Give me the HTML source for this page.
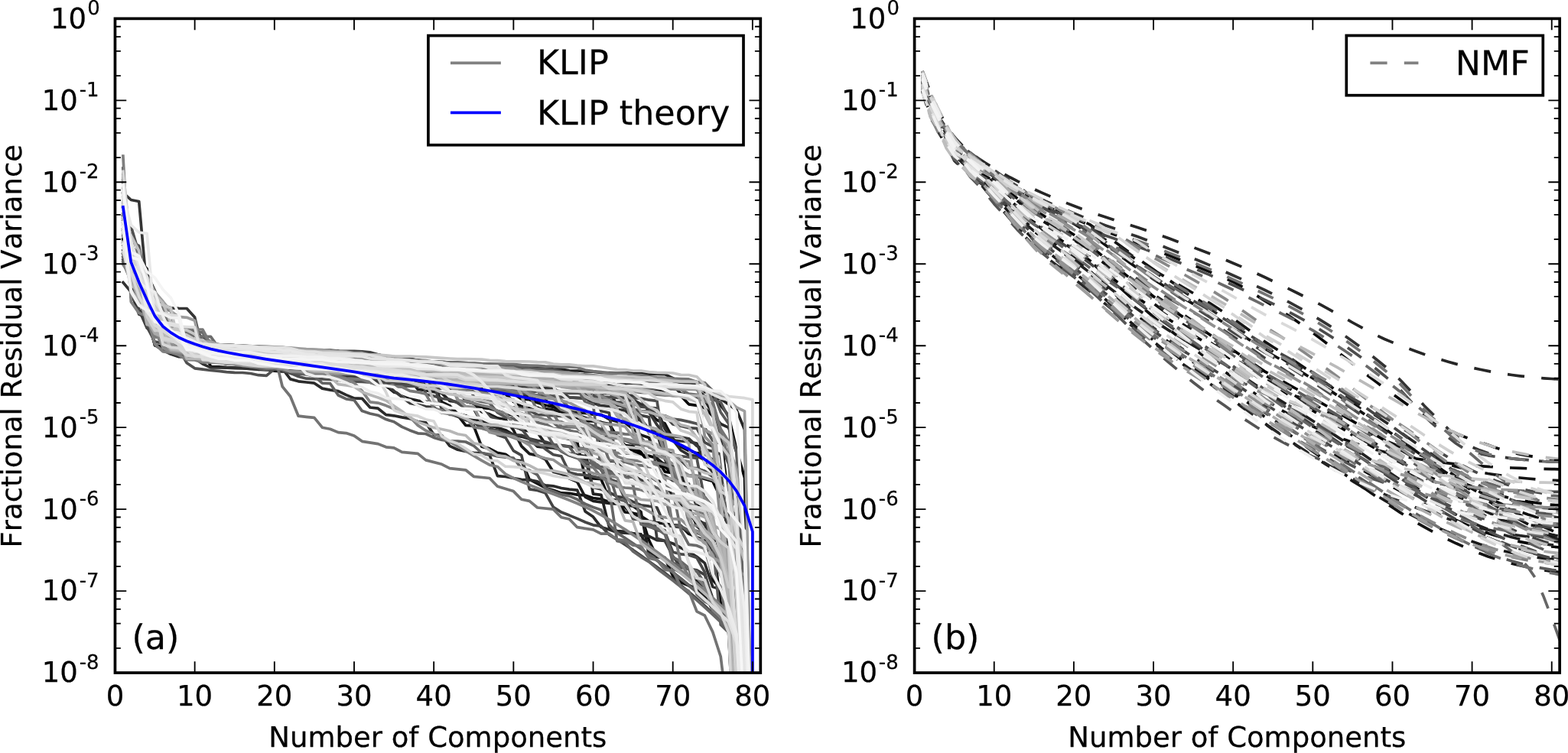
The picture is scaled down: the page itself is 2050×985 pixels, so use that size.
<!DOCTYPE html>
<html lang="en"><head><meta charset="utf-8"><title>Fractional Residual Variance: KLIP vs NMF</title>
<style>
html,body{margin:0;padding:0;background:#fff;}
body{width:2050px;height:985px;overflow:hidden;}
svg{display:block;}
text{font-family:"DejaVu Sans","Liberation Sans",sans-serif;fill:#000;stroke:#000;stroke-width:0.25px;stroke-linejoin:round;font-kerning:none;font-variant-ligatures:none;text-rendering:geometricPrecision;}
.t{font-size:37.0px;}
.s{font-size:25.9px;}
.l{font-size:44.4px;}
.k{fill:none;stroke-width:3.7;stroke-linejoin:round;stroke-linecap:square;}
.n{fill:none;stroke-width:3.7;stroke-linejoin:round;stroke-linecap:butt;stroke-dasharray:22.2 22.2;}
.sp{fill:none;stroke:#000;stroke-width:3.7;stroke-linecap:square;}
.tk{fill:none;stroke:#000;stroke-width:1.85;stroke-linecap:butt;}
</style></head><body>
<svg width="2050" height="985" viewBox="0 0 2050 985">
<rect x="0" y="0" width="2050" height="985" fill="#fff"/>
<defs>
<clipPath id="c0"><rect x="150.45" y="24.35" width="843.85" height="855.70"/></clipPath>
<clipPath id="c1"><rect x="1195.60" y="24.35" width="843.55" height="855.70"/></clipPath>
</defs>
<g clip-path="url(#c0)" class="k">
<polyline stroke="#000000" points="160.9,331.6 171.3,340.9 181.7,395.4 192.1,400.5 202.5,433.4 213.0,445.9 223.4,448.2 233.8,450.3 244.2,450.5 254.6,450.9 265.0,451.2 275.5,463.4 285.9,463.6 296.3,464.0 306.7,464.2 317.1,464.6 327.6,465.1 338.0,465.2 348.4,465.3 358.8,468.2 369.2,468.9 379.6,469.3 390.1,471.1 400.5,471.7 410.9,471.8 421.3,472.7 431.7,473.9 442.2,474.0 452.6,474.5 463.0,474.6 473.4,475.5 483.8,478.0 494.2,478.9 504.7,479.4 515.1,479.6 525.5,480.1 535.9,481.2 546.3,482.5 556.7,483.4 567.2,485.2 577.6,485.2 588.0,487.5 598.4,488.1 608.8,489.0 619.3,493.7 629.7,498.9 640.1,506.0 650.5,508.9 660.9,513.2 671.3,515.9 681.8,517.4 692.2,518.4 702.6,521.1 713.0,523.9 723.4,530.2 733.9,535.4 744.3,536.5 754.7,546.5 765.1,550.6 775.5,551.0 785.9,552.7 796.4,554.5 806.8,571.2 817.2,582.5 827.6,583.9 838.0,591.6 848.4,606.3 858.9,609.8 869.3,610.5 879.7,620.8 890.1,621.5 900.5,622.1 911.0,623.0 921.4,626.5 931.8,629.5 942.2,651.1 952.6,665.5 963.0,674.5 973.5,735.7 983.9,1040.5 994.3,1040.5"/>
<polyline stroke="#030303" points="160.9,313.7 171.3,341.3 181.7,370.6 192.1,410.9 202.5,451.9 213.0,453.2 223.4,458.4 233.8,462.4 244.2,466.1 254.6,467.1 265.0,467.2 275.5,467.4 285.9,467.9 296.3,468.9 306.7,469.6 317.1,471.2 327.6,472.1 338.0,473.0 348.4,473.8 358.8,476.1 369.2,476.4 379.6,476.4 390.1,479.9 400.5,480.6 410.9,481.1 421.3,481.3 431.7,481.5 442.2,481.8 452.6,482.7 463.0,482.9 473.4,484.8 483.8,485.1 494.2,486.2 504.7,487.1 515.1,487.6 525.5,488.1 535.9,488.1 546.3,489.6 556.7,490.6 567.2,493.5 577.6,497.9 588.0,498.3 598.4,499.6 608.8,501.5 619.3,507.2 629.7,508.2 640.1,513.1 650.5,514.0 660.9,515.3 671.3,525.4 681.8,531.6 692.2,532.6 702.6,533.3 713.0,537.7 723.4,538.6 733.9,539.6 744.3,541.8 754.7,543.2 765.1,557.8 775.5,562.7 785.9,581.4 796.4,583.2 806.8,583.6 817.2,585.9 827.6,586.4 838.0,595.4 848.4,596.3 858.9,599.4 869.3,617.1 879.7,618.6 890.1,634.3 900.5,634.8 911.0,660.4 921.4,664.8 931.8,685.5 942.2,726.8 952.6,824.5 963.0,1040.5 973.5,1040.5 983.9,1040.5 994.3,1040.5"/>
<polyline stroke="#060606" points="160.9,313.1 171.3,372.7 181.7,391.0 192.1,407.5 202.5,433.2 213.0,441.6 223.4,445.5 233.8,447.9 244.2,448.1 254.6,451.5 265.0,451.8 275.5,452.3 285.9,453.1 296.3,453.8 306.7,454.4 317.1,454.6 327.6,454.8 338.0,455.2 348.4,455.2 358.8,455.8 369.2,455.8 379.6,456.0 390.1,456.6 400.5,457.9 410.9,458.2 421.3,458.8 431.7,459.0 442.2,459.2 452.6,461.5 463.0,461.6 473.4,462.6 483.8,463.1 494.2,463.9 504.7,466.6 515.1,467.4 525.5,468.6 535.9,470.0 546.3,471.1 556.7,472.5 567.2,473.8 577.6,474.4 588.0,474.5 598.4,475.3 608.8,475.4 619.3,475.9 629.7,476.8 640.1,476.8 650.5,477.0 660.9,477.4 671.3,482.4 681.8,482.4 692.2,483.2 702.6,484.3 713.0,484.5 723.4,484.8 733.9,485.0 744.3,491.5 754.7,491.9 765.1,492.2 775.5,492.5 785.9,493.4 796.4,494.8 806.8,494.9 817.2,495.3 827.6,496.8 838.0,498.3 848.4,498.7 858.9,498.9 869.3,499.3 879.7,499.3 890.1,500.5 900.5,502.1 911.0,503.1 921.4,512.7 931.8,515.5 942.2,530.2 952.6,543.8 963.0,588.5 973.5,625.0 983.9,1040.5 994.3,1040.5"/>
<polyline stroke="#090909" points="160.9,327.8 171.3,369.8 181.7,390.8 192.1,395.4 202.5,411.9 213.0,435.8 223.4,445.1 233.8,455.9 244.2,462.6 254.6,462.9 265.0,466.4 275.5,467.6 285.9,467.9 296.3,469.7 306.7,470.3 317.1,472.5 327.6,473.1 338.0,475.2 348.4,475.2 358.8,477.1 369.2,477.1 379.6,477.2 390.1,478.4 400.5,478.8 410.9,478.9 421.3,479.4 431.7,479.9 442.2,479.9 452.6,480.1 463.0,482.6 473.4,482.7 483.8,484.4 494.2,484.9 504.7,485.8 515.1,487.3 525.5,487.4 535.9,487.4 546.3,487.6 556.7,487.7 567.2,487.8 577.6,488.1 588.0,488.9 598.4,489.9 608.8,493.2 619.3,493.6 629.7,494.5 640.1,495.8 650.5,497.8 660.9,500.0 671.3,514.9 681.8,521.9 692.2,522.7 702.6,526.7 713.0,530.0 723.4,532.4 733.9,535.6 744.3,542.1 754.7,543.1 765.1,546.4 775.5,549.7 785.9,552.2 796.4,580.6 806.8,584.2 817.2,585.7 827.6,588.9 838.0,600.2 848.4,604.4 858.9,605.5 869.3,606.5 879.7,607.9 890.1,611.2 900.5,675.6 911.0,679.1 921.4,685.9 931.8,709.5 942.2,788.4 952.6,821.9 963.0,904.1 973.5,1040.5 983.9,1040.5 994.3,1040.5"/>
<polyline stroke="#0c0c0c" points="160.9,299.8 171.3,322.1 181.7,357.1 192.1,399.9 202.5,435.5 213.0,446.7 223.4,449.4 233.8,450.8 244.2,451.5 254.6,451.7 265.0,452.1 275.5,462.9 285.9,468.2 296.3,469.1 306.7,469.2 317.1,469.3 327.6,469.4 338.0,469.5 348.4,469.6 358.8,470.5 369.2,470.6 379.6,470.7 390.1,471.4 400.5,474.8 410.9,475.9 421.3,477.1 431.7,477.4 442.2,478.3 452.6,478.4 463.0,478.5 473.4,478.5 483.8,478.8 494.2,478.8 504.7,479.1 515.1,480.5 525.5,480.5 535.9,481.4 546.3,482.3 556.7,483.1 567.2,483.7 577.6,484.2 588.0,485.6 598.4,486.2 608.8,487.2 619.3,487.4 629.7,487.5 640.1,487.5 650.5,488.8 660.9,489.3 671.3,490.4 681.8,491.7 692.2,496.7 702.6,497.6 713.0,498.4 723.4,498.6 733.9,499.4 744.3,499.8 754.7,499.8 765.1,500.1 775.5,501.0 785.9,502.1 796.4,502.1 806.8,504.4 817.2,504.8 827.6,507.0 838.0,508.0 848.4,508.2 858.9,509.5 869.3,514.3 879.7,515.6 890.1,517.8 900.5,528.8 911.0,530.3 921.4,533.8 931.8,544.1 942.2,569.2 952.6,653.5 963.0,659.2 973.5,1040.5 983.9,1040.5 994.3,1040.5"/>
<polyline stroke="#0f0f0f" points="160.9,272.7 171.3,345.1 181.7,384.5 192.1,407.6 202.5,425.9 213.0,433.4 223.4,440.7 233.8,441.4 244.2,441.7 254.6,451.7 265.0,455.1 275.5,479.5 285.9,479.9 296.3,480.7 306.7,481.2 317.1,481.6 327.6,482.0 338.0,483.3 348.4,483.3 358.8,485.1 369.2,485.9 379.6,486.0 390.1,486.9 400.5,487.3 410.9,487.9 421.3,488.7 431.7,488.9 442.2,489.0 452.6,489.1 463.0,489.2 473.4,490.6 483.8,492.6 494.2,494.2 504.7,494.8 515.1,496.8 525.5,498.9 535.9,499.7 546.3,499.7 556.7,499.7 567.2,499.9 577.6,499.9 588.0,501.1 598.4,501.6 608.8,525.0 619.3,528.1 629.7,533.4 640.1,534.4 650.5,537.6 660.9,540.7 671.3,543.1 681.8,544.4 692.2,545.4 702.6,551.9 713.0,558.0 723.4,564.1 733.9,572.1 744.3,574.3 754.7,578.6 765.1,625.2 775.5,625.9 785.9,626.7 796.4,652.7 806.8,654.6 817.2,670.0 827.6,671.2 838.0,673.5 848.4,706.5 858.9,728.6 869.3,729.7 879.7,753.5 890.1,761.7 900.5,766.0 911.0,774.1 921.4,778.6 931.8,797.9 942.2,807.7 952.6,817.7 963.0,944.4 973.5,1027.3 983.9,1040.5 994.3,1040.5"/>
<polyline stroke="#131313" points="160.9,318.9 171.3,347.7 181.7,356.3 192.1,384.9 202.5,411.1 213.0,433.4 223.4,437.7 233.8,443.4 244.2,446.4 254.6,448.6 265.0,448.8 275.5,450.8 285.9,451.1 296.3,451.7 306.7,451.8 317.1,452.4 327.6,454.7 338.0,455.6 348.4,457.1 358.8,457.4 369.2,457.5 379.6,457.6 390.1,459.8 400.5,460.8 410.9,460.9 421.3,461.6 431.7,461.7 442.2,462.0 452.6,467.9 463.0,471.2 473.4,472.8 483.8,478.1 494.2,484.6 504.7,485.9 515.1,486.4 525.5,493.5 535.9,495.0 546.3,501.7 556.7,502.9 567.2,504.1 577.6,525.8 588.0,530.9 598.4,543.0 608.8,556.4 619.3,557.1 629.7,584.1 640.1,586.9 650.5,592.3 660.9,594.2 671.3,602.0 681.8,602.8 692.2,627.2 702.6,632.6 713.0,638.2 723.4,641.3 733.9,644.9 744.3,645.3 754.7,647.1 765.1,648.0 775.5,651.5 785.9,652.8 796.4,656.7 806.8,658.3 817.2,663.4 827.6,674.0 838.0,675.0 848.4,681.7 858.9,683.7 869.3,685.2 879.7,686.6 890.1,687.6 900.5,698.4 911.0,702.6 921.4,707.1 931.8,758.7 942.2,770.3 952.6,805.0 963.0,862.9 973.5,1022.5 983.9,1040.5 994.3,1040.5"/>
<polyline stroke="#161616" points="160.9,306.8 171.3,381.4 181.7,387.5 192.1,398.1 202.5,431.2 213.0,442.6 223.4,446.1 233.8,446.8 244.2,449.1 254.6,452.0 265.0,453.4 275.5,456.6 285.9,456.8 296.3,457.6 306.7,457.6 317.1,458.4 327.6,461.3 338.0,461.6 348.4,462.0 358.8,463.9 369.2,464.5 379.6,464.6 390.1,464.7 400.5,464.9 410.9,466.5 421.3,467.1 431.7,467.8 442.2,467.9 452.6,468.4 463.0,469.2 473.4,469.8 483.8,470.6 494.2,470.6 504.7,470.7 515.1,471.2 525.5,475.2 535.9,475.5 546.3,476.9 556.7,480.8 567.2,481.0 577.6,481.2 588.0,481.2 598.4,481.6 608.8,482.8 619.3,483.0 629.7,483.2 640.1,483.8 650.5,485.9 660.9,486.5 671.3,489.0 681.8,490.2 692.2,492.3 702.6,493.8 713.0,496.1 723.4,497.1 733.9,498.7 744.3,499.6 754.7,506.1 765.1,506.9 775.5,508.6 785.9,510.4 796.4,511.7 806.8,530.1 817.2,531.7 827.6,536.5 838.0,538.0 848.4,539.3 858.9,549.5 869.3,554.0 879.7,573.7 890.1,584.3 900.5,589.5 911.0,592.7 921.4,593.7 931.8,601.4 942.2,616.9 952.6,638.6 963.0,651.4 973.5,665.7 983.9,1040.5 994.3,1040.5"/>
<polyline stroke="#191919" points="160.9,271.7 171.3,333.1 181.7,341.3 192.1,351.6 202.5,413.0 213.0,422.4 223.4,429.2 233.8,430.7 244.2,431.2 254.6,446.0 265.0,450.9 275.5,451.1 285.9,451.1 296.3,451.2 306.7,451.7 317.1,451.9 327.6,453.2 338.0,454.2 348.4,456.6 358.8,458.6 369.2,458.7 379.6,459.7 390.1,459.8 400.5,460.1 410.9,460.1 421.3,460.9 431.7,461.1 442.2,461.3 452.6,461.6 463.0,464.9 473.4,466.6 483.8,467.2 494.2,467.5 504.7,474.1 515.1,475.5 525.5,476.3 535.9,477.4 546.3,479.2 556.7,480.3 567.2,482.0 577.6,482.6 588.0,483.0 598.4,484.7 608.8,486.2 619.3,488.9 629.7,490.6 640.1,497.1 650.5,499.9 660.9,513.6 671.3,516.1 681.8,517.1 692.2,519.7 702.6,522.0 713.0,534.6 723.4,536.2 733.9,537.2 744.3,538.7 754.7,539.9 765.1,540.5 775.5,542.1 785.9,542.4 796.4,548.5 806.8,551.6 817.2,553.0 827.6,561.1 838.0,569.0 848.4,572.5 858.9,599.6 869.3,608.2 879.7,610.8 890.1,624.7 900.5,639.2 911.0,641.0 921.4,662.8 931.8,665.1 942.2,671.8 952.6,680.4 963.0,700.9 973.5,707.2 983.9,1040.5 994.3,1040.5"/>
<polyline stroke="#1c1c1c" points="160.9,236.5 171.3,344.1 181.7,396.9 192.1,408.4 202.5,432.5 213.0,434.2 223.4,447.5 233.8,448.1 244.2,463.2 254.6,467.1 265.0,469.3 275.5,470.6 285.9,471.2 296.3,473.7 306.7,474.0 317.1,477.0 327.6,477.3 338.0,478.2 348.4,478.5 358.8,480.9 369.2,481.1 379.6,481.1 390.1,481.9 400.5,483.8 410.9,483.8 421.3,485.4 431.7,487.6 442.2,489.2 452.6,489.5 463.0,492.5 473.4,492.8 483.8,498.3 494.2,498.4 504.7,498.6 515.1,500.7 525.5,501.3 535.9,501.4 546.3,501.6 556.7,501.8 567.2,501.8 577.6,505.2 588.0,505.2 598.4,506.0 608.8,525.2 619.3,527.6 629.7,538.7 640.1,541.8 650.5,546.8 660.9,548.7 671.3,562.7 681.8,583.6 692.2,593.6 702.6,595.9 713.0,600.8 723.4,617.3 733.9,620.0 744.3,625.9 754.7,630.4 765.1,650.0 775.5,655.4 785.9,657.0 796.4,658.4 806.8,659.2 817.2,660.3 827.6,662.1 838.0,669.4 848.4,725.4 858.9,733.0 869.3,740.8 879.7,748.8 890.1,756.9 900.5,765.5 911.0,770.6 921.4,782.9 931.8,793.2 942.2,802.9 952.6,812.9 963.0,848.2 973.5,946.0 983.9,1040.5 994.3,1040.5"/>
<polyline stroke="#1f1f1f" points="160.9,279.7 171.3,329.0 181.7,333.1 192.1,421.4 202.5,426.5 213.0,444.6 223.4,445.6 233.8,447.7 244.2,451.7 254.6,451.9 265.0,453.1 275.5,453.7 285.9,473.4 296.3,473.6 306.7,473.6 317.1,475.0 327.6,475.9 338.0,476.5 348.4,478.3 358.8,478.5 369.2,478.9 379.6,479.0 390.1,479.2 400.5,479.4 410.9,479.5 421.3,479.8 431.7,487.0 442.2,488.0 452.6,491.3 463.0,492.2 473.4,493.4 483.8,493.8 494.2,498.7 504.7,504.7 515.1,513.1 525.5,514.7 535.9,521.7 546.3,524.0 556.7,525.3 567.2,528.4 577.6,528.8 588.0,530.9 598.4,541.2 608.8,543.8 619.3,548.6 629.7,549.9 640.1,556.4 650.5,559.4 660.9,562.7 671.3,568.9 681.8,571.1 692.2,574.2 702.6,584.2 713.0,585.4 723.4,585.9 733.9,588.3 744.3,593.0 754.7,595.1 765.1,596.8 775.5,600.5 785.9,602.3 796.4,602.8 806.8,603.8 817.2,613.1 827.6,620.1 838.0,621.0 848.4,622.3 858.9,629.1 869.3,630.2 879.7,649.9 890.1,661.0 900.5,662.7 911.0,688.3 921.4,696.7 931.8,727.4 942.2,742.1 952.6,769.2 963.0,794.1 973.5,882.3 983.9,1040.5 994.3,1040.5"/>
<polyline stroke="#222222" points="160.9,289.8 171.3,342.3 181.7,345.3 192.1,358.2 202.5,380.5 213.0,410.0 223.4,424.6 233.8,437.5 244.2,443.9 254.6,444.8 265.0,458.8 275.5,459.1 285.9,464.7 296.3,464.8 306.7,464.9 317.1,465.0 327.6,466.0 338.0,467.1 348.4,467.4 358.8,468.7 369.2,470.8 379.6,472.0 390.1,472.7 400.5,474.0 410.9,474.4 421.3,474.7 431.7,475.3 442.2,475.5 452.6,476.5 463.0,476.7 473.4,478.6 483.8,480.5 494.2,480.9 504.7,484.3 515.1,489.0 525.5,490.7 535.9,495.3 546.3,509.5 556.7,510.7 567.2,512.6 577.6,514.3 588.0,524.4 598.4,525.8 608.8,533.4 619.3,534.5 629.7,553.0 640.1,554.6 650.5,555.2 660.9,556.6 671.3,557.0 681.8,562.1 692.2,563.9 702.6,565.8 713.0,580.4 723.4,581.8 733.9,582.7 744.3,584.0 754.7,585.8 765.1,587.3 775.5,646.1 785.9,647.3 796.4,689.4 806.8,694.6 817.2,695.3 827.6,697.8 838.0,698.9 848.4,721.3 858.9,728.0 869.3,729.7 879.7,742.8 890.1,749.1 900.5,756.3 911.0,760.0 921.4,767.4 931.8,787.4 942.2,801.7 952.6,811.7 963.0,962.1 973.5,1040.5 983.9,1040.5 994.3,1040.5"/>
<polyline stroke="#252525" points="160.9,286.8 171.3,336.3 181.7,371.2 192.1,385.7 202.5,412.1 213.0,422.0 223.4,428.7 233.8,429.3 244.2,429.9 254.6,431.4 265.0,442.8 275.5,446.7 285.9,451.1 296.3,451.6 306.7,453.6 317.1,454.6 327.6,455.5 338.0,455.7 348.4,456.1 358.8,456.9 369.2,457.1 379.6,457.1 390.1,457.8 400.5,457.9 410.9,460.8 421.3,461.2 431.7,461.5 442.2,462.6 452.6,464.3 463.0,465.7 473.4,465.7 483.8,466.6 494.2,468.5 504.7,469.2 515.1,470.2 525.5,470.2 535.9,470.3 546.3,471.6 556.7,472.7 567.2,473.0 577.6,473.3 588.0,474.0 598.4,474.1 608.8,474.5 619.3,475.3 629.7,476.9 640.1,477.0 650.5,477.1 660.9,478.4 671.3,478.9 681.8,479.2 692.2,479.3 702.6,479.9 713.0,482.4 723.4,482.9 733.9,483.1 744.3,484.8 754.7,485.0 765.1,485.8 775.5,486.2 785.9,487.5 796.4,487.7 806.8,487.8 817.2,487.8 827.6,488.4 838.0,488.6 848.4,489.1 858.9,489.4 869.3,489.6 879.7,494.6 890.1,500.2 900.5,502.2 911.0,509.7 921.4,518.3 931.8,519.9 942.2,521.7 952.6,529.0 963.0,536.4 973.5,562.0 983.9,1040.5 994.3,1040.5"/>
<polyline stroke="#282828" points="160.9,236.9 171.3,319.3 181.7,360.7 192.1,387.9 202.5,428.5 213.0,441.2 223.4,442.2 233.8,447.9 244.2,449.2 254.6,453.1 265.0,453.3 275.5,453.9 285.9,456.2 296.3,457.5 306.7,457.8 317.1,460.0 327.6,460.9 338.0,461.6 348.4,462.5 358.8,463.9 369.2,464.0 379.6,467.6 390.1,467.8 400.5,470.2 410.9,471.0 421.3,472.3 431.7,474.5 442.2,474.9 452.6,475.1 463.0,475.6 473.4,477.4 483.8,478.3 494.2,478.9 504.7,478.9 515.1,479.2 525.5,479.9 535.9,480.4 546.3,481.9 556.7,482.1 567.2,482.6 577.6,485.4 588.0,486.3 598.4,486.5 608.8,486.7 619.3,488.3 629.7,488.3 640.1,491.2 650.5,491.6 660.9,491.9 671.3,491.9 681.8,492.3 692.2,492.8 702.6,493.0 713.0,493.3 723.4,495.1 733.9,495.5 744.3,496.3 754.7,496.4 765.1,496.8 775.5,497.2 785.9,499.3 796.4,500.1 806.8,500.3 817.2,501.1 827.6,501.1 838.0,502.1 848.4,502.6 858.9,502.7 869.3,502.9 879.7,503.6 890.1,514.9 900.5,516.8 911.0,522.2 921.4,523.0 931.8,541.7 942.2,554.5 952.6,559.4 963.0,591.9 973.5,700.8 983.9,1026.0 994.3,1040.5"/>
<polyline stroke="#2b2b2b" points="160.9,318.7 171.3,359.4 181.7,380.6 192.1,405.1 202.5,427.8 213.0,432.0 223.4,432.3 233.8,432.6 244.2,450.2 254.6,454.6 265.0,455.5 275.5,461.0 285.9,462.6 296.3,464.2 306.7,465.1 317.1,468.0 327.6,468.1 338.0,468.2 348.4,469.6 358.8,470.2 369.2,482.1 379.6,495.9 390.1,498.8 400.5,500.0 410.9,501.2 421.3,508.1 431.7,510.1 442.2,511.6 452.6,516.6 463.0,520.9 473.4,521.3 483.8,533.0 494.2,534.2 504.7,542.6 515.1,543.8 525.5,545.9 535.9,547.6 546.3,551.5 556.7,552.9 567.2,568.6 577.6,569.6 588.0,583.4 598.4,588.2 608.8,590.5 619.3,592.3 629.7,592.6 640.1,595.3 650.5,622.7 660.9,623.5 671.3,625.5 681.8,627.4 692.2,627.8 702.6,629.8 713.0,634.8 723.4,635.8 733.9,638.5 744.3,640.2 754.7,641.2 765.1,668.9 775.5,676.1 785.9,689.6 796.4,692.7 806.8,696.6 817.2,697.2 827.6,697.9 838.0,700.5 848.4,701.3 858.9,706.7 869.3,707.5 879.7,711.0 890.1,716.5 900.5,721.8 911.0,728.3 921.4,736.6 931.8,767.6 942.2,770.9 952.6,783.9 963.0,802.4 973.5,1040.5 983.9,1040.5 994.3,1040.5"/>
<polyline stroke="#2e2e2e" points="160.9,296.6 171.3,376.8 181.7,406.5 192.1,408.7 202.5,431.6 213.0,453.9 223.4,458.4 233.8,459.3 244.2,459.6 254.6,459.7 265.0,460.9 275.5,462.8 285.9,462.9 296.3,463.1 306.7,464.7 317.1,467.2 327.6,467.4 338.0,468.2 348.4,469.2 358.8,470.8 369.2,473.4 379.6,473.5 390.1,473.8 400.5,474.5 410.9,474.7 421.3,474.8 431.7,475.5 442.2,475.7 452.6,476.6 463.0,477.6 473.4,477.9 483.8,479.0 494.2,479.5 504.7,479.6 515.1,480.1 525.5,480.2 535.9,480.3 546.3,480.7 556.7,481.2 567.2,481.8 577.6,483.0 588.0,483.7 598.4,484.7 608.8,484.8 619.3,484.8 629.7,484.9 640.1,485.4 650.5,486.3 660.9,488.3 671.3,488.5 681.8,489.0 692.2,490.1 702.6,491.7 713.0,492.8 723.4,493.7 733.9,493.7 744.3,494.2 754.7,494.5 765.1,496.6 775.5,507.3 785.9,513.2 796.4,513.6 806.8,518.6 817.2,519.9 827.6,522.8 838.0,528.9 848.4,533.2 858.9,534.4 869.3,561.2 879.7,575.3 890.1,589.0 900.5,595.1 911.0,596.5 921.4,601.5 931.8,605.2 942.2,624.9 952.6,640.0 963.0,659.2 973.5,746.1 983.9,1040.5 994.3,1040.5"/>
<polyline stroke="#313131" points="160.9,369.5 171.3,381.9 181.7,411.1 192.1,415.3 202.5,451.5 213.0,458.1 223.4,463.3 233.8,466.7 244.2,467.3 254.6,468.7 265.0,476.1 275.5,480.9 285.9,481.0 296.3,481.1 306.7,481.6 317.1,481.7 327.6,482.6 338.0,482.8 348.4,483.8 358.8,484.0 369.2,484.2 379.6,484.2 390.1,485.5 400.5,485.8 410.9,485.9 421.3,486.2 431.7,488.4 442.2,489.0 452.6,489.6 463.0,489.7 473.4,490.5 483.8,490.5 494.2,491.4 504.7,492.0 515.1,492.9 525.5,493.1 535.9,493.5 546.3,496.1 556.7,496.1 567.2,496.6 577.6,497.0 588.0,497.4 598.4,497.8 608.8,498.0 619.3,498.7 629.7,499.2 640.1,499.8 650.5,502.0 660.9,504.0 671.3,505.2 681.8,505.9 692.2,506.1 702.6,507.3 713.0,507.5 723.4,509.4 733.9,513.6 744.3,519.8 754.7,520.3 765.1,520.7 775.5,527.2 785.9,530.7 796.4,531.6 806.8,535.7 817.2,536.8 827.6,546.2 838.0,550.4 848.4,561.3 858.9,567.3 869.3,569.1 879.7,575.8 890.1,577.0 900.5,577.6 911.0,580.1 921.4,605.1 931.8,617.5 942.2,622.6 952.6,714.8 963.0,759.9 973.5,1040.5 983.9,1040.5 994.3,1040.5"/>
<polyline stroke="#353535" points="160.9,252.1 171.3,261.5 181.7,263.5 192.1,378.9 202.5,392.0 213.0,399.3 223.4,402.8 233.8,403.3 244.2,403.5 254.6,415.1 265.0,458.2 275.5,461.3 285.9,462.1 296.3,462.1 306.7,462.2 317.1,462.2 327.6,463.9 338.0,465.9 348.4,465.9 358.8,466.1 369.2,466.1 379.6,466.6 390.1,467.1 400.5,467.6 410.9,467.6 421.3,469.0 431.7,469.7 442.2,470.8 452.6,471.6 463.0,471.7 473.4,472.9 483.8,473.1 494.2,474.3 504.7,475.8 515.1,476.7 525.5,476.8 535.9,478.8 546.3,479.6 556.7,481.7 567.2,482.4 577.6,482.7 588.0,482.8 598.4,483.1 608.8,483.2 619.3,483.2 629.7,483.4 640.1,484.4 650.5,484.7 660.9,484.8 671.3,485.1 681.8,485.3 692.2,486.0 702.6,486.4 713.0,486.5 723.4,487.1 733.9,487.2 744.3,491.5 754.7,494.3 765.1,496.9 775.5,501.3 785.9,501.8 796.4,509.8 806.8,515.2 817.2,516.6 827.6,539.8 838.0,548.5 848.4,561.1 858.9,566.5 869.3,600.8 879.7,621.8 890.1,623.1 900.5,671.9 911.0,683.3 921.4,684.7 931.8,703.6 942.2,712.6 952.6,767.3 963.0,779.2 973.5,798.4 983.9,998.7 994.3,1040.5"/>
<polyline stroke="#383838" points="160.9,282.3 171.3,308.9 181.7,364.5 192.1,394.9 202.5,428.1 213.0,443.9 223.4,445.0 233.8,466.0 244.2,466.4 254.6,467.7 265.0,468.7 275.5,471.1 285.9,473.7 296.3,476.2 306.7,476.5 317.1,478.8 327.6,479.7 338.0,480.0 348.4,480.7 358.8,471.8 369.2,473.9 379.6,477.1 390.1,481.6 400.5,484.5 410.9,484.9 421.3,487.1 431.7,487.6 442.2,489.6 452.6,490.5 463.0,491.3 473.4,491.3 483.8,491.7 494.2,492.1 504.7,492.6 515.1,493.2 525.5,493.4 535.9,493.5 546.3,494.3 556.7,494.3 567.2,494.4 577.6,494.8 588.0,495.8 598.4,496.3 608.8,497.0 619.3,499.6 629.7,500.3 640.1,500.8 650.5,501.3 660.9,501.6 671.3,501.6 681.8,502.9 692.2,504.0 702.6,506.6 713.0,508.3 723.4,508.3 733.9,513.7 744.3,513.7 754.7,513.8 765.1,513.8 775.5,514.1 785.9,514.5 796.4,514.7 806.8,514.7 817.2,516.6 827.6,517.7 838.0,521.9 848.4,538.8 858.9,555.8 869.3,567.9 879.7,570.7 890.1,571.9 900.5,573.7 911.0,583.4 921.4,588.0 931.8,590.5 942.2,594.3 952.6,670.6 963.0,815.5 973.5,1040.5 983.9,1040.5 994.3,1040.5"/>
<polyline stroke="#3b3b3b" points="160.9,272.1 171.3,337.3 181.7,341.8 192.1,378.6 202.5,393.7 213.0,439.3 223.4,447.9 233.8,448.6 244.2,454.2 254.6,460.3 265.0,460.6 275.5,463.8 285.9,464.6 296.3,465.3 306.7,465.8 317.1,465.9 327.6,466.5 338.0,466.5 348.4,466.9 358.8,467.6 369.2,469.3 379.6,469.4 390.1,470.8 400.5,471.2 410.9,471.8 421.3,472.7 431.7,474.9 442.2,481.4 452.6,488.9 463.0,490.9 473.4,493.0 483.8,496.7 494.2,499.3 504.7,501.5 515.1,511.4 525.5,519.2 535.9,527.4 546.3,529.4 556.7,531.9 567.2,532.9 577.6,539.9 588.0,541.2 598.4,545.1 608.8,549.1 619.3,552.3 629.7,560.1 640.1,561.5 650.5,563.0 660.9,565.7 671.3,568.8 681.8,569.3 692.2,573.7 702.6,576.2 713.0,578.0 723.4,581.2 733.9,590.3 744.3,595.8 754.7,599.3 765.1,600.4 775.5,637.5 785.9,639.9 796.4,643.9 806.8,649.7 817.2,651.1 827.6,656.4 838.0,660.8 848.4,662.2 858.9,664.0 869.3,687.6 879.7,688.3 890.1,690.0 900.5,695.2 911.0,696.6 921.4,701.9 931.8,712.3 942.2,743.6 952.6,754.0 963.0,765.7 973.5,806.0 983.9,1040.5 994.3,1040.5"/>
<polyline stroke="#3e3e3e" points="160.9,316.4 171.3,375.5 181.7,388.3 192.1,428.2 202.5,440.2 213.0,443.3 223.4,449.6 233.8,451.9 244.2,455.4 254.6,455.7 265.0,460.1 275.5,460.6 285.9,462.6 296.3,466.5 306.7,468.5 317.1,468.6 327.6,468.7 338.0,468.7 348.4,469.0 358.8,470.0 369.2,470.3 379.6,470.6 390.1,470.8 400.5,474.0 410.9,474.7 421.3,476.1 431.7,476.6 442.2,476.7 452.6,477.1 463.0,477.2 473.4,478.5 483.8,478.8 494.2,478.8 504.7,478.8 515.1,478.9 525.5,479.2 535.9,482.7 546.3,485.5 556.7,485.7 567.2,485.7 577.6,487.4 588.0,487.4 598.4,488.0 608.8,488.0 619.3,488.7 629.7,488.8 640.1,493.5 650.5,493.6 660.9,494.8 671.3,495.6 681.8,496.0 692.2,497.4 702.6,498.8 713.0,499.0 723.4,500.0 733.9,500.0 744.3,500.6 754.7,504.5 765.1,511.9 775.5,512.9 785.9,537.7 796.4,540.0 806.8,612.8 817.2,618.4 827.6,621.3 838.0,628.0 848.4,629.1 858.9,704.2 869.3,707.6 879.7,727.5 890.1,742.1 900.5,744.1 911.0,745.9 921.4,751.9 931.8,782.7 942.2,792.4 952.6,802.4 963.0,1000.7 973.5,1040.5 983.9,1040.5 994.3,1040.5"/>
<polyline stroke="#414141" points="160.9,236.2 171.3,320.6 181.7,405.2 192.1,429.0 202.5,434.0 213.0,437.3 223.4,438.7 233.8,443.3 244.2,446.3 254.6,446.5 265.0,446.6 275.5,450.9 285.9,451.1 296.3,451.1 306.7,451.9 317.1,453.6 327.6,454.0 338.0,454.1 348.4,454.3 358.8,455.5 369.2,455.9 379.6,456.7 390.1,457.0 400.5,457.2 410.9,457.5 421.3,458.2 431.7,458.2 442.2,459.2 452.6,459.3 463.0,459.3 473.4,459.9 483.8,460.9 494.2,463.9 504.7,466.4 515.1,466.7 525.5,468.3 535.9,469.0 546.3,471.8 556.7,473.9 567.2,475.6 577.6,476.0 588.0,476.1 598.4,476.6 608.8,478.7 619.3,479.1 629.7,479.5 640.1,479.8 650.5,481.8 660.9,484.3 671.3,485.4 681.8,486.1 692.2,492.0 702.6,492.9 713.0,493.4 723.4,494.1 733.9,494.6 744.3,494.7 754.7,494.8 765.1,496.3 775.5,496.6 785.9,496.6 796.4,498.5 806.8,504.4 817.2,506.2 827.6,536.8 838.0,543.2 848.4,545.6 858.9,619.5 869.3,622.1 879.7,628.7 890.1,631.4 900.5,632.8 911.0,663.3 921.4,668.5 931.8,687.7 942.2,725.2 952.6,740.5 963.0,819.3 973.5,845.1 983.9,1040.5 994.3,1040.5"/>
<polyline stroke="#444444" points="160.9,321.9 171.3,361.3 181.7,393.3 192.1,395.8 202.5,438.9 213.0,443.1 223.4,443.8 233.8,445.2 244.2,445.4 254.6,457.7 265.0,459.8 275.5,460.5 285.9,467.8 296.3,470.8 306.7,472.3 317.1,474.2 327.6,474.8 338.0,475.8 348.4,478.0 358.8,480.9 369.2,480.9 379.6,481.2 390.1,481.5 400.5,482.9 410.9,483.2 421.3,484.8 431.7,484.8 442.2,485.6 452.6,485.9 463.0,486.2 473.4,486.7 483.8,491.5 494.2,493.0 504.7,493.0 515.1,493.6 525.5,493.9 535.9,493.9 546.3,498.6 556.7,499.1 567.2,502.3 577.6,535.6 588.0,537.0 598.4,543.3 608.8,549.4 619.3,551.4 629.7,556.7 640.1,557.1 650.5,569.1 660.9,572.4 671.3,589.6 681.8,595.6 692.2,639.8 702.6,641.5 713.0,644.8 723.4,663.4 733.9,670.1 744.3,674.1 754.7,678.4 765.1,683.0 775.5,686.8 785.9,688.2 796.4,699.5 806.8,705.8 817.2,712.5 827.6,719.4 838.0,726.7 848.4,734.2 858.9,741.8 869.3,749.6 879.7,757.6 890.1,765.7 900.5,774.3 911.0,783.2 921.4,792.5 931.8,802.0 942.2,811.7 952.6,821.7 963.0,829.9 973.5,1040.5 983.9,1040.5 994.3,1040.5"/>
<polyline stroke="#474747" points="160.9,339.8 171.3,366.2 181.7,385.4 192.1,427.4 202.5,447.1 213.0,448.9 223.4,454.1 233.8,461.6 244.2,461.9 254.6,463.4 265.0,468.4 275.5,470.1 285.9,470.4 296.3,470.8 306.7,470.8 317.1,470.9 327.6,471.2 338.0,471.5 348.4,473.9 358.8,478.8 369.2,480.3 379.6,488.4 390.1,489.1 400.5,489.7 410.9,490.1 421.3,490.1 431.7,491.3 442.2,492.5 452.6,494.1 463.0,495.4 473.4,495.4 483.8,495.6 494.2,496.4 504.7,500.2 515.1,500.2 525.5,503.2 535.9,503.3 546.3,503.8 556.7,506.0 567.2,507.7 577.6,508.2 588.0,508.4 598.4,509.0 608.8,509.0 619.3,511.1 629.7,511.7 640.1,511.9 650.5,512.6 660.9,513.0 671.3,513.3 681.8,515.1 692.2,515.7 702.6,517.1 713.0,517.2 723.4,518.4 733.9,519.4 744.3,520.0 754.7,520.6 765.1,521.5 775.5,522.5 785.9,523.2 796.4,523.2 806.8,526.2 817.2,526.3 827.6,528.1 838.0,532.1 848.4,533.2 858.9,543.0 869.3,543.8 879.7,554.9 890.1,557.1 900.5,559.7 911.0,560.3 921.4,578.8 931.8,584.0 942.2,617.8 952.6,643.2 963.0,913.3 973.5,1040.5 983.9,1040.5 994.3,1040.5"/>
<polyline stroke="#4a4a4a" points="160.9,246.3 171.3,349.3 181.7,351.5 192.1,409.0 202.5,419.8 213.0,446.0 223.4,446.7 233.8,448.2 244.2,449.2 254.6,449.6 265.0,449.9 275.5,451.5 285.9,452.6 296.3,452.7 306.7,453.0 317.1,455.0 327.6,455.2 338.0,455.7 348.4,455.8 358.8,457.7 369.2,458.1 379.6,460.2 390.1,460.3 400.5,460.3 410.9,460.7 421.3,461.2 431.7,462.2 442.2,465.1 452.6,465.2 463.0,465.2 473.4,465.3 483.8,465.4 494.2,467.0 504.7,467.7 515.1,470.4 525.5,470.4 535.9,473.3 546.3,474.0 556.7,515.8 567.2,518.0 577.6,521.3 588.0,522.3 598.4,527.2 608.8,534.4 619.3,535.2 629.7,536.4 640.1,544.3 650.5,549.6 660.9,553.9 671.3,558.4 681.8,560.9 692.2,574.4 702.6,579.5 713.0,587.4 723.4,594.8 733.9,596.7 744.3,618.0 754.7,620.6 765.1,621.4 775.5,623.3 785.9,625.7 796.4,626.8 806.8,630.3 817.2,652.9 827.6,678.8 838.0,679.6 848.4,688.2 858.9,693.4 869.3,696.0 879.7,722.2 890.1,724.8 900.5,725.9 911.0,729.6 921.4,748.4 931.8,788.4 942.2,802.9 952.6,812.9 963.0,1040.5 973.5,1040.5 983.9,1040.5 994.3,1040.5"/>
<polyline stroke="#4d4d4d" points="160.9,220.1 171.3,389.4 181.7,396.0 192.1,403.7 202.5,428.1 213.0,429.7 223.4,429.9 233.8,430.6 244.2,467.9 254.6,468.5 265.0,468.6 275.5,469.6 285.9,469.9 296.3,470.0 306.7,470.3 317.1,474.5 327.6,475.6 338.0,476.7 348.4,476.9 358.8,477.1 369.2,478.6 379.6,479.9 390.1,480.1 400.5,480.3 410.9,483.2 421.3,483.2 431.7,483.6 442.2,484.9 452.6,485.1 463.0,485.4 473.4,487.7 483.8,488.0 494.2,488.4 504.7,488.7 515.1,489.0 525.5,489.1 535.9,490.1 546.3,490.3 556.7,491.3 567.2,491.3 577.6,492.1 588.0,492.9 598.4,494.1 608.8,494.2 619.3,518.9 629.7,523.6 640.1,524.5 650.5,528.9 660.9,531.1 671.3,533.2 681.8,533.6 692.2,537.1 702.6,542.5 713.0,542.8 723.4,543.6 733.9,544.4 744.3,545.8 754.7,553.1 765.1,553.5 775.5,557.3 785.9,561.5 796.4,566.6 806.8,571.5 817.2,576.2 827.6,580.6 838.0,582.2 848.4,582.8 858.9,586.1 869.3,591.3 879.7,593.5 890.1,602.4 900.5,612.1 911.0,612.7 921.4,616.2 931.8,623.5 942.2,627.2 952.6,693.1 963.0,710.8 973.5,802.2 983.9,1040.5 994.3,1040.5"/>
<polyline stroke="#505050" points="160.9,272.6 171.3,296.0 181.7,331.6 192.1,402.6 202.5,439.0 213.0,442.3 223.4,456.9 233.8,457.1 244.2,474.7 254.6,481.8 265.0,483.2 275.5,484.5 285.9,485.4 296.3,486.6 306.7,487.3 317.1,487.5 327.6,488.5 338.0,490.7 348.4,491.4 358.8,482.7 369.2,484.8 379.6,488.0 390.1,492.5 400.5,495.2 410.9,495.6 421.3,495.8 431.7,496.5 442.2,497.1 452.6,499.1 463.0,499.2 473.4,499.5 483.8,500.1 494.2,501.9 504.7,503.2 515.1,504.9 525.5,504.9 535.9,505.2 546.3,505.3 556.7,505.8 567.2,505.8 577.6,506.3 588.0,506.8 598.4,506.8 608.8,506.9 619.3,507.5 629.7,509.5 640.1,509.8 650.5,510.5 660.9,511.1 671.3,511.3 681.8,511.8 692.2,512.0 702.6,512.2 713.0,513.4 723.4,513.9 733.9,514.1 744.3,514.4 754.7,514.5 765.1,514.9 775.5,519.0 785.9,519.1 796.4,519.6 806.8,520.4 817.2,520.8 827.6,520.8 838.0,521.0 848.4,523.2 858.9,524.4 869.3,589.0 879.7,594.9 890.1,596.6 900.5,598.0 911.0,599.3 921.4,654.9 931.8,668.1 942.2,685.0 952.6,692.3 963.0,1040.5 973.5,1040.5 983.9,1040.5 994.3,1040.5"/>
<polyline stroke="#535353" points="160.9,336.4 171.3,360.5 181.7,379.1 192.1,394.1 202.5,428.6 213.0,434.0 223.4,442.9 233.8,444.7 244.2,444.7 254.6,450.9 265.0,455.2 275.5,455.2 285.9,456.3 296.3,458.3 306.7,458.6 317.1,458.9 327.6,459.1 338.0,459.8 348.4,460.9 358.8,461.2 369.2,461.9 379.6,462.4 390.1,462.5 400.5,463.8 410.9,463.8 421.3,464.2 431.7,465.3 442.2,466.0 452.6,467.1 463.0,467.8 473.4,467.9 483.8,468.5 494.2,468.7 504.7,471.8 515.1,473.9 525.5,474.6 535.9,474.7 546.3,477.3 556.7,480.0 567.2,481.0 577.6,481.1 588.0,481.6 598.4,484.0 608.8,484.4 619.3,485.2 629.7,486.6 640.1,486.8 650.5,486.9 660.9,487.3 671.3,488.5 681.8,489.1 692.2,489.7 702.6,490.8 713.0,491.1 723.4,494.0 733.9,496.0 744.3,497.8 754.7,504.0 765.1,509.6 775.5,513.8 785.9,516.2 796.4,525.8 806.8,528.5 817.2,534.2 827.6,535.1 838.0,537.6 848.4,538.0 858.9,543.3 869.3,543.8 879.7,548.1 890.1,549.4 900.5,551.6 911.0,554.3 921.4,559.6 931.8,576.3 942.2,580.3 952.6,607.2 963.0,655.4 973.5,717.1 983.9,999.1 994.3,1040.5"/>
<polyline stroke="#575757" points="160.9,258.7 171.3,315.5 181.7,321.5 192.1,382.7 202.5,437.2 213.0,443.8 223.4,457.4 233.8,457.5 244.2,458.8 254.6,462.1 265.0,463.6 275.5,464.6 285.9,464.7 296.3,465.8 306.7,466.2 317.1,468.5 327.6,468.6 338.0,469.0 348.4,469.7 358.8,469.8 369.2,472.7 379.6,472.8 390.1,473.1 400.5,475.4 410.9,475.6 421.3,476.7 431.7,477.1 442.2,477.5 452.6,479.3 463.0,480.8 473.4,481.7 483.8,483.5 494.2,483.7 504.7,483.8 515.1,484.1 525.5,484.9 535.9,485.6 546.3,485.8 556.7,486.2 567.2,488.1 577.6,489.2 588.0,490.2 598.4,491.4 608.8,492.6 619.3,492.7 629.7,495.5 640.1,496.6 650.5,496.7 660.9,496.8 671.3,497.3 681.8,498.2 692.2,498.5 702.6,500.4 713.0,500.9 723.4,501.4 733.9,503.6 744.3,505.7 754.7,506.1 765.1,507.0 775.5,508.2 785.9,508.2 796.4,509.1 806.8,510.8 817.2,510.9 827.6,512.0 838.0,513.5 848.4,513.9 858.9,516.2 869.3,516.8 879.7,516.8 890.1,517.6 900.5,517.6 911.0,518.4 921.4,522.0 931.8,522.4 942.2,526.2 952.6,546.4 963.0,676.0 973.5,825.3 983.9,1040.5 994.3,1040.5"/>
<polyline stroke="#5a5a5a" points="160.9,239.7 171.3,361.1 181.7,364.2 192.1,415.1 202.5,426.0 213.0,439.0 223.4,439.7 233.8,440.5 244.2,440.6 254.6,449.7 265.0,449.8 275.5,450.9 285.9,451.1 296.3,451.9 306.7,452.1 317.1,452.5 327.6,452.8 338.0,453.1 348.4,453.3 358.8,453.8 369.2,454.4 379.6,455.6 390.1,457.8 400.5,458.7 410.9,461.2 421.3,462.4 431.7,462.6 442.2,464.7 452.6,464.7 463.0,464.9 473.4,467.7 483.8,468.9 494.2,469.5 504.7,470.4 515.1,472.0 525.5,472.3 535.9,474.1 546.3,474.1 556.7,474.5 567.2,477.3 577.6,477.5 588.0,477.9 598.4,478.3 608.8,478.3 619.3,478.4 629.7,479.5 640.1,479.5 650.5,479.5 660.9,479.9 671.3,480.0 681.8,480.4 692.2,481.9 702.6,482.8 713.0,482.8 723.4,484.1 733.9,485.7 744.3,488.2 754.7,489.8 765.1,490.0 775.5,490.9 785.9,492.1 796.4,492.5 806.8,494.8 817.2,494.8 827.6,495.8 838.0,495.8 848.4,496.8 858.9,497.4 869.3,497.8 879.7,498.5 890.1,499.4 900.5,499.7 911.0,499.8 921.4,500.9 931.8,511.2 942.2,539.2 952.6,554.3 963.0,592.0 973.5,803.4 983.9,1040.5 994.3,1040.5"/>
<polyline stroke="#5d5d5d" points="160.9,270.2 171.3,354.0 181.7,387.9 192.1,394.7 202.5,397.1 213.0,448.9 223.4,458.2 233.8,462.9 244.2,463.3 254.6,465.2 265.0,467.7 275.5,470.0 285.9,471.3 296.3,471.8 306.7,473.1 317.1,473.7 327.6,473.9 338.0,474.0 348.4,474.1 358.8,474.3 369.2,477.8 379.6,478.7 390.1,479.6 400.5,479.7 410.9,480.1 421.3,481.7 431.7,483.1 442.2,483.1 452.6,485.5 463.0,487.0 473.4,488.2 483.8,489.0 494.2,491.7 504.7,493.8 515.1,493.8 525.5,494.2 535.9,494.6 546.3,494.7 556.7,495.5 567.2,495.5 577.6,498.2 588.0,500.5 598.4,505.9 608.8,522.1 619.3,522.9 629.7,525.5 640.1,527.2 650.5,539.7 660.9,545.9 671.3,547.3 681.8,557.1 692.2,559.6 702.6,561.1 713.0,564.5 723.4,581.4 733.9,583.1 744.3,584.4 754.7,598.6 765.1,604.6 775.5,606.5 785.9,608.9 796.4,615.7 806.8,621.4 817.2,623.3 827.6,624.2 838.0,632.0 848.4,632.9 858.9,638.1 869.3,649.6 879.7,687.0 890.1,688.4 900.5,693.6 911.0,694.7 921.4,696.8 931.8,708.8 942.2,817.2 952.6,827.2 963.0,1040.5 973.5,1040.5 983.9,1040.5 994.3,1040.5"/>
<polyline stroke="#606060" points="160.9,342.7 171.3,368.6 181.7,379.1 192.1,425.1 202.5,430.1 213.0,446.0 223.4,449.7 233.8,450.9 244.2,453.6 254.6,454.7 265.0,457.6 275.5,460.8 285.9,463.3 296.3,464.0 306.7,465.3 317.1,465.7 327.6,466.3 338.0,467.0 348.4,469.1 358.8,469.3 369.2,469.9 379.6,469.9 390.1,471.4 400.5,472.8 410.9,474.2 421.3,474.7 431.7,477.0 442.2,477.5 452.6,478.3 463.0,478.6 473.4,479.2 483.8,479.3 494.2,480.1 504.7,480.4 515.1,480.6 525.5,481.3 535.9,481.9 546.3,483.2 556.7,484.2 567.2,486.0 577.6,486.5 588.0,487.1 598.4,487.4 608.8,488.2 619.3,488.2 629.7,488.4 640.1,489.6 650.5,490.7 660.9,491.2 671.3,491.6 681.8,491.9 692.2,492.0 702.6,493.9 713.0,495.6 723.4,501.4 733.9,503.5 744.3,505.2 754.7,507.7 765.1,526.0 775.5,529.0 785.9,615.3 796.4,620.3 806.8,652.7 817.2,655.5 827.6,676.4 838.0,681.3 848.4,684.8 858.9,691.1 869.3,693.9 879.7,736.3 890.1,741.0 900.5,744.7 911.0,747.4 921.4,763.0 931.8,789.0 942.2,798.8 952.6,808.8 963.0,828.2 973.5,862.8 983.9,1040.5 994.3,1040.5"/>
<polyline stroke="#636363" points="160.9,255.4 171.3,319.3 181.7,341.6 192.1,382.7 202.5,394.9 213.0,442.4 223.4,460.7 233.8,462.5 244.2,465.0 254.6,465.7 265.0,468.1 275.5,468.7 285.9,472.8 296.3,473.4 306.7,476.4 317.1,477.2 327.6,479.8 338.0,481.8 348.4,483.7 358.8,481.5 369.2,483.6 379.6,486.2 390.1,488.3 400.5,489.6 410.9,492.2 421.3,501.2 431.7,501.7 442.2,517.0 452.6,521.9 463.0,523.3 473.4,537.6 483.8,541.0 494.2,543.2 504.7,548.6 515.1,551.8 525.5,558.4 535.9,562.9 546.3,566.8 556.7,567.5 567.2,572.4 577.6,575.5 588.0,576.8 598.4,577.2 608.8,578.0 619.3,583.0 629.7,592.5 640.1,594.3 650.5,596.9 660.9,598.1 671.3,599.0 681.8,612.9 692.2,615.3 702.6,621.2 713.0,638.7 723.4,642.7 733.9,646.9 744.3,648.9 754.7,653.3 765.1,659.2 775.5,663.5 785.9,666.9 796.4,686.3 806.8,697.1 817.2,703.8 827.6,710.7 838.0,718.0 848.4,725.5 858.9,733.1 869.3,740.9 879.7,748.9 890.1,757.0 900.5,765.6 911.0,774.5 921.4,783.8 931.8,793.3 942.2,803.0 952.6,813.0 963.0,841.9 973.5,973.2 983.9,1040.5 994.3,1040.5"/>
<polyline stroke="#666666" points="160.9,262.8 171.3,355.9 181.7,369.3 192.1,379.7 202.5,390.4 213.0,430.8 223.4,431.8 233.8,433.1 244.2,434.1 254.6,437.0 265.0,453.8 275.5,464.5 285.9,465.5 296.3,465.5 306.7,465.5 317.1,465.5 327.6,465.6 338.0,466.0 348.4,468.0 358.8,470.4 369.2,471.3 379.6,471.5 390.1,471.5 400.5,472.2 410.9,473.2 421.3,473.3 431.7,473.9 442.2,475.7 452.6,476.0 463.0,476.5 473.4,476.5 483.8,476.6 494.2,477.1 504.7,477.4 515.1,477.4 525.5,478.1 535.9,478.4 546.3,478.5 556.7,478.6 567.2,479.5 577.6,479.9 588.0,480.1 598.4,481.9 608.8,486.6 619.3,486.9 629.7,487.8 640.1,489.6 650.5,491.6 660.9,491.8 671.3,492.1 681.8,493.7 692.2,494.3 702.6,506.5 713.0,540.8 723.4,552.6 733.9,561.7 744.3,563.7 754.7,565.0 765.1,586.1 775.5,609.5 785.9,613.9 796.4,639.4 806.8,707.7 817.2,709.7 827.6,721.3 838.0,728.6 848.4,734.9 858.9,743.7 869.3,751.5 879.7,759.4 890.1,767.6 900.5,776.2 911.0,785.1 921.4,794.3 931.8,803.9 942.2,813.6 952.6,823.6 963.0,1029.3 973.5,1040.5 983.9,1040.5 994.3,1040.5"/>
<polyline stroke="#696969" points="160.9,292.1 171.3,355.3 181.7,397.3 192.1,409.5 202.5,422.2 213.0,426.8 223.4,428.6 233.8,432.5 244.2,433.3 254.6,434.8 265.0,434.8 275.5,455.0 285.9,455.0 296.3,455.4 306.7,456.1 317.1,456.6 327.6,457.9 338.0,458.5 348.4,459.7 358.8,460.1 369.2,461.9 379.6,462.4 390.1,463.2 400.5,464.3 410.9,464.7 421.3,464.9 431.7,467.4 442.2,468.5 452.6,468.5 463.0,469.0 473.4,469.9 483.8,471.7 494.2,471.9 504.7,472.4 515.1,473.9 525.5,474.5 535.9,475.4 546.3,475.4 556.7,476.1 567.2,478.8 577.6,478.8 588.0,479.3 598.4,480.0 608.8,481.5 619.3,481.5 629.7,481.6 640.1,484.3 650.5,484.4 660.9,488.3 671.3,495.1 681.8,500.3 692.2,505.9 702.6,509.9 713.0,511.4 723.4,514.7 733.9,523.1 744.3,533.3 754.7,560.1 765.1,566.8 775.5,603.5 785.9,614.1 796.4,619.2 806.8,620.4 817.2,622.4 827.6,634.7 838.0,685.7 848.4,689.1 858.9,691.5 869.3,699.1 879.7,728.9 890.1,734.4 900.5,742.9 911.0,777.5 921.4,786.8 931.8,792.4 942.2,806.1 952.6,816.1 963.0,1013.7 973.5,1040.5 983.9,1040.5 994.3,1040.5"/>
<polyline stroke="#6c6c6c" points="160.9,292.5 171.3,342.7 181.7,390.5 192.1,406.9 202.5,431.6 213.0,433.3 223.4,435.6 233.8,438.4 244.2,438.7 254.6,439.5 265.0,440.2 275.5,440.4 285.9,454.8 296.3,454.8 306.7,455.2 317.1,455.7 327.6,456.7 338.0,456.8 348.4,458.0 358.8,458.4 369.2,458.6 379.6,459.6 390.1,460.9 400.5,461.1 410.9,461.5 421.3,462.5 431.7,463.1 442.2,463.3 452.6,463.4 463.0,468.1 473.4,469.6 483.8,469.8 494.2,469.9 504.7,475.3 515.1,476.9 525.5,478.4 535.9,482.6 546.3,484.3 556.7,485.1 567.2,485.8 577.6,489.1 588.0,489.6 598.4,494.4 608.8,495.7 619.3,497.3 629.7,502.1 640.1,506.1 650.5,511.8 660.9,512.6 671.3,514.1 681.8,516.9 692.2,541.4 702.6,553.1 713.0,554.3 723.4,560.7 733.9,561.7 744.3,562.8 754.7,567.1 765.1,568.8 775.5,570.0 785.9,575.1 796.4,602.0 806.8,603.6 817.2,604.3 827.6,607.4 838.0,608.8 848.4,610.7 858.9,611.7 869.3,632.6 879.7,641.3 890.1,693.5 900.5,712.4 911.0,713.7 921.4,717.9 931.8,753.5 942.2,767.5 952.6,829.2 963.0,955.6 973.5,1040.5 983.9,1040.5 994.3,1040.5"/>
<polyline stroke="#6f6f6f" points="160.9,301.8 171.3,321.7 181.7,332.2 192.1,365.7 202.5,404.4 213.0,429.1 223.4,431.1 233.8,435.0 244.2,439.1 254.6,444.3 265.0,445.5 275.5,454.0 285.9,454.2 296.3,458.3 306.7,459.3 317.1,459.3 327.6,461.6 338.0,463.3 348.4,463.5 358.8,467.5 369.2,467.8 379.6,467.9 390.1,468.3 400.5,470.1 410.9,471.0 421.3,472.2 431.7,472.5 442.2,473.8 452.6,475.3 463.0,476.9 473.4,477.4 483.8,477.9 494.2,478.8 504.7,479.2 515.1,485.2 525.5,485.6 535.9,488.5 546.3,488.5 556.7,490.3 567.2,491.1 577.6,491.3 588.0,491.3 598.4,494.9 608.8,495.0 619.3,501.3 629.7,504.2 640.1,505.9 650.5,506.4 660.9,507.1 671.3,508.2 681.8,509.4 692.2,516.9 702.6,536.9 713.0,537.9 723.4,541.4 733.9,558.0 744.3,558.6 754.7,559.1 765.1,561.6 775.5,562.2 785.9,565.0 796.4,565.3 806.8,566.1 817.2,567.9 827.6,568.3 838.0,572.1 848.4,584.9 858.9,588.9 869.3,598.2 879.7,617.6 890.1,638.0 900.5,639.1 911.0,648.3 921.4,649.9 931.8,662.9 942.2,681.0 952.6,733.4 963.0,775.8 973.5,1040.5 983.9,1040.5 994.3,1040.5"/>
<polyline stroke="#727272" points="160.9,228.4 171.3,326.5 181.7,338.9 192.1,393.9 202.5,401.0 213.0,403.1 223.4,406.8 233.8,454.8 244.2,457.1 254.6,457.8 265.0,458.7 275.5,465.4 285.9,465.9 296.3,466.2 306.7,466.4 317.1,467.2 327.6,468.6 338.0,468.6 348.4,468.8 358.8,469.0 369.2,469.5 379.6,471.3 390.1,473.1 400.5,474.0 410.9,474.0 421.3,474.2 431.7,475.5 442.2,476.8 452.6,477.8 463.0,478.5 473.4,479.1 483.8,479.1 494.2,480.3 504.7,480.4 515.1,481.0 525.5,482.0 535.9,482.8 546.3,483.6 556.7,483.7 567.2,483.7 577.6,485.4 588.0,486.1 598.4,486.4 608.8,486.9 619.3,487.1 629.7,488.0 640.1,489.0 650.5,493.2 660.9,494.0 671.3,494.9 681.8,498.0 692.2,499.0 702.6,499.2 713.0,500.3 723.4,500.3 733.9,500.6 744.3,501.9 754.7,502.4 765.1,504.3 775.5,505.0 785.9,505.4 796.4,506.3 806.8,506.5 817.2,506.5 827.6,507.3 838.0,507.7 848.4,507.8 858.9,508.0 869.3,508.6 879.7,508.9 890.1,509.7 900.5,515.2 911.0,516.4 921.4,524.7 931.8,528.7 942.2,565.2 952.6,599.1 963.0,762.3 973.5,860.0 983.9,1040.5 994.3,1040.5"/>
<polyline stroke="#737373" points="160.9,302.5 171.3,345.2 181.7,377.3 192.1,398.7 202.5,420.1 213.0,428.7 233.8,436.2 254.6,444.7 296.3,452.2 338.0,458.6 358.8,462.9 369.2,505.7 379.6,518.5 390.1,544.2 400.5,545.3 410.9,546.3 421.3,559.2 431.7,561.3 442.2,565.6 452.6,566.6 463.0,569.9 473.4,577.3 494.2,580.6 504.7,584.8 515.1,585.9 525.5,591.3 546.3,593.4 556.7,601.9 577.6,607.3 588.0,612.6 608.8,614.8 619.3,623.3 640.1,625.5 650.5,636.2 671.3,642.6 681.8,653.3 692.2,655.4 702.6,664.0 723.4,666.1 733.9,676.8 744.3,679.0 754.7,689.7 775.5,692.9 785.9,698.2 796.4,698.2 806.8,705.7 817.2,706.8 827.6,713.2 838.0,714.3 848.4,730.3 858.9,732.4 869.3,745.3 879.7,746.3 890.1,767.7 900.5,773.1 911.0,799.8 921.4,805.2 931.8,826.6 942.2,858.7 952.6,944.2 963.0,1040.5"/>
<polyline stroke="#757575" points="160.9,333.2 171.3,368.1 181.7,372.1 192.1,394.2 202.5,395.0 213.0,402.0 223.4,428.3 233.8,429.5 244.2,432.5 254.6,452.9 265.0,453.9 275.5,454.2 285.9,456.3 296.3,457.4 306.7,457.6 317.1,457.7 327.6,457.9 338.0,458.1 348.4,459.2 358.8,459.3 369.2,461.1 379.6,463.0 390.1,463.4 400.5,464.9 410.9,465.0 421.3,465.1 431.7,466.2 442.2,466.7 452.6,468.4 463.0,468.6 473.4,469.5 483.8,469.8 494.2,470.3 504.7,470.6 515.1,470.7 525.5,470.8 535.9,470.8 546.3,471.1 556.7,471.7 567.2,473.3 577.6,473.4 588.0,474.3 598.4,474.6 608.8,474.8 619.3,474.9 629.7,475.7 640.1,475.9 650.5,476.0 660.9,476.3 671.3,476.3 681.8,477.7 692.2,478.1 702.6,478.3 713.0,479.2 723.4,479.4 733.9,479.9 744.3,479.9 754.7,480.4 765.1,484.1 775.5,485.6 785.9,486.6 796.4,488.0 806.8,488.0 817.2,488.3 827.6,490.3 838.0,490.5 848.4,492.6 858.9,493.8 869.3,494.4 879.7,495.2 890.1,495.6 900.5,495.9 911.0,499.5 921.4,500.9 931.8,525.4 942.2,561.0 952.6,577.4 963.0,768.9 973.5,843.1 983.9,1040.5 994.3,1040.5"/>
<polyline stroke="#797979" points="160.9,302.9 171.3,329.7 181.7,352.5 192.1,373.2 202.5,422.5 213.0,425.5 223.4,427.7 233.8,429.9 244.2,430.0 254.6,430.9 265.0,431.0 275.5,450.8 285.9,451.8 296.3,452.4 306.7,454.5 317.1,455.1 327.6,457.4 338.0,457.5 348.4,457.8 358.8,458.8 369.2,459.3 379.6,471.6 390.1,472.1 400.5,472.6 410.9,481.7 421.3,484.6 431.7,485.1 442.2,492.1 452.6,495.1 463.0,495.6 473.4,496.4 483.8,500.4 494.2,503.7 504.7,504.5 515.1,505.7 525.5,506.1 535.9,511.4 546.3,512.9 556.7,515.3 567.2,534.4 577.6,536.7 588.0,542.5 598.4,542.8 608.8,545.6 619.3,559.0 629.7,560.2 640.1,563.4 650.5,564.6 660.9,568.8 671.3,572.6 681.8,576.5 692.2,578.7 702.6,581.7 713.0,582.5 723.4,584.1 733.9,589.7 744.3,594.9 754.7,598.6 765.1,609.4 775.5,611.4 785.9,623.7 796.4,631.7 806.8,636.6 817.2,638.0 827.6,638.9 838.0,640.8 848.4,644.7 858.9,646.1 869.3,647.7 879.7,649.2 890.1,657.2 900.5,662.2 911.0,668.3 921.4,672.4 931.8,704.4 942.2,744.7 952.6,769.7 963.0,811.0 973.5,1040.5 983.9,1040.5 994.3,1040.5"/>
<polyline stroke="#7c7c7c" points="160.9,270.1 171.3,361.8 181.7,383.1 192.1,393.7 202.5,440.6 213.0,442.3 223.4,446.3 233.8,448.7 244.2,456.5 254.6,460.9 265.0,462.6 275.5,466.7 285.9,467.2 296.3,467.6 306.7,467.6 317.1,468.0 327.6,469.2 338.0,469.2 348.4,471.5 358.8,471.9 369.2,473.2 379.6,476.6 390.1,477.2 400.5,477.9 410.9,477.9 421.3,478.0 431.7,478.5 442.2,481.2 452.6,481.2 463.0,481.6 473.4,481.7 483.8,481.9 494.2,483.3 504.7,489.8 515.1,490.9 525.5,491.3 535.9,494.5 546.3,494.9 556.7,496.1 567.2,498.0 577.6,498.3 588.0,498.6 598.4,499.3 608.8,501.9 619.3,502.0 629.7,502.0 640.1,505.0 650.5,508.5 660.9,508.5 671.3,512.2 681.8,512.5 692.2,513.4 702.6,517.8 713.0,525.5 723.4,527.1 733.9,536.1 744.3,539.2 754.7,542.7 765.1,556.7 775.5,566.3 785.9,575.8 796.4,578.4 806.8,596.9 817.2,601.2 827.6,602.1 838.0,603.3 848.4,606.1 858.9,608.0 869.3,626.5 879.7,689.4 890.1,736.6 900.5,753.6 911.0,755.4 921.4,767.4 931.8,798.5 942.2,808.2 952.6,818.2 963.0,824.3 973.5,999.0 983.9,1040.5 994.3,1040.5"/>
<polyline stroke="#7f7f7f" points="160.9,204.1 171.3,394.7 181.7,409.6 192.1,413.6 202.5,450.1 213.0,459.9 223.4,461.1 233.8,464.3 244.2,470.6 254.6,471.0 265.0,474.0 275.5,474.1 285.9,474.7 296.3,474.9 306.7,475.0 317.1,475.5 327.6,476.9 338.0,477.9 348.4,477.9 358.8,478.2 369.2,478.9 379.6,479.2 390.1,479.3 400.5,479.9 410.9,480.1 421.3,480.4 431.7,480.7 442.2,480.9 452.6,480.9 463.0,482.1 473.4,482.1 483.8,483.5 494.2,483.6 504.7,485.8 515.1,488.1 525.5,488.4 535.9,489.4 546.3,489.4 556.7,490.3 567.2,490.8 577.6,491.8 588.0,497.8 598.4,523.5 608.8,525.1 619.3,527.6 629.7,530.2 640.1,532.5 650.5,537.5 660.9,540.7 671.3,554.3 681.8,554.7 692.2,557.1 702.6,559.6 713.0,560.1 723.4,564.0 733.9,565.6 744.3,566.4 754.7,586.7 765.1,587.4 775.5,588.4 785.9,588.9 796.4,591.9 806.8,592.4 817.2,593.3 827.6,594.6 838.0,602.3 848.4,604.0 858.9,605.2 869.3,608.0 879.7,611.7 890.1,629.5 900.5,686.9 911.0,687.5 921.4,692.7 931.8,709.1 942.2,728.2 952.6,738.2 963.0,832.8 973.5,869.8 983.9,1040.5 994.3,1040.5"/>
<polyline stroke="#828282" points="160.9,285.1 171.3,334.1 181.7,340.8 192.1,416.2 202.5,432.0 213.0,454.4 223.4,458.7 233.8,459.6 244.2,459.8 254.6,462.5 265.0,463.5 275.5,463.7 285.9,463.8 296.3,464.9 306.7,465.6 317.1,465.6 327.6,467.1 338.0,469.4 348.4,470.4 358.8,470.3 369.2,471.2 379.6,471.3 390.1,471.7 400.5,472.8 410.9,480.4 421.3,481.1 431.7,491.2 442.2,494.9 452.6,496.5 463.0,500.8 473.4,511.4 483.8,525.9 494.2,527.1 504.7,530.6 515.1,534.8 525.5,540.1 535.9,545.4 546.3,556.4 556.7,563.3 567.2,567.6 577.6,572.6 588.0,578.0 598.4,583.8 608.8,589.9 619.3,596.1 629.7,602.4 640.1,608.1 650.5,610.5 660.9,620.2 671.3,625.4 681.8,630.1 692.2,634.4 702.6,638.5 713.0,642.4 723.4,646.3 733.9,650.2 744.3,654.2 754.7,658.5 765.1,663.1 775.5,668.2 785.9,673.7 796.4,679.6 806.8,686.0 817.2,692.6 827.6,699.6 838.0,706.8 848.4,714.3 858.9,722.0 869.3,729.8 879.7,737.7 890.1,745.9 900.5,754.4 911.0,763.4 921.4,772.6 931.8,782.1 942.2,791.9 952.6,801.9 963.0,934.2 973.5,1040.5 983.9,1040.5 994.3,1040.5"/>
<polyline stroke="#858585" points="160.9,346.0 171.3,362.5 181.7,377.8 192.1,398.3 202.5,405.0 213.0,446.8 223.4,449.6 233.8,457.5 244.2,460.0 254.6,460.5 265.0,464.4 275.5,467.1 285.9,468.3 296.3,468.4 306.7,470.3 317.1,471.1 327.6,471.2 338.0,472.3 348.4,475.1 358.8,475.3 369.2,479.4 379.6,480.9 390.1,481.0 400.5,481.0 410.9,481.9 421.3,482.0 431.7,482.9 442.2,484.1 452.6,484.6 463.0,485.1 473.4,485.4 483.8,485.5 494.2,485.9 504.7,488.6 515.1,489.0 525.5,489.1 535.9,489.4 546.3,489.5 556.7,489.6 567.2,489.7 577.6,490.6 588.0,490.8 598.4,491.4 608.8,493.1 619.3,493.5 629.7,493.5 640.1,493.5 650.5,494.1 660.9,494.1 671.3,494.6 681.8,494.6 692.2,494.7 702.6,495.3 713.0,496.1 723.4,498.7 733.9,500.9 744.3,501.4 754.7,502.0 765.1,511.4 775.5,513.5 785.9,518.1 796.4,523.4 806.8,537.1 817.2,551.4 827.6,553.2 838.0,556.8 848.4,558.6 858.9,561.4 869.3,593.1 879.7,598.4 890.1,601.9 900.5,603.7 911.0,631.7 921.4,653.0 931.8,662.2 942.2,670.8 952.6,677.9 963.0,720.0 973.5,860.1 983.9,1020.5 994.3,1040.5"/>
<polyline stroke="#888888" points="160.9,289.1 171.3,318.8 181.7,366.6 192.1,389.4 202.5,413.8 213.0,420.7 223.4,426.2 233.8,442.5 244.2,447.2 254.6,450.2 265.0,450.6 275.5,450.8 285.9,451.1 296.3,453.4 306.7,453.6 317.1,453.6 327.6,454.6 338.0,455.4 348.4,455.5 358.8,456.1 369.2,456.6 379.6,460.3 390.1,465.2 400.5,465.2 410.9,465.9 421.3,466.8 431.7,468.1 442.2,468.3 452.6,468.6 463.0,469.6 473.4,470.1 483.8,473.0 494.2,476.2 504.7,477.2 515.1,478.8 525.5,487.4 535.9,490.0 546.3,490.9 556.7,492.7 567.2,502.9 577.6,505.5 588.0,505.7 598.4,510.5 608.8,511.4 619.3,513.1 629.7,514.0 640.1,515.9 650.5,516.5 660.9,527.3 671.3,537.9 681.8,540.8 692.2,544.2 702.6,545.2 713.0,548.9 723.4,551.1 733.9,551.6 744.3,557.0 754.7,558.5 765.1,564.9 775.5,567.9 785.9,571.8 796.4,573.0 806.8,573.4 817.2,574.0 827.6,576.4 838.0,577.8 848.4,584.3 858.9,585.2 869.3,590.0 879.7,597.6 890.1,615.4 900.5,621.7 911.0,622.1 921.4,625.0 931.8,628.1 942.2,635.1 952.6,648.9 963.0,662.6 973.5,816.9 983.9,1040.5 994.3,1040.5"/>
<polyline stroke="#8b8b8b" points="160.9,284.5 171.3,336.9 181.7,387.6 192.1,400.1 202.5,414.4 213.0,455.3 223.4,459.7 233.8,461.2 244.2,463.1 254.6,463.7 265.0,465.9 275.5,467.2 285.9,467.3 296.3,467.5 306.7,468.0 317.1,468.2 327.6,468.3 338.0,468.8 348.4,468.9 358.8,470.0 369.2,470.6 379.6,471.3 390.1,471.8 400.5,475.2 410.9,475.2 421.3,475.3 431.7,475.3 442.2,476.2 452.6,476.7 463.0,477.2 473.4,478.2 483.8,478.5 494.2,478.7 504.7,479.0 515.1,479.1 525.5,479.5 535.9,480.3 546.3,480.5 556.7,482.2 567.2,482.8 577.6,486.5 588.0,486.6 598.4,487.7 608.8,488.4 619.3,488.5 629.7,490.1 640.1,490.7 650.5,491.4 660.9,493.2 671.3,494.7 681.8,496.3 692.2,499.1 702.6,511.9 713.0,515.9 723.4,521.0 733.9,532.9 744.3,535.0 754.7,535.9 765.1,552.3 775.5,560.5 785.9,567.1 796.4,569.3 806.8,570.6 817.2,575.5 827.6,578.1 838.0,579.4 848.4,580.7 858.9,595.9 869.3,599.4 879.7,607.0 890.1,610.3 900.5,638.0 911.0,639.2 921.4,667.3 931.8,716.6 942.2,717.9 952.6,724.7 963.0,745.7 973.5,752.2 983.9,1040.5 994.3,1040.5"/>
<polyline stroke="#8e8e8e" points="160.9,268.2 171.3,368.5 181.7,372.9 192.1,379.5 202.5,425.3 213.0,425.4 223.4,431.1 233.8,431.8 244.2,442.6 254.6,445.2 265.0,446.5 275.5,446.8 285.9,451.1 296.3,452.9 306.7,452.9 317.1,454.4 327.6,454.7 338.0,455.4 348.4,462.7 358.8,462.7 369.2,463.8 379.6,464.6 390.1,464.7 400.5,465.6 410.9,466.1 421.3,467.8 431.7,468.8 442.2,470.3 452.6,470.4 463.0,470.5 473.4,471.1 483.8,471.2 494.2,471.6 504.7,471.7 515.1,471.8 525.5,472.2 535.9,472.3 546.3,472.3 556.7,472.5 567.2,474.8 577.6,474.8 588.0,475.0 598.4,475.6 608.8,475.7 619.3,476.3 629.7,477.9 640.1,479.1 650.5,480.2 660.9,481.1 671.3,481.1 681.8,485.2 692.2,485.3 702.6,485.5 713.0,486.2 723.4,486.3 733.9,487.1 744.3,487.2 754.7,489.6 765.1,491.0 775.5,491.5 785.9,491.5 796.4,491.5 806.8,492.3 817.2,492.7 827.6,493.7 838.0,493.8 848.4,494.0 858.9,494.5 869.3,494.5 879.7,497.0 890.1,498.3 900.5,499.1 911.0,499.2 921.4,571.1 931.8,582.0 942.2,685.2 952.6,827.5 963.0,903.9 973.5,1040.5 983.9,1040.5 994.3,1040.5"/>
<polyline stroke="#919191" points="160.9,232.7 171.3,346.1 181.7,397.0 192.1,407.1 202.5,421.3 213.0,421.6 223.4,449.8 233.8,455.2 244.2,455.3 254.6,456.6 265.0,456.9 275.5,460.2 285.9,462.3 296.3,462.4 306.7,462.7 317.1,465.3 327.6,465.3 338.0,465.6 348.4,466.5 358.8,466.9 369.2,467.2 379.6,467.8 390.1,468.1 400.5,468.5 410.9,469.5 421.3,470.5 431.7,474.1 442.2,474.2 452.6,475.5 463.0,476.0 473.4,476.4 483.8,476.8 494.2,478.2 504.7,478.2 515.1,480.4 525.5,481.9 535.9,485.4 546.3,486.1 556.7,495.5 567.2,500.1 577.6,500.9 588.0,501.3 598.4,522.1 608.8,531.7 619.3,532.3 629.7,552.8 640.1,565.5 650.5,567.9 660.9,568.7 671.3,571.0 681.8,576.1 692.2,582.5 702.6,596.5 713.0,599.6 723.4,601.5 733.9,608.7 744.3,613.3 754.7,614.6 765.1,615.4 775.5,619.1 785.9,621.5 796.4,622.7 806.8,624.5 817.2,648.1 827.6,661.4 838.0,662.9 848.4,668.9 858.9,675.2 869.3,676.6 879.7,678.6 890.1,679.4 900.5,689.2 911.0,695.1 921.4,702.1 931.8,716.5 942.2,730.7 952.6,802.7 963.0,1040.5 973.5,1040.5 983.9,1040.5 994.3,1040.5"/>
<polyline stroke="#949494" points="160.9,266.5 171.3,340.9 181.7,367.9 192.1,371.1 202.5,428.3 213.0,442.9 223.4,458.4 233.8,459.8 244.2,462.1 254.6,468.2 265.0,471.7 275.5,472.3 285.9,474.5 296.3,475.6 306.7,476.5 317.1,478.4 327.6,479.3 338.0,479.4 348.4,480.9 358.8,481.2 369.2,482.3 379.6,485.9 390.1,486.0 400.5,487.2 410.9,487.6 421.3,487.7 431.7,488.6 442.2,488.8 452.6,489.2 463.0,489.4 473.4,490.3 483.8,490.3 494.2,490.5 504.7,490.6 515.1,492.6 525.5,493.1 535.9,493.4 546.3,494.1 556.7,494.8 567.2,494.8 577.6,496.3 588.0,496.4 598.4,496.6 608.8,496.9 619.3,497.0 629.7,497.5 640.1,497.6 650.5,497.8 660.9,502.0 671.3,502.0 681.8,503.5 692.2,503.6 702.6,503.8 713.0,504.2 723.4,504.3 733.9,505.1 744.3,507.5 754.7,508.0 765.1,508.4 775.5,509.2 785.9,510.7 796.4,510.7 806.8,510.7 817.2,512.1 827.6,512.1 838.0,512.2 848.4,513.8 858.9,515.3 869.3,516.1 879.7,517.8 890.1,518.2 900.5,521.9 911.0,524.5 921.4,562.5 931.8,567.5 942.2,570.2 952.6,583.8 963.0,613.8 973.5,726.1 983.9,1040.5 994.3,1040.5"/>
<polyline stroke="#989898" points="160.9,292.7 171.3,355.1 181.7,383.0 192.1,404.0 202.5,424.4 213.0,438.9 223.4,446.5 233.8,448.2 244.2,456.3 254.6,462.5 265.0,464.1 275.5,465.8 285.9,467.8 296.3,471.5 306.7,472.4 317.1,475.4 327.6,477.7 338.0,478.3 348.4,478.5 358.8,478.1 369.2,480.2 379.6,481.2 390.1,481.3 400.5,482.5 410.9,483.0 421.3,483.6 431.7,484.2 442.2,485.2 452.6,485.4 463.0,485.9 473.4,486.5 483.8,487.9 494.2,488.3 504.7,489.9 515.1,490.2 525.5,490.5 535.9,491.9 546.3,492.0 556.7,493.9 567.2,495.3 577.6,495.6 588.0,495.7 598.4,497.0 608.8,498.2 619.3,498.8 629.7,501.6 640.1,501.6 650.5,503.6 660.9,504.9 671.3,506.9 681.8,508.7 692.2,516.4 702.6,519.6 713.0,520.7 723.4,522.0 733.9,524.1 744.3,526.7 754.7,532.2 765.1,536.8 775.5,549.8 785.9,553.7 796.4,555.2 806.8,555.9 817.2,558.0 827.6,571.9 838.0,580.8 848.4,582.7 858.9,587.1 869.3,587.7 879.7,589.0 890.1,631.5 900.5,658.8 911.0,663.2 921.4,720.9 931.8,729.5 942.2,735.0 952.6,790.1 963.0,926.9 973.5,1040.5 983.9,1040.5 994.3,1040.5"/>
<polyline stroke="#9b9b9b" points="160.9,287.4 171.3,326.0 181.7,345.7 192.1,361.4 202.5,382.0 213.0,394.3 223.4,407.2 233.8,414.3 244.2,415.3 254.6,419.2 265.0,465.6 275.5,470.1 285.9,470.4 296.3,470.5 306.7,471.7 317.1,472.9 327.6,474.7 338.0,474.7 348.4,475.3 358.8,476.9 369.2,477.8 379.6,477.8 390.1,477.9 400.5,478.6 410.9,479.2 421.3,479.4 431.7,479.4 442.2,481.3 452.6,481.3 463.0,481.4 473.4,485.2 483.8,487.2 494.2,488.7 504.7,489.0 515.1,489.3 525.5,489.6 535.9,489.6 546.3,490.1 556.7,491.8 567.2,492.0 577.6,492.8 588.0,494.4 598.4,496.6 608.8,496.6 619.3,498.4 629.7,498.5 640.1,499.2 650.5,499.3 660.9,501.2 671.3,501.7 681.8,501.8 692.2,502.2 702.6,502.5 713.0,502.7 723.4,502.8 733.9,502.8 744.3,502.9 754.7,506.0 765.1,506.3 775.5,506.6 785.9,508.9 796.4,510.3 806.8,512.4 817.2,516.7 827.6,564.8 838.0,579.7 848.4,602.4 858.9,620.4 869.3,625.1 879.7,626.4 890.1,632.7 900.5,673.3 911.0,703.7 921.4,709.3 931.8,726.4 942.2,752.8 952.6,770.4 963.0,919.5 973.5,938.2 983.9,1040.5 994.3,1040.5"/>
<polyline stroke="#9e9e9e" points="160.9,316.1 171.3,366.1 181.7,380.9 192.1,398.0 202.5,423.0 213.0,434.0 223.4,445.4 233.8,446.7 244.2,447.6 254.6,448.9 265.0,450.9 275.5,451.1 285.9,451.7 296.3,451.9 306.7,452.0 317.1,452.1 327.6,452.5 338.0,453.5 348.4,453.8 358.8,454.7 369.2,454.7 379.6,454.8 390.1,455.8 400.5,456.7 410.9,457.1 421.3,457.7 431.7,458.9 442.2,459.6 452.6,460.1 463.0,461.6 473.4,461.7 483.8,464.3 494.2,464.9 504.7,468.2 515.1,469.5 525.5,470.2 535.9,470.9 546.3,473.0 556.7,473.1 567.2,473.5 577.6,476.1 588.0,479.1 598.4,479.9 608.8,480.0 619.3,480.1 629.7,480.3 640.1,480.3 650.5,480.3 660.9,482.0 671.3,483.6 681.8,484.1 692.2,484.3 702.6,486.0 713.0,486.1 723.4,486.7 733.9,487.8 744.3,488.7 754.7,488.8 765.1,491.9 775.5,492.3 785.9,493.7 796.4,493.8 806.8,496.2 817.2,496.5 827.6,500.4 838.0,501.1 848.4,503.2 858.9,506.4 869.3,506.5 879.7,507.4 890.1,509.3 900.5,509.5 911.0,509.7 921.4,510.8 931.8,511.8 942.2,516.8 952.6,524.1 963.0,532.8 973.5,537.9 983.9,1040.5 994.3,1040.5"/>
<polyline stroke="#a1a1a1" points="160.9,270.7 171.3,337.5 181.7,372.3 192.1,374.4 202.5,426.4 213.0,445.0 223.4,458.3 233.8,459.5 244.2,460.2 254.6,461.8 265.0,466.2 275.5,466.5 285.9,467.4 296.3,467.7 306.7,467.8 317.1,468.7 327.6,468.8 338.0,470.1 348.4,470.5 358.8,468.8 369.2,470.9 379.6,474.1 390.1,475.1 400.5,476.0 410.9,476.9 421.3,477.3 431.7,478.2 442.2,479.9 452.6,480.1 463.0,481.4 473.4,482.2 483.8,482.3 494.2,482.7 504.7,482.7 515.1,483.0 525.5,483.0 535.9,483.2 546.3,483.3 556.7,483.4 567.2,485.6 577.6,486.6 588.0,487.5 598.4,489.1 608.8,490.6 619.3,491.7 629.7,491.9 640.1,491.9 650.5,492.6 660.9,493.7 671.3,493.9 681.8,494.4 692.2,494.9 702.6,495.0 713.0,495.4 723.4,500.8 733.9,506.1 744.3,507.3 754.7,509.7 765.1,510.7 775.5,521.6 785.9,523.4 796.4,524.0 806.8,527.8 817.2,531.0 827.6,535.8 838.0,545.3 848.4,567.2 858.9,572.8 869.3,575.9 879.7,626.6 890.1,637.6 900.5,642.9 911.0,646.6 921.4,659.6 931.8,667.0 942.2,682.9 952.6,730.7 963.0,977.9 973.5,1017.0 983.9,1040.5 994.3,1040.5"/>
<polyline stroke="#a4a4a4" points="160.9,230.8 171.3,340.6 181.7,364.5 192.1,403.5 202.5,414.3 213.0,423.8 223.4,436.5 233.8,439.7 244.2,445.3 254.6,446.2 265.0,447.1 275.5,447.3 285.9,451.1 296.3,452.3 306.7,452.5 317.1,453.2 327.6,454.4 338.0,456.4 348.4,458.1 358.8,458.5 369.2,458.8 379.6,459.1 390.1,460.5 400.5,460.6 410.9,464.9 421.3,465.2 431.7,466.4 442.2,468.9 452.6,471.0 463.0,472.7 473.4,473.1 483.8,474.9 494.2,475.7 504.7,476.2 515.1,478.8 525.5,479.8 535.9,480.6 546.3,480.8 556.7,482.1 567.2,482.8 577.6,483.2 588.0,483.6 598.4,484.4 608.8,486.2 619.3,487.1 629.7,487.7 640.1,487.8 650.5,488.8 660.9,489.2 671.3,489.7 681.8,490.3 692.2,490.9 702.6,491.3 713.0,493.3 723.4,494.7 733.9,497.4 744.3,499.8 754.7,502.4 765.1,504.8 775.5,505.5 785.9,510.4 796.4,515.0 806.8,517.6 817.2,526.9 827.6,527.9 838.0,577.3 848.4,578.0 858.9,581.3 869.3,594.7 879.7,597.4 890.1,621.0 900.5,622.6 911.0,624.4 921.4,669.4 931.8,693.0 942.2,708.2 952.6,761.4 963.0,821.0 973.5,1040.5 983.9,1040.5 994.3,1040.5"/>
<polyline stroke="#a7a7a7" points="160.9,295.9 171.3,365.8 181.7,392.2 192.1,418.8 202.5,436.5 213.0,440.8 223.4,454.7 233.8,458.0 244.2,459.4 254.6,459.7 265.0,461.2 275.5,462.7 285.9,462.9 296.3,464.2 306.7,464.5 317.1,464.7 327.6,465.6 338.0,466.7 348.4,467.0 358.8,467.1 369.2,467.4 379.6,469.7 390.1,469.9 400.5,472.5 410.9,472.7 421.3,472.8 431.7,473.1 442.2,473.9 452.6,474.1 463.0,474.4 473.4,474.7 483.8,476.3 494.2,476.4 504.7,476.7 515.1,477.3 525.5,478.6 535.9,479.0 546.3,479.8 556.7,480.0 567.2,481.2 577.6,481.9 588.0,482.8 598.4,485.5 608.8,486.3 619.3,486.6 629.7,487.6 640.1,488.7 650.5,496.2 660.9,496.7 671.3,499.3 681.8,516.3 692.2,555.9 702.6,558.4 713.0,560.5 723.4,563.8 733.9,565.1 744.3,568.1 754.7,574.4 765.1,577.3 775.5,592.6 785.9,596.1 796.4,629.6 806.8,632.5 817.2,647.6 827.6,648.8 838.0,653.5 848.4,654.4 858.9,655.3 869.3,659.9 879.7,661.4 890.1,663.8 900.5,669.4 911.0,672.5 921.4,676.5 931.8,686.7 942.2,692.7 952.6,747.8 963.0,829.9 973.5,884.3 983.9,1040.5 994.3,1040.5"/>
<polyline stroke="#aaaaaa" points="160.9,242.6 171.3,351.5 181.7,380.6 192.1,399.8 202.5,435.6 213.0,440.6 223.4,442.0 233.8,446.8 244.2,449.2 254.6,449.3 265.0,450.3 275.5,454.0 285.9,454.5 296.3,456.1 306.7,456.6 317.1,456.9 327.6,457.7 338.0,460.5 348.4,462.1 358.8,462.2 369.2,463.0 379.6,465.7 390.1,465.9 400.5,467.0 410.9,467.6 421.3,468.1 431.7,470.0 442.2,470.9 452.6,472.3 463.0,473.5 473.4,473.7 483.8,475.1 494.2,475.2 504.7,476.2 515.1,476.7 525.5,477.5 535.9,478.3 546.3,478.5 556.7,480.6 567.2,481.3 577.6,481.8 588.0,482.9 598.4,482.9 608.8,484.4 619.3,485.8 629.7,487.1 640.1,487.9 650.5,488.3 660.9,488.4 671.3,489.1 681.8,489.5 692.2,489.6 702.6,489.7 713.0,489.8 723.4,491.7 733.9,492.0 744.3,492.4 754.7,492.7 765.1,492.8 775.5,495.7 785.9,525.6 796.4,526.6 806.8,544.5 817.2,547.7 827.6,553.3 838.0,557.7 848.4,558.7 858.9,561.9 869.3,567.8 879.7,569.2 890.1,571.1 900.5,580.0 911.0,653.8 921.4,664.8 931.8,673.8 942.2,730.3 952.6,823.7 963.0,933.6 973.5,1040.5 983.9,1040.5 994.3,1040.5"/>
<polyline stroke="#adadad" points="160.9,331.3 171.3,355.3 181.7,385.5 192.1,408.5 202.5,414.5 213.0,433.3 223.4,445.0 233.8,450.5 244.2,460.1 254.6,463.8 265.0,464.6 275.5,466.6 285.9,467.1 296.3,467.2 306.7,468.7 317.1,469.8 327.6,470.3 338.0,470.4 348.4,470.8 358.8,472.0 369.2,472.3 379.6,473.2 390.1,473.4 400.5,474.3 410.9,474.7 421.3,475.9 431.7,478.7 442.2,478.8 452.6,479.7 463.0,480.0 473.4,480.5 483.8,481.7 494.2,482.7 504.7,482.8 515.1,483.6 525.5,483.7 535.9,483.9 546.3,483.9 556.7,485.7 567.2,485.8 577.6,488.0 588.0,488.2 598.4,489.6 608.8,489.8 619.3,489.9 629.7,490.0 640.1,490.0 650.5,490.4 660.9,491.0 671.3,491.1 681.8,491.2 692.2,491.3 702.6,491.5 713.0,491.8 723.4,492.4 733.9,494.0 744.3,497.8 754.7,505.8 765.1,518.8 775.5,524.2 785.9,526.5 796.4,527.8 806.8,533.4 817.2,602.4 827.6,604.6 838.0,615.5 848.4,641.1 858.9,645.1 869.3,648.7 879.7,650.1 890.1,652.4 900.5,675.5 911.0,677.0 921.4,693.3 931.8,702.4 942.2,708.1 952.6,767.6 963.0,881.2 973.5,1040.5 983.9,1040.5 994.3,1040.5"/>
<polyline stroke="#b0b0b0" points="160.9,258.6 171.3,340.2 181.7,372.8 192.1,424.4 202.5,426.8 213.0,433.4 223.4,442.5 233.8,443.2 244.2,449.7 254.6,456.5 265.0,457.6 275.5,469.8 285.9,470.3 296.3,470.9 306.7,471.1 317.1,471.9 327.6,472.2 338.0,472.9 348.4,472.9 358.8,473.4 369.2,473.9 379.6,474.5 390.1,475.0 400.5,476.2 410.9,476.5 421.3,476.9 431.7,477.0 442.2,477.1 452.6,478.2 463.0,478.2 473.4,479.0 483.8,479.0 494.2,479.3 504.7,480.6 515.1,480.6 525.5,482.3 535.9,482.5 546.3,483.1 556.7,483.4 567.2,485.7 577.6,486.1 588.0,486.2 598.4,487.9 608.8,488.1 619.3,489.0 629.7,489.2 640.1,489.4 650.5,489.4 660.9,490.0 671.3,491.1 681.8,491.5 692.2,492.0 702.6,494.2 713.0,494.6 723.4,495.8 733.9,495.8 744.3,495.8 754.7,496.4 765.1,496.6 775.5,497.3 785.9,499.5 796.4,507.6 806.8,512.5 817.2,514.5 827.6,523.3 838.0,538.1 848.4,539.1 858.9,542.6 869.3,544.0 879.7,547.8 890.1,555.9 900.5,558.3 911.0,572.5 921.4,583.8 931.8,605.2 942.2,620.6 952.6,626.4 963.0,711.9 973.5,833.1 983.9,1040.5 994.3,1040.5"/>
<polyline stroke="#b3b3b3" points="160.9,254.5 171.3,372.9 181.7,380.5 192.1,402.4 202.5,426.5 213.0,428.4 223.4,439.1 233.8,443.1 244.2,444.1 254.6,448.5 265.0,461.7 275.5,462.9 285.9,463.3 296.3,464.8 306.7,465.1 317.1,466.2 327.6,466.2 338.0,467.6 348.4,468.2 358.8,469.9 369.2,472.9 379.6,475.8 390.1,476.1 400.5,477.2 410.9,478.9 421.3,478.9 431.7,481.1 442.2,481.7 452.6,484.2 463.0,484.3 473.4,484.8 483.8,485.0 494.2,485.1 504.7,487.3 515.1,490.0 525.5,490.1 535.9,490.2 546.3,490.2 556.7,490.7 567.2,491.6 577.6,495.4 588.0,496.2 598.4,497.6 608.8,498.1 619.3,498.9 629.7,499.1 640.1,501.2 650.5,501.2 660.9,501.3 671.3,501.4 681.8,502.0 692.2,503.6 702.6,503.7 713.0,503.9 723.4,504.2 733.9,504.3 744.3,504.5 754.7,504.7 765.1,504.8 775.5,506.3 785.9,507.5 796.4,507.7 806.8,507.9 817.2,510.3 827.6,510.6 838.0,511.3 848.4,511.6 858.9,513.4 869.3,515.2 879.7,515.3 890.1,516.3 900.5,517.6 911.0,517.7 921.4,518.1 931.8,535.1 942.2,640.6 952.6,815.6 963.0,954.2 973.5,1040.5 983.9,1040.5 994.3,1040.5"/>
<polyline stroke="#b6b6b6" points="160.9,249.6 171.3,345.8 181.7,371.9 192.1,380.7 202.5,382.1 213.0,412.9 223.4,445.9 233.8,447.0 244.2,469.1 254.6,469.2 265.0,469.4 275.5,471.4 285.9,472.9 296.3,473.0 306.7,474.1 317.1,474.5 327.6,475.0 338.0,475.3 348.4,475.7 358.8,474.2 369.2,476.3 379.6,479.5 390.1,481.0 400.5,481.2 410.9,481.9 421.3,481.9 431.7,493.2 442.2,502.6 452.6,504.0 463.0,505.8 473.4,512.8 483.8,516.4 494.2,520.0 504.7,524.0 515.1,531.1 525.5,538.0 535.9,545.9 546.3,552.1 556.7,555.8 567.2,559.4 577.6,561.5 588.0,563.8 598.4,567.7 608.8,569.5 619.3,579.7 629.7,581.7 640.1,589.1 650.5,595.9 660.9,597.1 671.3,602.6 681.8,604.7 692.2,608.9 702.6,614.3 713.0,615.0 723.4,615.9 733.9,618.1 744.3,620.6 754.7,625.4 765.1,631.0 775.5,632.2 785.9,635.0 796.4,654.4 806.8,656.0 817.2,680.9 827.6,682.4 838.0,710.7 848.4,718.2 858.9,725.8 869.3,733.6 879.7,741.6 890.1,749.8 900.5,758.3 911.0,767.2 921.4,776.5 931.8,786.0 942.2,795.8 952.6,805.8 963.0,973.5 973.5,1040.5 983.9,1040.5 994.3,1040.5"/>
<polyline stroke="#bababa" points="160.9,291.2 171.3,342.2 181.7,373.9 192.1,385.1 202.5,390.0 213.0,429.9 223.4,456.7 233.8,457.8 244.2,461.5 254.6,462.9 265.0,464.5 275.5,464.9 285.9,466.2 296.3,467.9 306.7,470.9 317.1,473.8 327.6,475.2 338.0,478.5 348.4,479.1 358.8,478.1 369.2,480.2 379.6,480.9 390.1,482.0 400.5,483.4 410.9,485.1 421.3,485.7 431.7,485.9 442.2,486.6 452.6,487.0 463.0,489.1 473.4,489.2 483.8,489.5 494.2,489.9 504.7,490.9 515.1,491.4 525.5,492.0 535.9,494.0 546.3,497.5 556.7,498.4 567.2,525.2 577.6,530.0 588.0,539.1 598.4,543.0 608.8,547.5 619.3,552.1 629.7,554.4 640.1,555.8 650.5,556.6 660.9,557.3 671.3,557.6 681.8,559.7 692.2,560.6 702.6,565.2 713.0,569.4 723.4,570.8 733.9,571.5 744.3,572.5 754.7,590.8 765.1,591.3 775.5,600.8 785.9,605.3 796.4,612.0 806.8,612.7 817.2,616.3 827.6,623.1 838.0,631.8 848.4,635.4 858.9,644.2 869.3,648.6 879.7,650.4 890.1,651.9 900.5,653.5 911.0,654.7 921.4,655.7 931.8,685.7 942.2,723.3 952.6,758.2 963.0,829.0 973.5,869.2 983.9,1040.5 994.3,1040.5"/>
<polyline stroke="#bdbdbd" points="160.9,268.2 171.3,345.6 181.7,368.1 192.1,374.8 202.5,385.7 213.0,396.5 223.4,422.1 233.8,428.7 244.2,440.8 254.6,444.3 265.0,454.2 275.5,464.6 285.9,466.2 296.3,466.5 306.7,468.0 317.1,468.2 327.6,468.6 338.0,468.9 348.4,469.7 358.8,469.9 369.2,470.6 379.6,470.6 390.1,471.2 400.5,471.3 410.9,472.2 421.3,475.1 431.7,475.7 442.2,475.9 452.6,475.9 463.0,477.9 473.4,478.4 483.8,478.4 494.2,478.9 504.7,479.0 515.1,479.0 525.5,479.8 535.9,480.5 546.3,480.6 556.7,482.4 567.2,482.9 577.6,485.3 588.0,488.3 598.4,488.7 608.8,489.6 619.3,492.4 629.7,493.2 640.1,493.3 650.5,493.5 660.9,496.8 671.3,497.0 681.8,497.3 692.2,497.5 702.6,497.7 713.0,498.6 723.4,498.7 733.9,501.4 744.3,502.6 754.7,503.4 765.1,504.1 775.5,504.7 785.9,507.2 796.4,508.5 806.8,508.8 817.2,508.9 827.6,509.2 838.0,509.6 848.4,511.3 858.9,512.9 869.3,514.5 879.7,515.9 890.1,518.9 900.5,521.5 911.0,525.7 921.4,541.7 931.8,561.9 942.2,635.0 952.6,646.6 963.0,700.3 973.5,734.4 983.9,1040.5 994.3,1040.5"/>
<polyline stroke="#c0c0c0" points="160.9,299.2 171.3,308.2 181.7,328.2 192.1,392.9 202.5,418.4 213.0,422.4 223.4,436.4 233.8,439.9 244.2,440.0 254.6,444.2 265.0,444.3 275.5,454.9 285.9,457.0 296.3,457.6 306.7,458.1 317.1,459.1 327.6,459.8 338.0,460.4 348.4,460.7 358.8,460.9 369.2,462.9 379.6,463.5 390.1,464.3 400.5,464.3 410.9,465.0 421.3,466.3 431.7,467.2 442.2,469.3 452.6,469.6 463.0,470.8 473.4,476.7 483.8,482.7 494.2,486.3 504.7,493.7 515.1,494.8 525.5,496.5 535.9,500.4 546.3,503.8 556.7,508.1 567.2,508.5 577.6,513.5 588.0,515.6 598.4,517.2 608.8,520.7 619.3,522.8 629.7,523.5 640.1,526.5 650.5,528.3 660.9,531.2 671.3,533.7 681.8,535.8 692.2,536.1 702.6,537.7 713.0,540.4 723.4,541.0 733.9,542.0 744.3,542.5 754.7,544.4 765.1,547.8 775.5,549.0 785.9,553.7 796.4,569.2 806.8,570.8 817.2,584.3 827.6,585.7 838.0,586.6 848.4,591.6 858.9,592.3 869.3,594.1 879.7,595.1 890.1,597.2 900.5,612.0 911.0,613.7 921.4,618.6 931.8,620.5 942.2,645.7 952.6,681.8 963.0,902.8 973.5,1040.5 983.9,1040.5 994.3,1040.5"/>
<polyline stroke="#c3c3c3" points="160.9,285.3 171.3,329.4 181.7,333.9 192.1,387.3 202.5,396.6 213.0,398.9 223.4,402.9 233.8,452.7 244.2,454.5 254.6,457.1 265.0,457.6 275.5,457.9 285.9,458.2 296.3,459.1 306.7,462.6 317.1,463.2 327.6,464.3 338.0,464.4 348.4,465.3 358.8,466.3 369.2,466.4 379.6,466.8 390.1,467.3 400.5,469.5 410.9,470.8 421.3,471.1 431.7,472.2 442.2,473.2 452.6,473.3 463.0,473.4 473.4,473.4 483.8,473.5 494.2,474.9 504.7,476.2 515.1,476.2 525.5,476.4 535.9,476.6 546.3,476.7 556.7,478.5 567.2,479.2 577.6,481.6 588.0,482.3 598.4,482.7 608.8,482.7 619.3,483.9 629.7,484.6 640.1,484.7 650.5,484.8 660.9,485.2 671.3,486.4 681.8,487.0 692.2,487.2 702.6,488.6 713.0,489.2 723.4,489.2 733.9,490.7 744.3,491.4 754.7,491.4 765.1,492.2 775.5,492.2 785.9,492.4 796.4,492.5 806.8,492.7 817.2,492.7 827.6,492.7 838.0,493.9 848.4,493.9 858.9,496.8 869.3,497.4 879.7,498.3 890.1,499.1 900.5,499.2 911.0,499.6 921.4,532.4 931.8,560.4 942.2,570.3 952.6,579.0 963.0,625.0 973.5,714.0 983.9,1006.3 994.3,1040.5"/>
<polyline stroke="#c6c6c6" points="160.9,329.3 171.3,345.9 181.7,353.0 192.1,390.4 202.5,397.3 213.0,419.9 223.4,430.3 233.8,431.2 244.2,431.9 254.6,437.2 265.0,451.6 275.5,452.6 285.9,452.8 296.3,454.8 306.7,455.0 317.1,455.5 327.6,456.1 338.0,457.3 348.4,457.5 358.8,457.5 369.2,457.7 379.6,457.7 390.1,458.8 400.5,459.4 410.9,459.9 421.3,460.4 431.7,460.4 442.2,460.7 452.6,461.0 463.0,463.3 473.4,463.3 483.8,464.0 494.2,464.2 504.7,464.8 515.1,466.0 525.5,466.2 535.9,466.2 546.3,466.5 556.7,466.9 567.2,467.7 577.6,468.4 588.0,469.0 598.4,469.6 608.8,469.6 619.3,469.8 629.7,470.1 640.1,471.4 650.5,471.6 660.9,472.5 671.3,472.8 681.8,472.9 692.2,473.0 702.6,473.6 713.0,473.9 723.4,476.1 733.9,476.8 744.3,476.9 754.7,478.2 765.1,478.8 775.5,478.8 785.9,480.4 796.4,481.9 806.8,483.4 817.2,483.6 827.6,485.0 838.0,485.0 848.4,486.6 858.9,487.3 869.3,487.6 879.7,488.0 890.1,490.4 900.5,490.5 911.0,492.7 921.4,503.3 931.8,542.4 942.2,582.3 952.6,596.4 963.0,659.3 973.5,887.3 983.9,1040.5 994.3,1040.5"/>
<polyline stroke="#c9c9c9" points="160.9,317.3 171.3,359.2 181.7,370.9 192.1,390.3 202.5,431.9 213.0,432.2 223.4,434.2 233.8,435.6 244.2,438.3 254.6,444.0 265.0,450.7 275.5,450.8 285.9,460.5 296.3,460.7 306.7,460.9 317.1,461.8 327.6,463.3 338.0,463.4 348.4,463.9 358.8,464.0 369.2,467.9 379.6,468.9 390.1,470.8 400.5,471.3 410.9,471.4 421.3,473.4 431.7,473.9 442.2,476.7 452.6,478.2 463.0,478.4 473.4,481.1 483.8,481.4 494.2,481.7 504.7,483.2 515.1,483.3 525.5,483.9 535.9,484.6 546.3,486.5 556.7,489.8 567.2,490.3 577.6,490.5 588.0,490.5 598.4,491.1 608.8,492.9 619.3,493.0 629.7,493.0 640.1,493.4 650.5,493.4 660.9,494.1 671.3,494.4 681.8,495.5 692.2,495.7 702.6,498.0 713.0,499.1 723.4,500.2 733.9,500.3 744.3,500.4 754.7,500.7 765.1,501.1 775.5,501.2 785.9,503.0 796.4,506.2 806.8,506.9 817.2,509.0 827.6,514.2 838.0,522.6 848.4,531.8 858.9,537.0 869.3,548.3 879.7,551.3 890.1,563.0 900.5,566.4 911.0,572.1 921.4,590.5 931.8,609.8 942.2,615.1 952.6,628.2 963.0,784.2 973.5,980.2 983.9,1040.5 994.3,1040.5"/>
<polyline stroke="#cccccc" points="160.9,295.4 171.3,335.1 181.7,372.0 192.1,381.7 202.5,410.5 213.0,444.5 223.4,446.7 233.8,448.6 244.2,456.7 254.6,464.1 265.0,467.0 275.5,467.2 285.9,471.0 296.3,471.4 306.7,471.7 317.1,471.7 327.6,474.5 338.0,475.4 348.4,476.3 358.8,476.6 369.2,477.0 379.6,477.4 390.1,477.7 400.5,477.8 410.9,477.9 421.3,478.3 431.7,478.8 442.2,479.2 452.6,479.6 463.0,480.7 473.4,481.0 483.8,481.6 494.2,481.9 504.7,481.9 515.1,483.1 525.5,484.8 535.9,485.8 546.3,489.9 556.7,491.3 567.2,491.9 577.6,492.3 588.0,499.5 598.4,500.3 608.8,501.6 619.3,502.0 629.7,503.8 640.1,512.5 650.5,515.5 660.9,520.5 671.3,522.5 681.8,547.5 692.2,548.2 702.6,549.0 713.0,551.8 723.4,552.6 733.9,553.6 744.3,554.1 754.7,554.4 765.1,556.7 775.5,564.5 785.9,571.2 796.4,576.1 806.8,580.6 817.2,591.7 827.6,593.4 838.0,597.6 848.4,621.3 858.9,628.5 869.3,648.1 879.7,651.1 890.1,664.5 900.5,669.4 911.0,682.7 921.4,697.9 931.8,707.9 942.2,729.6 952.6,767.9 963.0,769.4 973.5,840.1 983.9,1040.5 994.3,1040.5"/>
<polyline stroke="#cfcfcf" points="160.9,305.2 171.3,336.9 181.7,354.4 192.1,414.4 202.5,432.4 213.0,432.9 223.4,434.6 233.8,439.0 244.2,450.4 254.6,450.8 265.0,451.2 275.5,455.0 285.9,462.3 296.3,462.6 306.7,464.2 317.1,465.6 327.6,467.4 338.0,467.8 348.4,467.8 358.8,470.8 369.2,470.8 379.6,471.1 390.1,473.8 400.5,474.1 410.9,474.9 421.3,475.0 431.7,476.0 442.2,477.7 452.6,481.5 463.0,483.2 473.4,484.4 483.8,492.0 494.2,492.6 504.7,497.9 515.1,498.1 525.5,498.9 535.9,499.8 546.3,502.2 556.7,504.2 567.2,504.9 577.6,505.5 588.0,506.4 598.4,506.8 608.8,507.0 619.3,508.2 629.7,517.1 640.1,519.1 650.5,519.6 660.9,528.4 671.3,533.8 681.8,542.4 692.2,556.7 702.6,558.9 713.0,562.2 723.4,570.0 733.9,572.7 744.3,573.3 754.7,576.8 765.1,577.3 775.5,581.1 785.9,596.4 796.4,608.9 806.8,609.4 817.2,613.9 827.6,615.4 838.0,617.4 848.4,624.2 858.9,648.6 869.3,649.4 879.7,652.8 890.1,654.7 900.5,664.2 911.0,665.7 921.4,669.1 931.8,695.8 942.2,709.0 952.6,716.9 963.0,903.5 973.5,1040.5 983.9,1040.5 994.3,1040.5"/>
<polyline stroke="#d2d2d2" points="160.9,276.8 171.3,333.8 181.7,336.8 192.1,361.5 202.5,410.1 213.0,443.6 223.4,444.7 233.8,450.7 244.2,464.0 254.6,464.9 265.0,467.2 275.5,468.2 285.9,469.1 296.3,469.3 306.7,469.3 317.1,469.9 327.6,473.3 338.0,473.4 348.4,473.9 358.8,473.9 369.2,474.8 379.6,475.4 390.1,475.5 400.5,476.0 410.9,476.0 421.3,476.8 431.7,476.8 442.2,477.2 452.6,479.6 463.0,480.6 473.4,480.7 483.8,484.3 494.2,484.7 504.7,486.3 515.1,488.1 525.5,488.1 535.9,488.6 546.3,489.2 556.7,490.4 567.2,491.3 577.6,491.3 588.0,493.0 598.4,493.4 608.8,497.1 619.3,497.2 629.7,497.5 640.1,497.6 650.5,497.9 660.9,498.5 671.3,499.5 681.8,499.6 692.2,500.1 702.6,500.5 713.0,502.2 723.4,502.3 733.9,502.5 744.3,502.8 754.7,502.8 765.1,503.0 775.5,503.0 785.9,503.1 796.4,508.3 806.8,508.5 817.2,508.7 827.6,509.8 838.0,512.1 848.4,514.4 858.9,521.8 869.3,524.3 879.7,525.9 890.1,534.9 900.5,538.3 911.0,539.3 921.4,607.6 931.8,612.4 942.2,642.7 952.6,649.0 963.0,698.9 973.5,718.7 983.9,1040.5 994.3,1040.5"/>
<polyline stroke="#d5d5d5" points="160.9,224.3 171.3,321.1 181.7,355.0 192.1,380.2 202.5,403.7 213.0,441.9 223.4,444.5 233.8,450.6 244.2,458.7 254.6,460.1 265.0,461.8 275.5,462.2 285.9,463.6 296.3,464.2 306.7,465.1 317.1,465.7 327.6,465.8 338.0,465.9 348.4,466.1 358.8,469.8 369.2,469.8 379.6,471.6 390.1,471.7 400.5,472.4 410.9,472.5 421.3,473.0 431.7,473.8 442.2,474.7 452.6,476.6 463.0,483.0 473.4,492.4 483.8,493.3 494.2,494.4 504.7,513.2 515.1,536.5 525.5,540.9 535.9,542.6 546.3,544.2 556.7,548.7 567.2,551.0 577.6,570.7 588.0,576.8 598.4,580.2 608.8,586.7 619.3,593.8 629.7,595.4 640.1,602.0 650.5,602.9 660.9,610.2 671.3,610.7 681.8,611.7 692.2,616.3 702.6,617.1 713.0,619.4 723.4,622.4 733.9,624.2 744.3,625.5 754.7,628.4 765.1,631.9 775.5,637.1 785.9,637.6 796.4,649.2 806.8,659.0 817.2,659.8 827.6,675.2 838.0,681.5 848.4,682.0 858.9,685.3 869.3,696.1 879.7,699.2 890.1,701.6 900.5,736.5 911.0,756.0 921.4,758.9 931.8,787.8 942.2,801.2 952.6,827.6 963.0,1040.5 973.5,1040.5 983.9,1040.5 994.3,1040.5"/>
<polyline stroke="#d8d8d8" points="160.9,302.8 171.3,357.5 181.7,367.2 192.1,397.9 202.5,404.6 213.0,450.4 223.4,454.3 233.8,455.3 244.2,464.9 254.6,466.1 265.0,466.2 275.5,472.3 285.9,473.3 296.3,474.3 306.7,474.4 317.1,476.3 327.6,477.6 338.0,478.8 348.4,478.9 358.8,479.2 369.2,479.2 379.6,479.4 390.1,480.0 400.5,480.8 410.9,481.7 421.3,483.1 431.7,483.4 442.2,483.9 452.6,486.3 463.0,486.4 473.4,487.3 483.8,489.0 494.2,492.1 504.7,492.1 515.1,493.3 525.5,493.9 535.9,494.2 546.3,494.6 556.7,494.7 567.2,497.4 577.6,498.3 588.0,498.6 598.4,502.7 608.8,504.4 619.3,504.9 629.7,505.2 640.1,505.5 650.5,505.5 660.9,506.6 671.3,507.4 681.8,508.9 692.2,509.5 702.6,510.5 713.0,511.2 723.4,511.2 733.9,511.3 744.3,511.6 754.7,511.9 765.1,512.4 775.5,513.2 785.9,513.5 796.4,513.5 806.8,515.3 817.2,517.3 827.6,544.8 838.0,579.2 848.4,581.2 858.9,587.7 869.3,592.9 879.7,597.7 890.1,607.3 900.5,637.8 911.0,656.6 921.4,662.9 931.8,668.3 942.2,685.8 952.6,696.5 963.0,764.1 973.5,838.4 983.9,1040.5 994.3,1040.5"/>
<polyline stroke="#d9d9d9" points="160.9,259.7 171.3,355.9 181.7,388.0 202.5,425.5 233.8,446.9 275.5,457.5 358.8,465.0 463.0,473.6 567.2,482.1 671.3,488.6 775.5,495.0 858.9,498.2 900.5,505.7 931.8,511.0 952.6,518.5 973.5,520.7 983.9,522.8 983.9,1040.5"/>
<polyline stroke="#dcdcdc" points="160.9,249.3 171.3,341.3 181.7,361.3 192.1,376.2 202.5,394.1 213.0,409.4 223.4,412.1 233.8,413.2 244.2,456.4 254.6,466.5 265.0,466.7 275.5,467.4 285.9,467.7 296.3,467.7 306.7,468.0 317.1,468.5 327.6,468.7 338.0,469.5 348.4,470.3 358.8,471.1 369.2,472.8 379.6,472.8 390.1,472.9 400.5,474.0 410.9,474.9 421.3,475.2 431.7,476.6 442.2,477.6 452.6,478.2 463.0,479.3 473.4,479.6 483.8,481.7 494.2,482.0 504.7,482.2 515.1,484.0 525.5,485.7 535.9,486.3 546.3,488.9 556.7,494.2 567.2,496.7 577.6,507.7 588.0,512.0 598.4,512.3 608.8,518.0 619.3,519.3 629.7,519.8 640.1,521.8 650.5,522.5 660.9,523.5 671.3,524.1 681.8,527.6 692.2,530.4 702.6,534.5 713.0,537.8 723.4,539.4 733.9,543.0 744.3,550.4 754.7,551.9 765.1,557.4 775.5,581.2 785.9,585.7 796.4,591.6 806.8,601.4 817.2,610.5 827.6,614.7 838.0,638.0 848.4,640.3 858.9,641.8 869.3,648.0 879.7,648.6 890.1,649.2 900.5,662.1 911.0,663.2 921.4,665.4 931.8,669.5 942.2,685.1 952.6,687.9 963.0,841.8 973.5,858.3 983.9,1018.8 994.3,1040.5"/>
<polyline stroke="#dfdfdf" points="160.9,250.1 171.3,347.8 181.7,350.7 192.1,407.7 202.5,420.5 213.0,424.1 223.4,425.3 233.8,427.2 244.2,427.7 254.6,428.1 265.0,470.6 275.5,470.9 285.9,472.4 296.3,473.0 306.7,473.2 317.1,473.3 327.6,473.7 338.0,474.0 348.4,474.1 358.8,475.3 369.2,477.9 379.6,478.4 390.1,478.7 400.5,478.7 410.9,479.4 421.3,479.5 431.7,480.5 442.2,480.5 452.6,481.0 463.0,481.9 473.4,483.4 483.8,483.9 494.2,485.6 504.7,486.0 515.1,486.4 525.5,486.8 535.9,486.8 546.3,488.9 556.7,489.6 567.2,489.8 577.6,489.8 588.0,489.9 598.4,490.1 608.8,494.6 619.3,494.7 629.7,495.4 640.1,496.8 650.5,496.9 660.9,498.2 671.3,498.6 681.8,499.8 692.2,499.8 702.6,500.0 713.0,502.2 723.4,504.4 733.9,532.5 744.3,537.5 754.7,556.6 765.1,569.8 775.5,583.5 785.9,584.9 796.4,586.6 806.8,605.6 817.2,631.8 827.6,632.6 838.0,634.4 848.4,638.1 858.9,678.9 869.3,682.4 879.7,700.7 890.1,703.6 900.5,735.3 911.0,774.9 921.4,784.1 931.8,793.6 942.2,803.4 952.6,813.4 963.0,841.7 973.5,982.5 983.9,1040.5 994.3,1040.5"/>
<polyline stroke="#e2e2e2" points="160.9,323.3 171.3,379.3 181.7,398.3 192.1,403.4 202.5,421.3 213.0,421.7 223.4,423.1 233.8,425.2 244.2,449.3 254.6,449.6 265.0,450.2 275.5,451.0 285.9,451.1 296.3,451.3 306.7,451.9 317.1,452.7 327.6,452.7 338.0,454.0 348.4,454.1 358.8,454.3 369.2,454.7 379.6,455.5 390.1,458.2 400.5,460.1 410.9,460.2 421.3,461.8 431.7,462.1 442.2,462.6 452.6,462.7 463.0,463.2 473.4,463.6 483.8,464.8 494.2,467.0 504.7,469.1 515.1,470.0 525.5,470.6 535.9,471.6 546.3,472.3 556.7,472.6 567.2,473.1 577.6,474.4 588.0,476.1 598.4,476.3 608.8,476.9 619.3,477.4 629.7,478.1 640.1,481.7 650.5,482.5 660.9,485.1 671.3,486.0 681.8,486.0 692.2,486.9 702.6,487.9 713.0,490.3 723.4,492.0 733.9,496.0 744.3,496.6 754.7,496.8 765.1,498.6 775.5,499.0 785.9,500.9 796.4,501.0 806.8,503.1 817.2,504.9 827.6,505.1 838.0,505.7 848.4,505.8 858.9,505.9 869.3,506.0 879.7,506.0 890.1,506.5 900.5,506.9 911.0,507.5 921.4,509.3 931.8,515.9 942.2,520.9 952.6,523.1 963.0,680.0 973.5,840.6 983.9,1040.5 994.3,1040.5"/>
<polyline stroke="#e5e5e5" points="160.9,258.8 171.3,314.7 181.7,347.8 192.1,364.1 202.5,420.5 213.0,423.3 223.4,434.5 233.8,446.5 244.2,447.1 254.6,452.7 265.0,453.0 275.5,453.4 285.9,455.3 296.3,455.7 306.7,456.5 317.1,456.9 327.6,457.3 338.0,457.9 348.4,459.6 358.8,460.5 369.2,461.0 379.6,462.1 390.1,462.9 400.5,463.8 410.9,463.9 421.3,464.6 431.7,464.9 442.2,465.3 452.6,465.8 463.0,465.8 473.4,466.4 483.8,468.9 494.2,469.6 504.7,470.0 515.1,471.5 525.5,471.6 535.9,471.6 546.3,473.2 556.7,473.2 567.2,473.7 577.6,474.0 588.0,477.9 598.4,478.2 608.8,478.6 619.3,478.7 629.7,478.7 640.1,478.8 650.5,478.8 660.9,490.8 671.3,493.9 681.8,494.8 692.2,496.2 702.6,497.5 713.0,513.6 723.4,514.2 733.9,514.6 744.3,524.0 754.7,525.2 765.1,528.9 775.5,532.8 785.9,534.2 796.4,535.1 806.8,537.5 817.2,541.7 827.6,552.4 838.0,555.2 848.4,560.8 858.9,589.5 869.3,591.1 879.7,598.0 890.1,631.4 900.5,635.3 911.0,636.0 921.4,642.9 931.8,655.3 942.2,679.1 952.6,703.3 963.0,718.0 973.5,880.4 983.9,1040.5 994.3,1040.5"/>
<polyline stroke="#e8e8e8" points="160.9,255.1 171.3,294.3 181.7,304.0 192.1,305.3 202.5,420.6 213.0,427.2 223.4,434.3 233.8,435.1 244.2,442.7 254.6,447.8 265.0,449.6 275.5,450.6 285.9,452.4 296.3,452.4 306.7,452.4 317.1,453.9 327.6,454.9 338.0,454.9 348.4,456.3 358.8,456.5 369.2,458.2 379.6,458.7 390.1,461.0 400.5,463.5 410.9,464.8 421.3,467.8 431.7,467.9 442.2,468.1 452.6,469.2 463.0,470.9 473.4,471.7 483.8,475.1 494.2,478.4 504.7,479.0 515.1,479.3 525.5,479.3 535.9,479.7 546.3,482.5 556.7,482.7 567.2,482.8 577.6,483.8 588.0,483.9 598.4,484.0 608.8,485.3 619.3,490.5 629.7,499.2 640.1,510.5 650.5,526.5 660.9,530.3 671.3,540.9 681.8,541.4 692.2,544.6 702.6,558.4 713.0,566.8 723.4,567.5 733.9,569.7 744.3,570.2 754.7,571.8 765.1,583.6 775.5,585.5 785.9,592.8 796.4,606.1 806.8,613.9 817.2,618.6 827.6,619.2 838.0,622.1 848.4,632.4 858.9,647.5 869.3,667.8 879.7,688.1 890.1,711.9 900.5,721.5 911.0,722.2 921.4,725.2 931.8,732.1 942.2,748.4 952.6,805.7 963.0,834.6 973.5,925.6 983.9,1040.5 994.3,1040.5"/>
<polyline stroke="#ebebeb" points="160.9,319.2 171.3,344.0 181.7,359.3 192.1,407.4 202.5,420.3 213.0,425.7 223.4,436.7 233.8,445.7 244.2,454.0 254.6,457.1 265.0,463.2 275.5,466.4 285.9,467.1 296.3,467.1 306.7,467.9 317.1,468.4 327.6,468.5 338.0,468.6 348.4,469.3 358.8,469.8 369.2,471.1 379.6,471.1 390.1,471.4 400.5,471.6 410.9,476.1 421.3,476.1 431.7,480.1 442.2,480.7 452.6,482.8 463.0,485.0 473.4,485.2 483.8,486.1 494.2,486.5 504.7,489.5 515.1,490.2 525.5,490.3 535.9,492.8 546.3,494.4 556.7,495.1 567.2,497.3 577.6,503.3 588.0,511.6 598.4,512.7 608.8,513.7 619.3,514.2 629.7,516.7 640.1,517.8 650.5,530.0 660.9,537.5 671.3,542.7 681.8,550.4 692.2,564.5 702.6,567.1 713.0,568.3 723.4,568.9 733.9,585.7 744.3,593.7 754.7,597.1 765.1,598.2 775.5,598.8 785.9,607.2 796.4,607.8 806.8,621.0 817.2,627.7 827.6,629.6 838.0,634.3 848.4,649.9 858.9,651.8 869.3,655.1 879.7,663.2 890.1,665.5 900.5,690.4 911.0,707.9 921.4,715.0 931.8,750.5 942.2,770.9 952.6,794.7 963.0,829.2 973.5,1040.5 983.9,1040.5 994.3,1040.5"/>
<polyline stroke="#eeeeee" points="160.9,290.8 171.3,341.3 181.7,369.3 192.1,377.2 202.5,382.2 213.0,413.2 223.4,436.4 233.8,439.4 244.2,442.2 254.6,446.6 265.0,455.5 275.5,461.5 285.9,461.6 296.3,465.1 306.7,465.9 317.1,466.3 327.6,466.7 338.0,472.6 348.4,474.0 358.8,473.9 369.2,474.5 379.6,475.2 390.1,477.3 400.5,488.9 410.9,491.9 421.3,492.2 431.7,493.3 442.2,496.4 452.6,500.4 463.0,505.4 473.4,506.5 483.8,512.2 494.2,514.5 504.7,520.7 515.1,521.4 525.5,522.0 535.9,523.6 546.3,530.5 556.7,534.9 567.2,535.4 577.6,539.6 588.0,539.9 598.4,540.7 608.8,544.5 619.3,546.1 629.7,547.0 640.1,551.8 650.5,552.8 660.9,554.9 671.3,557.2 681.8,558.2 692.2,560.5 702.6,562.3 713.0,565.8 723.4,566.2 733.9,567.4 744.3,572.0 754.7,573.2 765.1,576.3 775.5,578.9 785.9,580.0 796.4,581.2 806.8,584.0 817.2,584.5 827.6,596.5 838.0,601.1 848.4,602.2 858.9,621.9 869.3,630.8 879.7,638.1 890.1,644.2 900.5,651.9 911.0,652.8 921.4,656.5 931.8,666.3 942.2,675.3 952.6,695.5 963.0,708.3 973.5,799.3 983.9,1040.5 994.3,1040.5"/>
<polyline stroke="#f1f1f1" points="160.9,296.0 171.3,381.7 181.7,399.7 192.1,406.0 202.5,408.8 213.0,410.7 223.4,415.6 233.8,415.9 244.2,455.7 254.6,459.3 265.0,459.6 275.5,460.4 285.9,460.5 296.3,460.6 306.7,460.7 317.1,460.8 327.6,460.8 338.0,462.9 348.4,464.8 358.8,465.1 369.2,465.1 379.6,465.4 390.1,465.9 400.5,466.8 410.9,467.0 421.3,467.1 431.7,469.2 442.2,469.2 452.6,470.6 463.0,471.6 473.4,472.3 483.8,473.1 494.2,473.5 504.7,473.7 515.1,473.9 525.5,474.1 535.9,476.4 546.3,476.8 556.7,477.7 567.2,479.4 577.6,483.2 588.0,483.5 598.4,483.7 608.8,484.5 619.3,484.7 629.7,484.8 640.1,485.6 650.5,485.7 660.9,485.7 671.3,486.6 681.8,487.3 692.2,489.4 702.6,489.7 713.0,489.8 723.4,490.0 733.9,492.6 744.3,493.1 754.7,493.3 765.1,493.7 775.5,493.9 785.9,494.4 796.4,497.7 806.8,498.4 817.2,498.5 827.6,499.5 838.0,499.8 848.4,502.6 858.9,502.7 869.3,502.7 879.7,503.7 890.1,504.1 900.5,504.4 911.0,504.8 921.4,506.7 931.8,511.2 942.2,511.6 952.6,521.5 963.0,539.9 973.5,719.8 983.9,1040.5 994.3,1040.5"/>
<polyline stroke="#f4f4f4" points="160.9,273.5 171.3,329.8 181.7,335.0 192.1,355.4 202.5,363.3 213.0,378.7 223.4,389.5 233.8,410.5 244.2,452.6 254.6,454.9 265.0,459.3 275.5,462.5 285.9,463.1 296.3,463.3 306.7,464.0 317.1,465.0 327.6,466.6 338.0,467.5 348.4,467.8 358.8,467.8 369.2,469.1 379.6,469.5 390.1,469.5 400.5,470.2 410.9,470.4 421.3,470.5 431.7,472.1 442.2,473.4 452.6,473.7 463.0,474.5 473.4,474.6 483.8,475.5 494.2,475.6 504.7,476.1 515.1,476.3 525.5,476.6 535.9,477.3 546.3,479.2 556.7,479.3 567.2,480.0 577.6,481.3 588.0,481.9 598.4,482.2 608.8,483.1 619.3,483.4 629.7,484.7 640.1,485.1 650.5,485.2 660.9,485.4 671.3,485.6 681.8,489.6 692.2,491.2 702.6,491.3 713.0,491.7 723.4,492.2 733.9,493.2 744.3,493.2 754.7,493.4 765.1,493.8 775.5,494.6 785.9,497.3 796.4,497.6 806.8,499.4 817.2,499.4 827.6,499.9 838.0,500.1 848.4,505.1 858.9,507.2 869.3,509.2 879.7,514.6 890.1,516.2 900.5,517.8 911.0,523.4 921.4,557.7 931.8,559.9 942.2,583.4 952.6,668.8 963.0,681.4 973.5,694.3 983.9,1040.5 994.3,1040.5"/>
<polyline stroke="#f7f7f7" points="160.9,242.1 171.3,336.9 181.7,339.4 192.1,372.0 202.5,420.6 213.0,421.8 223.4,432.0 233.8,438.8 244.2,457.4 254.6,457.5 265.0,461.7 275.5,466.3 285.9,469.1 296.3,469.1 306.7,471.3 317.1,471.4 327.6,471.7 338.0,475.4 348.4,476.8 358.8,478.8 369.2,479.8 379.6,481.5 390.1,481.9 400.5,482.1 410.9,482.6 421.3,483.0 431.7,483.3 442.2,483.9 452.6,487.2 463.0,488.4 473.4,493.5 483.8,496.3 494.2,504.3 504.7,504.7 515.1,506.4 525.5,514.2 535.9,518.0 546.3,518.4 556.7,526.3 567.2,528.0 577.6,529.0 588.0,533.4 598.4,534.1 608.8,534.6 619.3,535.4 629.7,535.9 640.1,549.2 650.5,550.5 660.9,552.0 671.3,552.2 681.8,554.0 692.2,554.6 702.6,556.2 713.0,558.6 723.4,561.2 733.9,563.0 744.3,566.6 754.7,567.9 765.1,571.9 775.5,579.0 785.9,581.9 796.4,585.4 806.8,586.4 817.2,596.5 827.6,597.2 838.0,598.6 848.4,608.8 858.9,612.1 869.3,638.2 879.7,642.1 890.1,645.0 900.5,647.1 911.0,651.4 921.4,656.0 931.8,661.6 942.2,692.3 952.6,703.7 963.0,749.7 973.5,942.1 983.9,1040.5 994.3,1040.5"/>
<polyline stroke="#0000ff" points="160.9,270.8 171.3,342.9 181.7,369.2 192.1,392.3 202.5,413.5 213.0,427.0 223.4,435.1 233.8,441.5 244.2,446.3 254.6,450.1 265.0,453.5 275.5,456.5 285.9,458.9 296.3,461.0 306.7,462.9 317.1,464.7 327.6,466.4 338.0,468.1 348.4,469.8 358.8,471.4 369.2,472.9 379.6,474.4 390.1,475.9 400.5,477.4 410.9,478.9 421.3,480.3 431.7,481.8 442.2,483.3 452.6,484.9 463.0,486.4 473.4,488.1 483.8,489.9 494.2,491.6 504.7,493.2 515.1,494.6 525.5,495.7 535.9,496.7 546.3,497.7 556.7,498.8 567.2,500.1 577.6,501.4 588.0,502.9 598.4,504.4 608.8,506.1 619.3,507.7 629.7,509.5 640.1,511.3 650.5,513.1 660.9,515.1 671.3,517.0 681.8,519.0 692.2,521.0 702.6,523.1 713.0,525.3 723.4,527.5 733.9,529.9 744.3,532.4 754.7,534.9 765.1,537.6 775.5,540.3 785.9,543.1 796.4,546.1 806.8,549.3 817.2,552.6 827.6,556.1 838.0,559.8 848.4,563.7 858.9,567.9 869.3,572.3 879.7,577.0 890.1,582.0 900.5,587.5 911.0,593.7 921.4,600.9 931.8,608.5 942.2,617.4 952.6,628.5 963.0,642.4 973.5,661.7 983.9,695.5 983.9,1040.5"/>
</g>
<g clip-path="url(#c1)" class="n">
<polyline stroke="#020202" stroke-dashoffset="15.3" points="1206.0,106.1 1216.4,136.3 1226.8,154.2 1237.3,175.2 1247.7,197.2 1258.1,210.0 1268.5,223.3 1278.9,233.6 1289.3,242.4 1299.7,252.4 1310.2,262.8 1320.6,273.4 1331.0,283.7 1341.4,293.4 1351.8,302.3 1362.2,310.2 1372.6,317.4 1383.1,324.4 1393.5,331.4 1403.9,338.6 1414.3,346.3 1424.7,354.4 1435.1,363.7 1445.5,373.3 1456.0,383.0 1466.4,392.8 1476.8,402.5 1487.2,412.2 1497.6,421.6 1508.0,430.9 1518.4,439.8 1528.9,448.5 1539.3,457.0 1549.7,465.3 1560.1,473.5 1570.5,481.5 1580.9,489.4 1591.3,497.2 1601.8,504.9 1612.2,512.6 1622.6,520.2 1633.0,527.7 1643.4,535.1 1653.8,542.3 1664.2,548.8 1674.7,555.2 1685.1,561.4 1695.5,567.5 1705.9,573.4 1716.3,579.3 1726.7,585.0 1737.1,590.7 1747.6,596.4 1758.0,602.1 1768.4,607.8 1778.8,613.6 1789.2,619.3 1799.6,625.1 1810.0,630.9 1820.5,636.7 1830.9,642.5 1841.3,648.3 1851.7,653.9 1862.1,659.5 1872.5,664.9 1882.9,670.3 1893.4,675.4 1903.8,680.4 1914.2,685.1 1924.6,689.6 1935.0,693.7 1945.4,697.4 1955.8,700.8 1966.3,703.7 1976.7,706.4 1987.1,708.6 1997.5,710.6 2007.9,712.3 2018.3,713.7 2028.7,715.0 2039.2,716.0"/>
<polyline stroke="#040404" stroke-dashoffset="3.3" points="1206.0,106.8 1216.4,138.0 1226.8,158.4 1237.3,176.6 1247.7,192.0 1258.1,206.1 1268.5,215.1 1278.9,224.6 1289.3,232.2 1299.7,240.7 1310.2,250.3 1320.6,260.3 1331.0,270.2 1341.4,279.8 1351.8,288.6 1362.2,296.7 1372.6,304.1 1383.1,311.3 1393.5,318.4 1403.9,325.6 1414.3,333.2 1424.7,340.8 1435.1,348.9 1445.5,357.1 1456.0,365.3 1466.4,373.4 1476.8,381.4 1487.2,389.3 1497.6,396.9 1508.0,404.3 1518.4,411.4 1528.9,418.3 1539.3,425.1 1549.7,431.7 1560.1,438.2 1570.5,444.8 1580.9,451.3 1591.3,458.0 1601.8,464.7 1612.2,471.6 1622.6,478.6 1633.0,485.7 1643.4,492.8 1653.8,500.0 1664.2,506.1 1674.7,512.2 1685.1,518.4 1695.5,524.6 1705.9,530.9 1716.3,537.1 1726.7,543.4 1737.1,549.7 1747.6,556.1 1758.0,562.4 1768.4,568.8 1778.8,575.0 1789.2,581.3 1799.6,587.4 1810.0,593.4 1820.5,599.3 1830.9,605.0 1841.3,610.5 1851.7,615.8 1862.1,620.8 1872.5,625.5 1882.9,630.0 1893.4,634.0 1903.8,637.8 1914.2,641.2 1924.6,644.3 1935.0,647.0 1945.4,649.4 1955.8,651.6 1966.3,653.4 1976.7,655.0 1987.1,656.4 1997.5,657.6 2007.9,658.7 2018.3,659.5 2028.7,660.3 2039.2,660.9"/>
<polyline stroke="#060606" stroke-dashoffset="4.1" points="1206.0,118.6 1216.4,154.8 1226.8,168.2 1237.3,184.3 1247.7,201.7 1258.1,212.7 1268.5,220.5 1278.9,225.0 1289.3,231.1 1299.7,237.1 1310.2,244.6 1320.6,252.4 1331.0,260.2 1341.4,267.8 1351.8,274.7 1362.2,280.9 1372.6,287.5 1383.1,293.9 1393.5,300.3 1403.9,307.0 1414.3,314.1 1424.7,321.4 1435.1,329.7 1445.5,338.1 1456.0,346.6 1466.4,355.1 1476.8,363.5 1487.2,371.8 1497.6,379.8 1508.0,387.7 1518.4,395.3 1528.9,402.6 1539.3,409.7 1549.7,416.7 1560.1,423.6 1570.5,430.4 1580.9,437.3 1591.3,444.1 1601.8,451.0 1612.2,458.0 1622.6,465.0 1633.0,472.0 1643.4,479.1 1653.8,486.1 1664.2,491.8 1674.7,497.5 1685.1,503.3 1695.5,509.0 1705.9,514.9 1716.3,520.7 1726.7,526.6 1737.1,532.6 1747.6,538.7 1758.0,544.8 1768.4,550.9 1778.8,557.1 1789.2,563.3 1799.6,569.6 1810.0,575.8 1820.5,582.0 1830.9,588.2 1841.3,594.3 1851.7,600.4 1862.1,606.3 1872.5,612.0 1882.9,617.5 1893.4,622.8 1903.8,627.7 1914.2,632.2 1924.6,636.4 1935.0,640.3 1945.4,643.7 1955.8,646.8 1966.3,649.6 1976.7,652.1 1987.1,654.2 1997.5,656.1 2007.9,657.7 2018.3,659.1 2028.7,660.3 2039.2,661.3"/>
<polyline stroke="#0b0b0b" stroke-dashoffset="0.1" points="1206.0,119.1 1216.4,150.0 1226.8,172.9 1237.3,189.9 1247.7,202.9 1258.1,209.3 1268.5,213.2 1278.9,215.4 1289.3,220.0 1299.7,228.3 1310.2,236.3 1320.6,243.9 1331.0,249.9 1341.4,255.6 1351.8,261.0 1362.2,266.2 1372.6,271.2 1383.1,276.1 1393.5,280.9 1403.9,285.5 1414.3,290.1 1424.7,294.4 1435.1,298.5 1445.5,302.5 1456.0,306.5 1466.4,310.3 1476.8,314.2 1487.2,318.1 1497.6,322.0 1508.0,326.1 1518.4,330.3 1528.9,334.4 1539.3,338.5 1549.7,342.6 1560.1,346.8 1570.5,351.0 1580.9,355.3 1591.3,359.6 1601.8,364.1 1612.2,368.7 1622.6,374.3 1633.0,380.5 1643.4,386.9 1653.8,393.6 1664.2,399.8 1674.7,406.3 1685.1,413.1 1695.5,420.2 1705.9,427.5 1716.3,435.2 1726.7,443.1 1737.1,451.1 1747.6,459.3 1758.0,467.5 1768.4,475.7 1778.8,483.9 1789.2,492.0 1799.6,499.9 1810.0,507.7 1820.5,515.3 1830.9,522.8 1841.3,530.1 1851.7,537.3 1862.1,544.1 1872.5,550.5 1882.9,556.5 1893.4,562.0 1903.8,566.9 1914.2,571.3 1924.6,575.1 1935.0,578.5 1945.4,582.0 1955.8,585.8 1966.3,589.1 1976.7,591.9 1987.1,594.2 1997.5,596.1 2007.9,597.7 2018.3,599.1 2028.7,600.3 2039.2,601.3"/>
<polyline stroke="#101010" stroke-dashoffset="10.0" points="1206.0,95.0 1216.4,125.1 1226.8,147.3 1237.3,166.6 1247.7,186.4 1258.1,200.0 1268.5,211.7 1278.9,221.0 1289.3,230.2 1299.7,240.0 1310.2,250.6 1320.6,261.3 1331.0,271.8 1341.4,281.9 1351.8,291.2 1362.2,299.6 1372.6,306.5 1383.1,313.1 1393.5,319.8 1403.9,326.7 1414.3,334.0 1424.7,341.5 1435.1,350.5 1445.5,359.7 1456.0,368.9 1466.4,378.2 1476.8,387.5 1487.2,396.7 1497.6,405.7 1508.0,414.5 1518.4,423.0 1528.9,431.3 1539.3,439.5 1549.7,447.5 1560.1,455.5 1570.5,463.3 1580.9,471.1 1591.3,478.8 1601.8,486.6 1612.2,494.3 1622.6,501.9 1633.0,509.4 1643.4,516.8 1653.8,523.9 1664.2,530.2 1674.7,536.2 1685.1,541.9 1695.5,547.4 1705.9,552.7 1716.3,557.7 1726.7,562.4 1737.1,566.9 1747.6,571.1 1758.0,575.1 1768.4,578.8 1778.8,582.3 1789.2,585.5 1799.6,588.5 1810.0,591.2 1820.5,593.7 1830.9,596.0 1841.3,598.1 1851.7,600.0 1862.1,601.7 1872.5,603.2 1882.9,604.6 1893.4,605.8 1903.8,607.0 1914.2,608.0 1924.6,608.9 1935.0,609.7 1945.4,610.4 1955.8,611.0 1966.3,611.5 1976.7,612.0 1987.1,612.4 1997.5,612.8 2007.9,613.1 2018.3,613.3 2028.7,613.6 2039.2,613.8"/>
<polyline stroke="#111111" stroke-dashoffset="0.8" points="1206.0,117.3 1216.4,146.5 1226.8,170.0 1237.3,188.0 1247.7,201.4 1258.1,213.1 1268.5,215.9 1278.9,221.6 1289.3,224.7 1299.7,230.1 1310.2,236.5 1320.6,243.4 1331.0,250.5 1341.4,257.3 1351.8,263.6 1362.2,269.1 1372.6,275.1 1383.1,280.8 1393.5,286.6 1403.9,292.7 1414.3,299.1 1424.7,305.6 1435.1,313.1 1445.5,320.7 1456.0,328.3 1466.4,335.9 1476.8,343.5 1487.2,350.9 1497.6,358.1 1508.0,365.2 1518.4,372.0 1528.9,378.6 1539.3,385.0 1549.7,391.3 1560.1,397.6 1570.5,403.9 1580.9,410.3 1591.3,416.7 1601.8,423.4 1612.2,430.2 1622.6,437.2 1633.0,444.2 1643.4,451.3 1653.8,458.5 1664.2,464.5 1674.7,470.5 1685.1,476.6 1695.5,482.9 1705.9,489.4 1716.3,496.0 1726.7,502.7 1737.1,509.6 1747.6,516.6 1758.0,523.7 1768.4,530.9 1778.8,538.2 1789.2,545.6 1799.6,553.0 1810.0,560.4 1820.5,567.9 1830.9,575.4 1841.3,583.0 1851.7,590.6 1862.1,598.2 1872.5,605.7 1882.9,613.0 1893.4,620.0 1903.8,626.9 1914.2,633.4 1924.6,639.5 1935.0,645.3 1945.4,650.7 1955.8,655.9 1966.3,660.7 1976.7,665.1 1987.1,669.2 1997.5,672.9 2007.9,676.3 2018.3,679.3 2028.7,682.1 2039.2,684.5"/>
<polyline stroke="#121212" stroke-dashoffset="2.3" points="1206.0,103.3 1216.4,139.2 1226.8,158.0 1237.3,181.8 1247.7,195.9 1258.1,213.8 1268.5,223.8 1278.9,238.7 1289.3,249.4 1299.7,260.4 1310.2,272.8 1320.6,285.2 1331.0,297.3 1341.4,308.8 1351.8,319.4 1362.2,329.0 1372.6,337.7 1383.1,345.9 1393.5,353.9 1403.9,362.1 1414.3,370.3 1424.7,378.7 1435.1,387.2 1445.5,395.8 1456.0,404.4 1466.4,412.9 1476.8,421.2 1487.2,429.4 1497.6,437.3 1508.0,444.9 1518.4,452.3 1528.9,459.4 1539.3,466.5 1549.7,473.4 1560.1,480.3 1570.5,487.1 1580.9,494.1 1591.3,501.0 1601.8,508.1 1612.2,515.4 1622.6,522.7 1633.0,530.2 1643.4,537.8 1653.8,545.5 1664.2,553.0 1674.7,560.5 1685.1,568.0 1695.5,575.6 1705.9,583.1 1716.3,590.5 1726.7,598.0 1737.1,605.4 1747.6,612.9 1758.0,620.4 1768.4,627.8 1778.8,635.2 1789.2,642.5 1799.6,649.7 1810.0,656.8 1820.5,663.8 1830.9,670.6 1841.3,677.1 1851.7,683.4 1862.1,689.4 1872.5,695.1 1882.9,700.6 1893.4,705.8 1903.8,710.8 1914.2,715.5 1924.6,720.0 1935.0,724.1 1945.4,727.9 1955.8,731.3 1966.3,734.4 1976.7,737.2 1987.1,739.7 1997.5,741.9 2007.9,743.9 2018.3,745.7 2028.7,747.3 2039.2,748.7"/>
<polyline stroke="#131313" stroke-dashoffset="5.1" points="1206.0,92.8 1216.4,120.9 1226.8,147.8 1237.3,168.4 1247.7,184.6 1258.1,192.7 1268.5,201.5 1278.9,210.8 1289.3,219.3 1299.7,227.4 1310.2,235.3 1320.6,242.8 1331.0,248.7 1341.4,254.4 1351.8,259.8 1362.2,265.0 1372.6,270.1 1383.1,274.9 1393.5,279.7 1403.9,284.4 1414.3,288.9 1424.7,293.6 1435.1,300.7 1445.5,307.9 1456.0,315.3 1466.4,322.7 1476.8,330.3 1487.2,337.8 1497.6,345.2 1508.0,352.5 1518.4,359.7 1528.9,366.7 1539.3,373.7 1549.7,380.6 1560.1,387.6 1570.5,394.5 1580.9,401.6 1591.3,408.8 1601.8,416.2 1612.2,423.8 1622.6,431.5 1633.0,439.3 1643.4,447.1 1653.8,454.9 1664.2,461.4 1674.7,468.0 1685.1,474.6 1695.5,481.2 1705.9,488.0 1716.3,494.8 1726.7,501.7 1737.1,508.7 1747.6,515.7 1758.0,522.7 1768.4,529.8 1778.8,536.9 1789.2,544.0 1799.6,551.1 1810.0,558.2 1820.5,565.3 1830.9,572.5 1841.3,579.7 1851.7,587.1 1862.1,594.5 1872.5,601.9 1882.9,609.2 1893.4,616.4 1903.8,623.5 1914.2,630.4 1924.6,637.1 1935.0,643.6 1945.4,649.9 1955.8,656.1 1966.3,662.2 1976.7,668.0 1987.1,673.7 1997.5,679.1 2007.9,684.3 2018.3,689.3 2028.7,693.9 2039.2,698.3"/>
<polyline stroke="#141414" stroke-dashoffset="9.0" points="1206.0,101.0 1216.4,135.0 1226.8,152.3 1237.3,175.5 1247.7,193.4 1258.1,204.4 1268.5,211.6 1278.9,216.6 1289.3,223.9 1299.7,232.2 1310.2,241.3 1320.6,250.6 1331.0,259.9 1341.4,269.0 1351.8,277.5 1362.2,285.3 1372.6,292.3 1383.1,299.2 1393.5,306.1 1403.9,313.3 1414.3,320.9 1424.7,328.7 1435.1,337.4 1445.5,346.1 1456.0,354.8 1466.4,363.5 1476.8,372.2 1487.2,380.6 1497.6,388.9 1508.0,396.9 1518.4,404.6 1528.9,412.1 1539.3,419.3 1549.7,426.4 1560.1,433.4 1570.5,440.4 1580.9,447.2 1591.3,454.1 1601.8,461.1 1612.2,468.1 1622.6,475.1 1633.0,482.1 1643.4,489.1 1653.8,496.0 1664.2,501.6 1674.7,507.2 1685.1,512.8 1695.5,518.3 1705.9,523.8 1716.3,529.2 1726.7,534.7 1737.1,540.0 1747.6,545.4 1758.0,550.6 1768.4,555.8 1778.8,560.9 1789.2,566.0 1799.6,570.9 1810.0,575.7 1820.5,580.3 1830.9,584.8 1841.3,589.1 1851.7,593.2 1862.1,597.2 1872.5,600.9 1882.9,604.3 1893.4,607.5 1903.8,610.4 1914.2,613.0 1924.6,615.4 1935.0,617.6 1945.4,619.5 1955.8,621.1 1966.3,622.6 1976.7,623.9 1987.1,625.0 1997.5,626.0 2007.9,626.9 2018.3,627.6 2028.7,628.2 2039.2,628.7"/>
<polyline stroke="#141414" stroke-dashoffset="3.9" points="1206.0,111.3 1216.4,150.0 1226.8,167.9 1237.3,185.0 1247.7,201.7 1258.1,206.4 1268.5,212.8 1278.9,218.8 1289.3,223.0 1299.7,228.5 1310.2,234.8 1320.6,241.9 1331.0,249.2 1341.4,256.1 1351.8,262.4 1362.2,267.8 1372.6,273.5 1383.1,278.8 1393.5,284.1 1403.9,289.5 1414.3,295.1 1424.7,300.7 1435.1,307.2 1445.5,313.7 1456.0,320.4 1466.4,327.0 1476.8,333.7 1487.2,340.3 1497.6,346.7 1508.0,353.1 1518.4,359.3 1528.9,365.4 1539.3,371.5 1549.7,377.5 1560.1,383.6 1570.5,389.8 1580.9,396.2 1591.3,402.8 1601.8,409.6 1612.2,416.8 1622.6,424.2 1633.0,431.7 1643.4,439.3 1653.8,447.1 1664.2,453.7 1674.7,460.4 1685.1,467.2 1695.5,474.3 1705.9,481.4 1716.3,488.7 1726.7,496.2 1737.1,503.8 1747.6,511.4 1758.0,519.1 1768.4,526.9 1778.8,534.7 1789.2,542.5 1799.6,550.3 1810.0,558.1 1820.5,565.8 1830.9,573.6 1841.3,581.5 1851.7,589.4 1862.1,597.3 1872.5,605.1 1882.9,612.9 1893.4,620.5 1903.8,627.9 1914.2,635.1 1924.6,642.0 1935.0,648.7 1945.4,655.3 1955.8,661.7 1966.3,667.9 1976.7,674.0 1987.1,680.0 1997.5,685.7 2007.9,691.3 2018.3,696.7 2028.7,701.8 2039.2,706.7"/>
<polyline stroke="#161616" stroke-dashoffset="12.9" points="1206.0,99.9 1216.4,131.2 1226.8,152.3 1237.3,173.1 1247.7,188.3 1258.1,200.6 1268.5,210.8 1278.9,219.3 1289.3,226.6 1299.7,234.7 1310.2,244.1 1320.6,253.8 1331.0,263.4 1341.4,272.6 1351.8,281.0 1362.2,288.5 1372.6,294.9 1383.1,300.9 1393.5,306.8 1403.9,312.9 1414.3,319.1 1424.7,325.3 1435.1,332.6 1445.5,340.0 1456.0,347.5 1466.4,355.1 1476.8,362.7 1487.2,370.2 1497.6,377.6 1508.0,384.9 1518.4,392.1 1528.9,399.1 1539.3,406.1 1549.7,413.2 1560.1,420.2 1570.5,427.4 1580.9,434.7 1591.3,442.1 1601.8,449.8 1612.2,457.6 1622.6,465.7 1633.0,473.9 1643.4,482.1 1653.8,490.4 1664.2,497.6 1674.7,504.7 1685.1,511.9 1695.5,519.1 1705.9,526.4 1716.3,533.6 1726.7,540.8 1737.1,548.0 1747.6,555.3 1758.0,562.4 1768.4,569.6 1778.8,576.6 1789.2,583.6 1799.6,590.5 1810.0,597.3 1820.5,604.0 1830.9,610.6 1841.3,617.1 1851.7,623.5 1862.1,629.8 1872.5,635.8 1882.9,641.8 1893.4,647.5 1903.8,653.0 1914.2,658.2 1924.6,663.2 1935.0,668.0 1945.4,672.5 1955.8,676.7 1966.3,680.7 1976.7,684.4 1987.1,687.8 1997.5,690.9 2007.9,693.8 2018.3,696.4 2028.7,698.8 2039.2,700.9"/>
<polyline stroke="#181818" stroke-dashoffset="15.0" points="1206.0,119.2 1216.4,147.7 1226.8,164.3 1237.3,192.5 1247.7,206.8 1258.1,218.2 1268.5,227.4 1278.9,237.6 1289.3,246.5 1299.7,254.5 1310.2,264.1 1320.6,273.4 1331.0,282.5 1341.4,291.2 1351.8,299.1 1362.2,306.3 1372.6,313.8 1383.1,321.2 1393.5,328.8 1403.9,337.0 1414.3,345.8 1424.7,355.1 1435.1,365.7 1445.5,376.4 1456.0,387.3 1466.4,398.2 1476.8,409.0 1487.2,419.5 1497.6,429.8 1508.0,439.6 1518.4,448.9 1528.9,457.8 1539.3,466.3 1549.7,474.4 1560.1,482.0 1570.5,489.3 1580.9,496.2 1591.3,502.8 1601.8,509.1 1612.2,515.2 1622.6,521.0 1633.0,526.6 1643.4,532.0 1653.8,537.3 1664.2,541.7 1674.7,546.0 1685.1,550.2 1695.5,554.4 1705.9,558.7 1716.3,563.0 1726.7,567.4 1737.1,572.0 1747.6,576.9 1758.0,582.0 1768.4,587.4 1778.8,593.1 1789.2,599.1 1799.6,605.3 1810.0,611.7 1820.5,618.3 1830.9,625.0 1841.3,631.6 1851.7,638.1 1862.1,644.4 1872.5,650.4 1882.9,656.0 1893.4,661.2 1903.8,665.9 1914.2,670.1 1924.6,673.7 1935.0,676.8 1945.4,679.4 1955.8,681.6 1966.3,683.3 1976.7,684.8 1987.1,686.0 1997.5,686.9 2007.9,687.7 2018.3,688.3 2028.7,688.8 2039.2,689.2"/>
<polyline stroke="#181818" stroke-dashoffset="15.5" points="1206.0,98.4 1216.4,130.3 1226.8,150.4 1237.3,171.3 1247.7,189.5 1258.1,209.8 1268.5,217.8 1278.9,231.2 1289.3,241.5 1299.7,254.6 1310.2,267.1 1320.6,279.4 1331.0,291.5 1341.4,303.1 1351.8,313.8 1362.2,323.5 1372.6,331.9 1383.1,339.9 1393.5,347.8 1403.9,355.9 1414.3,364.4 1424.7,373.1 1435.1,382.5 1445.5,391.9 1456.0,401.4 1466.4,410.9 1476.8,420.2 1487.2,429.3 1497.6,438.2 1508.0,446.8 1518.4,455.1 1528.9,463.1 1539.3,471.0 1549.7,478.7 1560.1,486.3 1570.5,493.8 1580.9,501.3 1591.3,508.8 1601.8,516.3 1612.2,523.8 1622.6,531.3 1633.0,538.9 1643.4,546.5 1653.8,554.1 1664.2,561.3 1674.7,568.5 1685.1,575.6 1695.5,582.7 1705.9,589.6 1716.3,596.4 1726.7,603.1 1737.1,609.7 1747.6,616.3 1758.0,622.9 1768.4,629.3 1778.8,635.7 1789.2,642.0 1799.6,648.2 1810.0,654.3 1820.5,660.3 1830.9,666.0 1841.3,671.6 1851.7,676.9 1862.1,682.0 1872.5,686.9 1882.9,691.6 1893.4,696.1 1903.8,700.4 1914.2,704.4 1924.6,708.3 1935.0,711.9 1945.4,715.1 1955.8,718.1 1966.3,720.8 1976.7,723.2 1987.1,725.3 1997.5,727.3 2007.9,728.9 2018.3,730.4 2028.7,731.7 2039.2,732.9"/>
<polyline stroke="#1d1d1d" stroke-dashoffset="8.4" points="1206.0,116.1 1216.4,148.0 1226.8,169.2 1237.3,189.9 1247.7,204.9 1258.1,213.8 1268.5,222.0 1278.9,229.0 1289.3,234.1 1299.7,240.1 1310.2,247.3 1320.6,255.2 1331.0,263.1 1341.4,270.6 1351.8,277.4 1362.2,283.5 1372.6,290.0 1383.1,296.3 1393.5,302.5 1403.9,309.0 1414.3,315.8 1424.7,322.8 1435.1,330.9 1445.5,339.0 1456.0,347.2 1466.4,355.5 1476.8,363.6 1487.2,371.7 1497.6,379.6 1508.0,387.3 1518.4,394.8 1528.9,402.1 1539.3,409.2 1549.7,416.3 1560.1,423.3 1570.5,430.2 1580.9,437.3 1591.3,444.3 1601.8,451.5 1612.2,458.9 1622.6,466.4 1633.0,473.8 1643.4,481.4 1653.8,488.9 1664.2,495.2 1674.7,501.6 1685.1,507.9 1695.5,514.3 1705.9,520.8 1716.3,527.3 1726.7,533.9 1737.1,540.5 1747.6,547.2 1758.0,553.9 1768.4,560.6 1778.8,567.4 1789.2,574.3 1799.6,581.1 1810.0,588.0 1820.5,594.8 1830.9,601.7 1841.3,608.6 1851.7,615.4 1862.1,622.2 1872.5,628.9 1882.9,635.5 1893.4,641.9 1903.8,648.2 1914.2,654.1 1924.6,659.8 1935.0,665.3 1945.4,670.4 1955.8,675.2 1966.3,679.7 1976.7,683.8 1987.1,687.6 1997.5,691.0 2007.9,694.1 2018.3,696.9 2028.7,699.4 2039.2,701.6"/>
<polyline stroke="#212121" stroke-dashoffset="3.1" points="1206.0,117.9 1216.4,143.8 1226.8,170.1 1237.3,188.4 1247.7,210.1 1258.1,220.4 1268.5,228.4 1278.9,237.2 1289.3,245.1 1299.7,254.6 1310.2,264.0 1320.6,274.0 1331.0,283.9 1341.4,293.4 1351.8,302.1 1362.2,309.9 1372.6,317.9 1383.1,325.6 1393.5,333.1 1403.9,340.8 1414.3,348.6 1424.7,356.5 1435.1,364.6 1445.5,372.7 1456.0,380.8 1466.4,388.8 1476.8,396.7 1487.2,404.4 1497.6,411.8 1508.0,419.0 1518.4,425.9 1528.9,432.6 1539.3,439.1 1549.7,445.4 1560.1,451.8 1570.5,458.1 1580.9,464.4 1591.3,470.8 1601.8,477.3 1612.2,484.0 1622.6,490.8 1633.0,497.7 1643.4,504.7 1653.8,511.8 1664.2,518.1 1674.7,524.4 1685.1,530.8 1695.5,537.3 1705.9,543.9 1716.3,550.5 1726.7,557.2 1737.1,564.0 1747.6,570.9 1758.0,577.8 1768.4,584.9 1778.8,592.0 1789.2,599.2 1799.6,606.4 1810.0,613.6 1820.5,620.8 1830.9,627.9 1841.3,634.9 1851.7,641.8 1862.1,648.5 1872.5,655.1 1882.9,661.4 1893.4,667.4 1903.8,673.1 1914.2,678.5 1924.6,683.6 1935.0,688.2 1945.4,692.5 1955.8,696.3 1966.3,699.7 1976.7,702.7 1987.1,705.3 1997.5,707.6 2007.9,709.6 2018.3,711.3 2028.7,712.8 2039.2,714.1"/>
<polyline stroke="#262626" stroke-dashoffset="15.4" points="1206.0,102.6 1216.4,135.6 1226.8,150.4 1237.3,177.4 1247.7,195.2 1258.1,212.6 1268.5,224.3 1278.9,236.8 1289.3,249.7 1299.7,261.4 1310.2,274.0 1320.6,286.7 1331.0,299.1 1341.4,310.9 1351.8,321.7 1362.2,331.4 1372.6,340.1 1383.1,348.3 1393.5,356.2 1403.9,364.3 1414.3,372.5 1424.7,380.8 1435.1,389.3 1445.5,397.9 1456.0,406.6 1466.4,415.2 1476.8,423.7 1487.2,432.1 1497.6,440.3 1508.0,448.3 1518.4,456.1 1528.9,463.7 1539.3,471.2 1549.7,478.7 1560.1,486.1 1570.5,493.5 1580.9,501.0 1591.3,508.5 1601.8,516.1 1612.2,523.7 1622.6,531.4 1633.0,539.1 1643.4,546.9 1653.8,554.5 1664.2,561.9 1674.7,569.2 1685.1,576.3 1695.5,583.2 1705.9,589.9 1716.3,596.4 1726.7,602.6 1737.1,608.7 1747.6,614.7 1758.0,620.4 1768.4,626.0 1778.8,631.4 1789.2,636.7 1799.6,641.7 1810.0,646.6 1820.5,651.3 1830.9,655.8 1841.3,660.1 1851.7,664.2 1862.1,668.0 1872.5,671.8 1882.9,675.3 1893.4,678.7 1903.8,682.0 1914.2,685.0 1924.6,688.0 1935.0,690.7 1945.4,693.1 1955.8,695.4 1966.3,697.4 1976.7,699.1 1987.1,700.7 1997.5,702.0 2007.9,703.2 2018.3,704.2 2028.7,705.1 2039.2,705.8"/>
<polyline stroke="#262626" points="1206.0,93.9 1216.4,120.6 1226.8,143.5 1237.3,164.1 1247.7,179.4 1258.1,190.3 1268.5,199.3 1278.9,207.0 1289.3,213.7 1299.7,220.1 1310.2,226.2 1320.6,232.0 1331.0,237.4 1341.4,242.5 1351.8,247.4 1362.2,252.1 1372.6,256.6 1383.1,260.9 1393.5,265.2 1403.9,269.3 1414.3,273.3 1424.7,277.0 1435.1,280.6 1445.5,284.1 1456.0,287.4 1466.4,290.7 1476.8,294.1 1487.2,297.5 1497.6,301.0 1508.0,304.6 1518.4,308.3 1528.9,312.1 1539.3,315.9 1549.7,319.7 1560.1,323.6 1570.5,327.5 1580.9,331.5 1591.3,335.6 1601.8,339.8 1612.2,344.2 1622.6,348.6 1633.0,353.2 1643.4,358.0 1653.8,362.8 1664.2,367.8 1674.7,372.8 1685.1,377.9 1695.5,383.0 1705.9,388.2 1716.3,393.4 1726.7,398.7 1737.1,404.3 1747.6,410.2 1758.0,416.1 1768.4,422.0 1778.8,427.7 1789.2,433.3 1799.6,438.6 1810.0,443.5 1820.5,447.9 1830.9,452.0 1841.3,455.9 1851.7,459.7 1862.1,463.4 1872.5,466.8 1882.9,470.1 1893.4,473.2 1903.8,476.1 1914.2,478.7 1924.6,481.1 1935.0,483.3 1945.4,485.4 1955.8,487.3 1966.3,489.0 1976.7,490.5 1987.1,491.8 1997.5,492.9 2007.9,493.9 2018.3,494.8 2028.7,495.5 2039.2,496.1"/>
<polyline stroke="#272727" stroke-dashoffset="7.7" points="1206.0,109.0 1216.4,142.0 1226.8,161.0 1237.3,175.5 1247.7,194.0 1258.1,202.2 1268.5,212.0 1278.9,215.6 1289.3,218.8 1299.7,224.6 1310.2,231.3 1320.6,238.4 1331.0,245.5 1341.4,252.2 1351.8,258.3 1362.2,263.7 1372.6,268.7 1383.1,273.6 1393.5,278.5 1403.9,283.7 1414.3,289.2 1424.7,294.9 1435.1,302.0 1445.5,309.3 1456.0,316.8 1466.4,324.4 1476.8,332.0 1487.2,339.6 1497.6,347.2 1508.0,354.6 1518.4,361.8 1528.9,368.9 1539.3,375.8 1549.7,382.7 1560.1,389.6 1570.5,396.4 1580.9,403.3 1591.3,410.3 1601.8,417.4 1612.2,424.6 1622.6,431.9 1633.0,439.3 1643.4,446.6 1653.8,453.9 1664.2,459.9 1674.7,465.9 1685.1,471.9 1695.5,478.1 1705.9,484.3 1716.3,490.6 1726.7,497.0 1737.1,503.5 1747.6,510.1 1758.0,516.8 1768.4,523.5 1778.8,530.3 1789.2,537.2 1799.6,544.2 1810.0,551.2 1820.5,558.3 1830.9,565.4 1841.3,572.7 1851.7,580.0 1862.1,587.4 1872.5,594.6 1882.9,601.8 1893.4,608.7 1903.8,615.4 1914.2,621.8 1924.6,627.8 1935.0,633.5 1945.4,638.8 1955.8,643.8 1966.3,648.4 1976.7,652.7 1987.1,656.5 1997.5,660.0 2007.9,663.2 2018.3,666.0 2028.7,668.5 2039.2,670.6"/>
<polyline stroke="#313131" stroke-dashoffset="9.1" points="1206.0,102.0 1216.4,133.3 1226.8,155.3 1237.3,172.9 1247.7,193.3 1258.1,206.7 1268.5,216.9 1278.9,228.6 1289.3,237.8 1299.7,247.7 1310.2,258.6 1320.6,269.8 1331.0,280.9 1341.4,291.5 1351.8,301.4 1362.2,310.3 1372.6,318.2 1383.1,325.8 1393.5,333.4 1403.9,341.2 1414.3,349.3 1424.7,357.7 1435.1,366.7 1445.5,375.8 1456.0,384.9 1466.4,394.0 1476.8,402.9 1487.2,411.7 1497.6,420.3 1508.0,428.6 1518.4,436.5 1528.9,444.3 1539.3,451.8 1549.7,459.2 1560.1,466.5 1570.5,473.6 1580.9,480.8 1591.3,487.9 1601.8,495.1 1612.2,502.3 1622.6,509.6 1633.0,516.9 1643.4,524.2 1653.8,531.5 1664.2,538.0 1674.7,544.5 1685.1,551.0 1695.5,557.4 1705.9,563.8 1716.3,570.2 1726.7,576.5 1737.1,582.9 1747.6,589.3 1758.0,595.7 1768.4,602.1 1778.8,608.6 1789.2,615.0 1799.6,621.5 1810.0,628.0 1820.5,634.4 1830.9,640.9 1841.3,647.2 1851.7,653.5 1862.1,659.6 1872.5,665.7 1882.9,671.6 1893.4,677.4 1903.8,683.1 1914.2,688.5 1924.6,693.8 1935.0,698.7 1945.4,703.4 1955.8,707.7 1966.3,711.6 1976.7,715.2 1987.1,718.5 1997.5,721.4 2007.9,724.0 2018.3,726.3 2028.7,728.3 2039.2,730.1"/>
<polyline stroke="#333333" points="1206.0,103.5 1216.4,131.3 1226.8,151.3 1237.3,168.0 1247.7,181.6 1258.1,193.2 1268.5,203.5 1278.9,212.6 1289.3,220.8 1299.7,228.0 1310.2,234.5 1320.6,240.6 1331.0,246.2 1341.4,251.5 1351.8,256.5 1362.2,261.2 1372.6,265.8 1383.1,270.2 1393.5,274.6 1403.9,278.9 1414.3,283.2 1424.7,287.2 1435.1,291.1 1445.5,294.9 1456.0,298.6 1466.4,302.2 1476.8,305.9 1487.2,309.6 1497.6,313.5 1508.0,317.4 1518.4,321.5 1528.9,325.6 1539.3,329.7 1549.7,333.8 1560.1,338.0 1570.5,342.3 1580.9,346.6 1591.3,351.0 1601.8,355.6 1612.2,360.2 1622.6,364.9 1633.0,369.7 1643.4,374.6 1653.8,379.5 1664.2,384.6 1674.7,389.8 1685.1,395.2 1695.5,400.8 1705.9,406.6 1716.3,412.6 1726.7,418.9 1737.1,425.4 1747.6,432.2 1758.0,439.2 1768.4,446.5 1778.8,454.1 1789.2,462.0 1799.6,470.2 1810.0,478.7 1820.5,487.5 1830.9,497.3 1841.3,508.2 1851.7,519.5 1862.1,530.7 1872.5,541.0 1882.9,551.0 1893.4,561.2 1903.8,570.8 1914.2,579.0 1924.6,584.8 1935.0,589.1 1945.4,592.8 1955.8,595.8 1966.3,598.2 1976.7,599.8 1987.1,600.9 1997.5,602.0 2007.9,602.8 2018.3,603.5 2028.7,603.9 2039.2,604.1"/>
<polyline stroke="#373737" stroke-dashoffset="12.7" points="1206.0,115.7 1216.4,144.9 1226.8,164.6 1237.3,185.6 1247.7,204.9 1258.1,216.0 1268.5,220.4 1278.9,229.6 1289.3,236.3 1299.7,244.1 1310.2,252.5 1320.6,261.3 1331.0,270.1 1341.4,278.5 1351.8,286.1 1362.2,292.8 1372.6,299.6 1383.1,306.1 1393.5,312.5 1403.9,319.1 1414.3,326.0 1424.7,332.9 1435.1,340.7 1445.5,348.6 1456.0,356.6 1466.4,364.6 1476.8,372.5 1487.2,380.3 1497.6,387.9 1508.0,395.3 1518.4,402.5 1528.9,409.5 1539.3,416.3 1549.7,423.1 1560.1,429.8 1570.5,436.6 1580.9,443.4 1591.3,450.2 1601.8,457.2 1612.2,464.4 1622.6,471.6 1633.0,479.0 1643.4,486.4 1653.8,493.8 1664.2,500.1 1674.7,506.5 1685.1,512.9 1695.5,519.3 1705.9,525.8 1716.3,532.3 1726.7,538.8 1737.1,545.4 1747.6,552.0 1758.0,558.7 1768.4,565.3 1778.8,571.9 1789.2,578.4 1799.6,584.9 1810.0,591.3 1820.5,597.6 1830.9,603.7 1841.3,609.7 1851.7,615.4 1862.1,620.9 1872.5,626.2 1882.9,631.1 1893.4,635.7 1903.8,639.9 1914.2,643.8 1924.6,647.3 1935.0,650.5 1945.4,653.3 1955.8,655.7 1966.3,657.9 1976.7,659.8 1987.1,661.4 1997.5,662.8 2007.9,664.0 2018.3,665.0 2028.7,665.9 2039.2,666.7"/>
<polyline stroke="#3f3f3f" stroke-dashoffset="7.8" points="1206.0,105.0 1216.4,133.6 1226.8,158.3 1237.3,182.5 1247.7,196.0 1258.1,206.8 1268.5,211.4 1278.9,218.9 1289.3,224.9 1299.7,232.7 1310.2,241.1 1320.6,250.1 1331.0,259.1 1341.4,267.8 1351.8,275.8 1362.2,283.1 1372.6,289.8 1383.1,296.2 1393.5,302.6 1403.9,309.1 1414.3,315.7 1424.7,322.4 1435.1,329.5 1445.5,336.7 1456.0,343.9 1466.4,351.1 1476.8,358.1 1487.2,365.0 1497.6,371.8 1508.0,378.3 1518.4,384.6 1528.9,390.7 1539.3,396.7 1549.7,402.6 1560.1,408.5 1570.5,414.5 1580.9,420.6 1591.3,426.8 1601.8,433.3 1612.2,440.0 1622.6,447.0 1633.0,454.0 1643.4,461.3 1653.8,468.6 1664.2,474.8 1674.7,481.2 1685.1,487.7 1695.5,494.4 1705.9,501.3 1716.3,508.3 1726.7,515.6 1737.1,523.0 1747.6,530.5 1758.0,538.2 1768.4,546.1 1778.8,554.0 1789.2,562.0 1799.6,570.1 1810.0,578.3 1820.5,586.4 1830.9,594.6 1841.3,602.9 1851.7,611.1 1862.1,619.3 1872.5,627.3 1882.9,635.2 1893.4,642.9 1903.8,650.3 1914.2,657.4 1924.6,664.2 1935.0,670.6 1945.4,676.7 1955.8,682.3 1966.3,687.6 1976.7,692.5 1987.1,697.1 1997.5,701.2 2007.9,705.0 2018.3,708.4 2028.7,711.5 2039.2,714.3"/>
<polyline stroke="#454545" stroke-dashoffset="11.8" points="1206.0,94.0 1216.4,124.2 1226.8,147.5 1237.3,169.9 1247.7,179.2 1258.1,192.7 1268.5,199.7 1278.9,207.6 1289.3,215.3 1299.7,222.6 1310.2,229.7 1320.6,236.4 1331.0,243.0 1341.4,251.6 1351.8,259.7 1362.2,267.0 1372.6,273.1 1383.1,278.9 1393.5,284.8 1403.9,290.9 1414.3,297.4 1424.7,304.0 1435.1,311.4 1445.5,318.9 1456.0,326.4 1466.4,333.8 1476.8,341.2 1487.2,348.5 1497.6,355.5 1508.0,362.4 1518.4,368.9 1528.9,375.3 1539.3,381.5 1549.7,387.5 1560.1,393.5 1570.5,399.5 1580.9,405.6 1591.3,411.7 1601.8,418.0 1612.2,424.5 1622.6,431.2 1633.0,437.9 1643.4,444.6 1653.8,451.5 1664.2,457.1 1674.7,462.8 1685.1,468.6 1695.5,474.6 1705.9,480.8 1716.3,487.2 1726.7,493.7 1737.1,500.4 1747.6,507.2 1758.0,514.2 1768.4,521.3 1778.8,528.5 1789.2,535.8 1799.6,543.2 1810.0,550.7 1820.5,558.2 1830.9,565.8 1841.3,573.4 1851.7,581.1 1862.1,588.8 1872.5,596.3 1882.9,603.7 1893.4,610.8 1903.8,617.6 1914.2,624.0 1924.6,630.0 1935.0,635.6 1945.4,640.7 1955.8,645.5 1966.3,649.9 1976.7,653.9 1987.1,657.5 1997.5,660.8 2007.9,663.6 2018.3,666.1 2028.7,668.3 2039.2,670.3"/>
<polyline stroke="#464646" stroke-dashoffset="3.2" points="1206.0,107.1 1216.4,131.7 1226.8,155.9 1237.3,175.7 1247.7,195.1 1258.1,208.1 1268.5,220.5 1278.9,230.8 1289.3,240.1 1299.7,250.5 1310.2,262.5 1320.6,274.2 1331.0,285.9 1341.4,297.1 1351.8,307.5 1362.2,317.0 1372.6,325.5 1383.1,333.7 1393.5,341.7 1403.9,349.9 1414.3,358.3 1424.7,366.8 1435.1,375.4 1445.5,384.1 1456.0,392.7 1466.4,401.2 1476.8,409.5 1487.2,417.6 1497.6,425.4 1508.0,432.9 1518.4,440.1 1528.9,447.1 1539.3,453.9 1549.7,460.5 1560.1,467.1 1570.5,473.6 1580.9,480.1 1591.3,486.7 1601.8,493.4 1612.2,500.2 1622.6,507.1 1633.0,514.2 1643.4,521.3 1653.8,528.4 1664.2,535.0 1674.7,541.7 1685.1,548.3 1695.5,555.0 1705.9,561.6 1716.3,568.2 1726.7,574.8 1737.1,581.5 1747.6,588.1 1758.0,594.7 1768.4,601.2 1778.8,607.7 1789.2,614.0 1799.6,620.2 1810.0,626.3 1820.5,632.1 1830.9,637.8 1841.3,643.1 1851.7,648.1 1862.1,652.8 1872.5,657.2 1882.9,661.3 1893.4,665.1 1903.8,668.6 1914.2,671.8 1924.6,674.7 1935.0,677.3 1945.4,679.6 1955.8,681.6 1966.3,683.3 1976.7,684.9 1987.1,686.2 1997.5,687.4 2007.9,688.4 2018.3,689.2 2028.7,690.0 2039.2,690.6"/>
<polyline stroke="#464646" stroke-dashoffset="3.6" points="1206.0,120.2 1216.4,154.3 1226.8,170.8 1237.3,193.1 1247.7,208.1 1258.1,220.9 1268.5,228.2 1278.9,237.0 1289.3,243.9 1299.7,251.1 1310.2,259.6 1320.6,268.5 1331.0,277.4 1341.4,285.8 1351.8,293.5 1362.2,300.3 1372.6,307.6 1383.1,314.7 1393.5,321.7 1403.9,329.0 1414.3,336.5 1424.7,344.2 1435.1,352.7 1445.5,361.3 1456.0,369.9 1466.4,378.5 1476.8,387.0 1487.2,395.4 1497.6,403.5 1508.0,411.4 1518.4,419.1 1528.9,426.5 1539.3,433.8 1549.7,441.0 1560.1,448.1 1570.5,455.2 1580.9,462.3 1591.3,469.5 1601.8,476.8 1612.2,484.2 1622.6,491.8 1633.0,499.4 1643.4,507.1 1653.8,514.8 1664.2,521.6 1674.7,528.5 1685.1,535.3 1695.5,542.2 1705.9,549.1 1716.3,556.1 1726.7,563.0 1737.1,570.0 1747.6,577.1 1758.0,584.2 1768.4,591.3 1778.8,598.4 1789.2,605.6 1799.6,612.7 1810.0,619.8 1820.5,626.9 1830.9,633.9 1841.3,640.8 1851.7,647.6 1862.1,654.4 1872.5,660.9 1882.9,667.4 1893.4,673.6 1903.8,679.7 1914.2,685.5 1924.6,691.1 1935.0,696.4 1945.4,701.5 1955.8,706.2 1966.3,710.5 1976.7,714.6 1987.1,718.3 1997.5,721.7 2007.9,724.8 2018.3,727.6 2028.7,730.1 2039.2,732.4"/>
<polyline stroke="#484848" stroke-dashoffset="12.5" points="1206.0,118.2 1216.4,149.4 1226.8,165.2 1237.3,187.4 1247.7,201.6 1258.1,208.1 1268.5,212.8 1278.9,219.6 1289.3,221.5 1299.7,225.6 1310.2,231.4 1320.6,237.6 1331.0,243.9 1341.4,250.1 1351.8,255.8 1362.2,260.9 1372.6,266.5 1383.1,272.0 1393.5,277.7 1403.9,283.8 1414.3,290.5 1424.7,297.5 1435.1,305.8 1445.5,314.3 1456.0,322.9 1466.4,331.5 1476.8,340.0 1487.2,348.5 1497.6,356.7 1508.0,364.7 1518.4,372.4 1528.9,379.9 1539.3,387.1 1549.7,394.1 1560.1,401.0 1570.5,407.7 1580.9,414.4 1591.3,421.1 1601.8,427.8 1612.2,434.6 1622.6,441.3 1633.0,448.0 1643.4,454.7 1653.8,461.2 1664.2,466.4 1674.7,471.6 1685.1,476.8 1695.5,482.0 1705.9,487.4 1716.3,492.8 1726.7,498.3 1737.1,503.9 1747.6,509.5 1758.0,515.3 1768.4,521.2 1778.8,527.2 1789.2,533.3 1799.6,539.5 1810.0,545.8 1820.5,552.2 1830.9,558.7 1841.3,565.3 1851.7,572.0 1862.1,578.7 1872.5,585.4 1882.9,591.9 1893.4,598.2 1903.8,604.3 1914.2,610.0 1924.6,615.3 1935.0,620.2 1945.4,624.8 1955.8,628.9 1966.3,632.7 1976.7,636.0 1987.1,639.0 1997.5,641.6 2007.9,643.8 2018.3,645.7 2028.7,647.3 2039.2,648.7"/>
<polyline stroke="#484848" stroke-dashoffset="10.1" points="1206.0,112.5 1216.4,151.3 1226.8,164.1 1237.3,187.3 1247.7,203.4 1258.1,216.7 1268.5,228.4 1278.9,238.6 1289.3,249.0 1299.7,258.0 1310.2,268.4 1320.6,278.9 1331.0,289.3 1341.4,299.0 1351.8,307.9 1362.2,315.8 1372.6,323.5 1383.1,330.9 1393.5,338.1 1403.9,345.5 1414.3,353.1 1424.7,360.9 1435.1,369.7 1445.5,378.5 1456.0,387.4 1466.4,396.2 1476.8,405.0 1487.2,413.6 1497.6,422.0 1508.0,430.1 1518.4,438.0 1528.9,445.6 1539.3,453.2 1549.7,460.5 1560.1,467.8 1570.5,475.1 1580.9,482.3 1591.3,489.6 1601.8,496.8 1612.2,504.1 1622.6,511.5 1633.0,518.9 1643.4,526.2 1653.8,533.5 1664.2,540.2 1674.7,546.8 1685.1,553.2 1695.5,559.5 1705.9,565.7 1716.3,571.6 1726.7,577.3 1737.1,582.9 1747.6,588.2 1758.0,593.3 1768.4,598.2 1778.8,602.8 1789.2,607.2 1799.6,611.2 1810.0,615.0 1820.5,618.4 1830.9,621.6 1841.3,624.4 1851.7,626.9 1862.1,629.2 1872.5,631.2 1882.9,633.0 1893.4,634.6 1903.8,636.0 1914.2,637.2 1924.6,638.3 1935.0,639.2 1945.4,640.0 1955.8,640.7 1966.3,641.3 1976.7,641.8 1987.1,642.2 1997.5,642.5 2007.9,642.8 2018.3,643.1 2028.7,643.3 2039.2,643.5"/>
<polyline stroke="#4c4c4c" points="1206.0,116.3 1216.4,144.1 1226.8,159.5 1237.3,171.0 1247.7,181.6 1258.1,192.8 1268.5,203.7 1278.9,214.0 1289.3,223.5 1299.7,231.9 1310.2,239.4 1320.6,246.5 1331.0,253.2 1341.4,259.6 1351.8,265.6 1362.2,271.3 1372.6,276.8 1383.1,282.0 1393.5,287.0 1403.9,291.8 1414.3,296.3 1424.7,300.5 1435.1,304.4 1445.5,308.2 1456.0,311.8 1466.4,315.4 1476.8,318.9 1487.2,322.6 1497.6,326.3 1508.0,330.3 1518.4,334.3 1528.9,338.4 1539.3,342.5 1549.7,346.6 1560.1,350.8 1570.5,355.1 1580.9,359.4 1591.3,363.9 1601.8,368.4 1612.2,373.0 1622.6,377.8 1633.0,382.6 1643.4,387.4 1653.8,392.4 1664.2,397.4 1674.7,402.7 1685.1,408.0 1695.5,413.6 1705.9,419.4 1716.3,425.5 1726.7,431.7 1737.1,438.3 1747.6,445.0 1758.0,452.1 1768.4,459.4 1778.8,467.0 1789.2,474.8 1799.6,483.0 1810.0,491.5 1820.5,500.3 1830.9,510.2 1841.3,521.4 1851.7,533.0 1862.1,544.1 1872.5,553.8 1882.9,562.9 1893.4,572.0 1903.8,580.3 1914.2,587.0 1924.6,591.3 1935.0,593.8 1945.4,595.8 1955.8,597.4 1966.3,598.7 1976.7,599.8 1987.1,600.8 1997.5,601.7 2007.9,602.6 2018.3,603.3 2028.7,603.8 2039.2,604.1"/>
<polyline stroke="#4d4d4d" stroke-dashoffset="1.6" points="1206.0,107.7 1216.4,137.6 1226.8,158.9 1237.3,179.3 1247.7,194.2 1258.1,202.5 1268.5,209.1 1278.9,215.4 1289.3,219.4 1299.7,225.3 1310.2,232.7 1320.6,240.3 1331.0,248.0 1341.4,255.3 1351.8,262.0 1362.2,268.0 1372.6,273.6 1383.1,278.9 1393.5,284.2 1403.9,289.8 1414.3,295.7 1424.7,301.8 1435.1,309.1 1445.5,316.5 1456.0,324.1 1466.4,331.7 1476.8,339.3 1487.2,346.8 1497.6,354.2 1508.0,361.5 1518.4,368.6 1528.9,375.5 1539.3,382.2 1549.7,389.0 1560.1,395.7 1570.5,402.4 1580.9,409.3 1591.3,416.2 1601.8,423.3 1612.2,430.6 1622.6,438.0 1633.0,445.5 1643.4,453.1 1653.8,460.7 1664.2,467.0 1674.7,473.4 1685.1,479.8 1695.5,486.4 1705.9,493.0 1716.3,499.8 1726.7,506.7 1737.1,513.7 1747.6,520.7 1758.0,527.9 1768.4,535.1 1778.8,542.4 1789.2,549.7 1799.6,557.1 1810.0,564.5 1820.5,572.0 1830.9,579.6 1841.3,587.2 1851.7,595.0 1862.1,602.8 1872.5,610.5 1882.9,618.3 1893.4,625.9 1903.8,633.4 1914.2,640.7 1924.6,647.7 1935.0,654.6 1945.4,661.2 1955.8,667.7 1966.3,673.9 1976.7,679.9 1987.1,685.6 1997.5,691.1 2007.9,696.2 2018.3,701.0 2028.7,705.5 2039.2,709.6"/>
<polyline stroke="#515151" stroke-dashoffset="7.2" points="1206.0,105.1 1216.4,135.3 1226.8,157.4 1237.3,175.3 1247.7,194.4 1258.1,209.2 1268.5,216.3 1278.9,226.2 1289.3,234.6 1299.7,243.9 1310.2,253.8 1320.6,263.6 1331.0,273.3 1341.4,282.4 1351.8,290.8 1362.2,298.2 1372.6,305.0 1383.1,311.4 1393.5,317.7 1403.9,324.3 1414.3,331.3 1424.7,338.4 1435.1,346.9 1445.5,355.6 1456.0,364.5 1466.4,373.3 1476.8,382.2 1487.2,391.1 1497.6,399.8 1508.0,408.4 1518.4,416.7 1528.9,424.9 1539.3,433.0 1549.7,441.1 1560.1,449.0 1570.5,457.0 1580.9,465.0 1591.3,473.0 1601.8,481.1 1612.2,489.3 1622.6,497.5 1633.0,505.7 1643.4,513.9 1653.8,522.0 1664.2,529.1 1674.7,536.1 1685.1,543.0 1695.5,549.8 1705.9,556.5 1716.3,563.1 1726.7,569.6 1737.1,576.0 1747.6,582.3 1758.0,588.6 1768.4,594.7 1778.8,600.7 1789.2,606.7 1799.6,612.6 1810.0,618.4 1820.5,624.1 1830.9,629.6 1841.3,635.1 1851.7,640.5 1862.1,645.8 1872.5,650.9 1882.9,655.9 1893.4,660.8 1903.8,665.5 1914.2,670.1 1924.6,674.5 1935.0,678.7 1945.4,682.7 1955.8,686.4 1966.3,689.9 1976.7,693.1 1987.1,696.0 1997.5,698.7 2007.9,701.2 2018.3,703.3 2028.7,705.3 2039.2,707.0"/>
<polyline stroke="#525252" stroke-dashoffset="13.9" points="1206.0,104.5 1216.4,135.3 1226.8,156.0 1237.3,183.1 1247.7,194.5 1258.1,205.0 1268.5,216.5 1278.9,225.5 1289.3,234.6 1299.7,242.5 1310.2,252.1 1320.6,262.1 1331.0,271.9 1341.4,281.3 1351.8,290.0 1362.2,297.8 1372.6,305.0 1383.1,311.8 1393.5,318.6 1403.9,325.5 1414.3,332.8 1424.7,340.2 1435.1,348.4 1445.5,356.7 1456.0,365.0 1466.4,373.4 1476.8,381.7 1487.2,389.9 1497.6,398.0 1508.0,405.8 1518.4,413.4 1528.9,420.8 1539.3,428.1 1549.7,435.3 1560.1,442.5 1570.5,449.6 1580.9,456.8 1591.3,464.1 1601.8,471.5 1612.2,479.0 1622.6,486.7 1633.0,494.4 1643.4,502.1 1653.8,509.9 1664.2,516.6 1674.7,523.4 1685.1,530.2 1695.5,536.9 1705.9,543.7 1716.3,550.5 1726.7,557.2 1737.1,564.1 1747.6,570.9 1758.0,577.8 1768.4,584.6 1778.8,591.5 1789.2,598.4 1799.6,605.3 1810.0,612.1 1820.5,618.9 1830.9,625.7 1841.3,632.5 1851.7,639.2 1862.1,645.8 1872.5,652.4 1882.9,658.9 1893.4,665.2 1903.8,671.4 1914.2,677.5 1924.6,683.4 1935.0,689.0 1945.4,694.5 1955.8,699.6 1966.3,704.5 1976.7,709.1 1987.1,713.4 1997.5,717.5 2007.9,721.2 2018.3,724.6 2028.7,727.7 2039.2,730.5"/>
<polyline stroke="#535353" stroke-dashoffset="0.1" points="1206.0,102.2 1216.4,129.4 1226.8,158.1 1237.3,178.2 1247.7,197.5 1258.1,209.7 1268.5,221.4 1278.9,233.2 1289.3,245.1 1299.7,256.6 1310.2,268.1 1320.6,280.4 1331.0,292.5 1341.4,304.1 1351.8,314.9 1362.2,324.8 1372.6,333.7 1383.1,342.2 1393.5,350.5 1403.9,358.9 1414.3,367.4 1424.7,376.0 1435.1,384.5 1445.5,393.1 1456.0,401.5 1466.4,409.9 1476.8,418.1 1487.2,426.0 1497.6,433.8 1508.0,441.2 1518.4,448.3 1528.9,455.3 1539.3,462.2 1549.7,469.0 1560.1,475.7 1570.5,482.5 1580.9,489.3 1591.3,496.2 1601.8,503.2 1612.2,510.4 1622.6,517.7 1633.0,525.1 1643.4,532.5 1653.8,539.9 1664.2,546.9 1674.7,553.9 1685.1,560.7 1695.5,567.5 1705.9,574.0 1716.3,580.4 1726.7,586.6 1737.1,592.6 1747.6,598.4 1758.0,604.1 1768.4,609.5 1778.8,614.7 1789.2,619.6 1799.6,624.3 1810.0,628.8 1820.5,633.0 1830.9,636.9 1841.3,640.6 1851.7,644.0 1862.1,647.1 1872.5,650.1 1882.9,652.8 1893.4,655.3 1903.8,657.6 1914.2,659.7 1924.6,661.7 1935.0,663.5 1945.4,665.1 1955.8,666.5 1966.3,667.7 1976.7,668.8 1987.1,669.7 1997.5,670.5 2007.9,671.2 2018.3,671.8 2028.7,672.3 2039.2,672.8"/>
<polyline stroke="#555555" stroke-dashoffset="1.0" points="1206.0,107.6 1216.4,141.5 1226.8,158.0 1237.3,179.3 1247.7,202.2 1258.1,216.9 1268.5,231.4 1278.9,241.9 1289.3,253.8 1299.7,266.7 1310.2,278.0 1320.6,289.9 1331.0,301.4 1341.4,312.3 1351.8,322.1 1362.2,330.9 1372.6,339.0 1383.1,346.7 1393.5,354.4 1403.9,362.3 1414.3,370.6 1424.7,379.2 1435.1,388.7 1445.5,398.4 1456.0,408.3 1466.4,418.2 1476.8,428.1 1487.2,437.9 1497.6,447.6 1508.0,456.9 1518.4,466.0 1528.9,474.9 1539.3,483.5 1549.7,492.0 1560.1,500.2 1570.5,508.2 1580.9,516.0 1591.3,523.7 1601.8,531.1 1612.2,538.4 1622.6,545.5 1633.0,552.3 1643.4,559.0 1653.8,565.3 1664.2,571.4 1674.7,577.1 1685.1,582.5 1695.5,587.7 1705.9,592.5 1716.3,597.1 1726.7,601.4 1737.1,605.6 1747.6,609.6 1758.0,613.5 1768.4,617.3 1778.8,621.0 1789.2,624.6 1799.6,628.1 1810.0,631.6 1820.5,635.0 1830.9,638.2 1841.3,641.3 1851.7,644.3 1862.1,647.1 1872.5,649.8 1882.9,652.3 1893.4,654.6 1903.8,656.8 1914.2,658.8 1924.6,660.6 1935.0,662.2 1945.4,663.6 1955.8,664.8 1966.3,665.8 1976.7,666.6 1987.1,667.3 1997.5,667.9 2007.9,668.4 2018.3,668.8 2028.7,669.1 2039.2,669.4"/>
<polyline stroke="#5a5a5a" stroke-dashoffset="13.8" points="1206.0,104.4 1216.4,127.9 1226.8,152.2 1237.3,177.1 1247.7,192.5 1258.1,210.2 1268.5,221.8 1278.9,233.2 1289.3,244.5 1299.7,256.5 1310.2,268.1 1320.6,280.4 1331.0,292.4 1341.4,304.0 1351.8,314.8 1362.2,324.7 1372.6,333.5 1383.1,342.0 1393.5,350.4 1403.9,359.1 1414.3,368.1 1424.7,377.3 1435.1,387.0 1445.5,396.6 1456.0,406.2 1466.4,415.7 1476.8,425.0 1487.2,434.1 1497.6,442.8 1508.0,451.2 1518.4,459.1 1528.9,466.8 1539.3,474.3 1549.7,481.5 1560.1,488.5 1570.5,495.4 1580.9,502.2 1591.3,508.9 1601.8,515.6 1612.2,522.3 1622.6,529.1 1633.0,535.8 1643.4,542.6 1653.8,549.3 1664.2,555.7 1674.7,562.2 1685.1,568.5 1695.5,574.9 1705.9,581.2 1716.3,587.4 1726.7,593.7 1737.1,600.0 1747.6,606.4 1758.0,612.9 1768.4,619.4 1778.8,625.9 1789.2,632.5 1799.6,639.2 1810.0,645.9 1820.5,652.6 1830.9,659.3 1841.3,665.8 1851.7,672.3 1862.1,678.6 1872.5,684.9 1882.9,690.9 1893.4,696.9 1903.8,702.6 1914.2,708.1 1924.6,713.4 1935.0,718.3 1945.4,722.8 1955.8,726.9 1966.3,730.7 1976.7,734.0 1987.1,736.9 1997.5,739.4 2007.9,741.7 2018.3,743.6 2028.7,745.3 2039.2,746.7"/>
<polyline stroke="#5b5b5b" stroke-dashoffset="12.2" points="1206.0,99.7 1216.4,128.5 1226.8,147.4 1237.3,169.3 1247.7,187.8 1258.1,197.7 1268.5,207.7 1278.9,214.2 1289.3,221.6 1299.7,230.9 1310.2,240.0 1320.6,249.4 1331.0,258.8 1341.4,267.8 1351.8,276.0 1362.2,283.5 1372.6,289.7 1383.1,295.7 1393.5,301.7 1403.9,308.0 1414.3,314.6 1424.7,321.4 1435.1,329.4 1445.5,337.5 1456.0,345.7 1466.4,354.0 1476.8,362.2 1487.2,370.4 1497.6,378.4 1508.0,386.3 1518.4,393.9 1528.9,401.3 1539.3,408.6 1549.7,415.8 1560.1,422.9 1570.5,430.0 1580.9,437.0 1591.3,444.1 1601.8,451.3 1612.2,458.6 1622.6,466.0 1633.0,473.3 1643.4,480.6 1653.8,487.9 1664.2,493.9 1674.7,499.9 1685.1,505.9 1695.5,511.9 1705.9,517.9 1716.3,524.0 1726.7,530.0 1737.1,536.2 1747.6,542.4 1758.0,548.6 1768.4,555.0 1778.8,561.4 1789.2,567.8 1799.6,574.3 1810.0,580.9 1820.5,587.6 1830.9,594.3 1841.3,601.2 1851.7,608.1 1862.1,615.0 1872.5,621.9 1882.9,628.8 1893.4,635.5 1903.8,642.2 1914.2,648.6 1924.6,654.8 1935.0,660.7 1945.4,666.4 1955.8,671.7 1966.3,676.6 1976.7,681.1 1987.1,685.2 1997.5,688.9 2007.9,692.2 2018.3,695.1 2028.7,697.6 2039.2,699.7"/>
<polyline stroke="#5b5b5b" stroke-dashoffset="10.3" points="1206.0,106.1 1216.4,138.0 1226.8,161.2 1237.3,181.9 1247.7,198.1 1258.1,206.8 1268.5,214.4 1278.9,220.3 1289.3,225.7 1299.7,233.6 1310.2,241.0 1320.6,249.3 1331.0,257.7 1341.4,265.7 1351.8,273.2 1362.2,279.9 1372.6,286.4 1383.1,292.7 1393.5,299.1 1403.9,305.8 1414.3,312.9 1424.7,320.3 1435.1,328.9 1445.5,337.6 1456.0,346.4 1466.4,355.1 1476.8,363.8 1487.2,372.4 1497.6,380.8 1508.0,388.9 1518.4,396.7 1528.9,404.4 1539.3,411.8 1549.7,419.1 1560.1,426.3 1570.5,433.4 1580.9,440.6 1591.3,447.7 1601.8,455.0 1612.2,462.3 1622.6,469.7 1633.0,477.1 1643.4,484.5 1653.8,491.9 1664.2,498.0 1674.7,504.1 1685.1,510.3 1695.5,516.4 1705.9,522.6 1716.3,528.9 1726.7,535.2 1737.1,541.5 1747.6,548.0 1758.0,554.5 1768.4,561.1 1778.8,567.8 1789.2,574.5 1799.6,581.3 1810.0,588.2 1820.5,595.2 1830.9,602.2 1841.3,609.4 1851.7,616.6 1862.1,623.9 1872.5,631.2 1882.9,638.5 1893.4,645.8 1903.8,653.0 1914.2,660.1 1924.6,667.1 1935.0,673.9 1945.4,680.5 1955.8,686.9 1966.3,693.0 1976.7,698.9 1987.1,704.5 1997.5,709.7 2007.9,714.5 2018.3,719.0 2028.7,723.1 2039.2,726.8"/>
<polyline stroke="#5e5e5e" stroke-dashoffset="3.2" points="1206.0,115.5 1216.4,143.7 1226.8,167.5 1237.3,186.8 1247.7,208.7 1258.1,214.4 1268.5,221.1 1278.9,227.9 1289.3,233.7 1299.7,239.7 1310.2,247.6 1320.6,255.5 1331.0,263.5 1341.4,271.2 1351.8,278.2 1362.2,284.4 1372.6,291.1 1383.1,297.6 1393.5,304.2 1403.9,311.0 1414.3,318.2 1424.7,325.5 1435.1,333.9 1445.5,342.4 1456.0,351.0 1466.4,359.5 1476.8,368.0 1487.2,376.4 1497.6,384.6 1508.0,392.5 1518.4,400.2 1528.9,407.7 1539.3,415.0 1549.7,422.2 1560.1,429.3 1570.5,436.4 1580.9,443.5 1591.3,450.6 1601.8,457.8 1612.2,465.2 1622.6,472.6 1633.0,480.1 1643.4,487.6 1653.8,495.1 1664.2,501.3 1674.7,507.5 1685.1,513.8 1695.5,520.1 1705.9,526.4 1716.3,532.7 1726.7,539.1 1737.1,545.5 1747.6,551.9 1758.0,558.4 1768.4,564.9 1778.8,571.4 1789.2,577.9 1799.6,584.4 1810.0,590.8 1820.5,597.2 1830.9,603.6 1841.3,609.9 1851.7,616.2 1862.1,622.3 1872.5,628.2 1882.9,634.0 1893.4,639.6 1903.8,644.9 1914.2,649.9 1924.6,654.6 1935.0,658.9 1945.4,663.0 1955.8,666.7 1966.3,670.0 1976.7,673.1 1987.1,675.8 1997.5,678.3 2007.9,680.5 2018.3,682.4 2028.7,684.0 2039.2,685.5"/>
<polyline stroke="#636363" stroke-dashoffset="7.5" points="1206.0,97.5 1216.4,134.3 1226.8,154.8 1237.3,170.2 1247.7,188.7 1258.1,201.8 1268.5,211.4 1278.9,222.5 1289.3,229.8 1299.7,239.2 1310.2,249.4 1320.6,259.8 1331.0,270.1 1341.4,279.9 1351.8,289.0 1362.2,297.1 1372.6,304.0 1383.1,310.6 1393.5,317.1 1403.9,323.8 1414.3,330.9 1424.7,338.1 1435.1,346.5 1445.5,355.1 1456.0,363.7 1466.4,372.4 1476.8,381.0 1487.2,389.6 1497.6,398.0 1508.0,406.2 1518.4,414.1 1528.9,421.9 1539.3,429.6 1549.7,437.2 1560.1,444.7 1570.5,452.3 1580.9,459.8 1591.3,467.4 1601.8,475.1 1612.2,482.9 1622.6,490.7 1633.0,498.6 1643.4,506.5 1653.8,514.4 1664.2,521.2 1674.7,528.1 1685.1,534.8 1695.5,541.5 1705.9,548.2 1716.3,554.8 1726.7,561.3 1737.1,567.8 1747.6,574.2 1758.0,580.6 1768.4,586.9 1778.8,593.1 1789.2,599.2 1799.6,605.2 1810.0,611.0 1820.5,616.7 1830.9,622.3 1841.3,627.7 1851.7,632.8 1862.1,637.8 1872.5,642.6 1882.9,647.1 1893.4,651.4 1903.8,655.4 1914.2,659.2 1924.6,662.7 1935.0,665.9 1945.4,668.8 1955.8,671.5 1966.3,673.9 1976.7,676.0 1987.1,677.9 1997.5,679.6 2007.9,681.1 2018.3,682.4 2028.7,683.6 2039.2,684.6"/>
<polyline stroke="#666666" points="1206.0,109.9 1216.4,142.0 1226.8,165.6 1237.3,185.3 1247.7,200.8 1258.1,212.9 1268.5,223.0 1278.9,231.8 1289.3,240.3 1299.7,249.0 1310.2,258.0 1320.6,267.0 1331.0,275.8 1341.4,284.6 1351.8,293.2 1362.2,301.7 1372.6,310.1 1383.1,318.3 1393.5,326.5 1403.9,334.5 1414.3,342.4 1424.7,350.2 1435.1,357.7 1445.5,365.2 1456.0,372.6 1466.4,379.9 1476.8,387.3 1487.2,394.6 1497.6,402.0 1508.0,409.4 1518.4,416.9 1528.9,424.4 1539.3,431.9 1549.7,439.4 1560.1,446.9 1570.5,454.3 1580.9,461.8 1591.3,469.3 1601.8,476.8 1612.2,484.3 1622.6,491.8 1633.0,499.4 1643.4,507.1 1653.8,514.8 1664.2,522.4 1674.7,530.0 1685.1,537.5 1695.5,544.9 1705.9,552.1 1716.3,559.2 1726.7,566.0 1737.1,572.6 1747.6,579.1 1758.0,585.5 1768.4,591.9 1778.8,598.1 1789.2,604.4 1799.6,610.7 1810.0,617.0 1820.5,623.3 1830.9,629.7 1841.3,636.1 1851.7,642.4 1862.1,648.7 1872.5,655.0 1882.9,661.3 1893.4,667.7 1903.8,674.2 1914.2,680.8 1924.6,687.5 1935.0,694.0 1945.4,700.3 1955.8,706.7 1966.3,713.5 1976.7,721.3 1987.1,730.3 1997.5,741.7 2007.9,757.0 2018.3,780.8 2028.7,808.1 2039.2,837.3"/>
<polyline stroke="#666666" stroke-dashoffset="8.3" points="1206.0,97.0 1216.4,129.0 1226.8,144.1 1237.3,168.4 1247.7,184.1 1258.1,195.3 1268.5,203.6 1278.9,212.2 1289.3,221.0 1299.7,229.4 1310.2,237.6 1320.6,245.5 1331.0,251.4 1341.4,257.9 1351.8,265.9 1362.2,273.2 1372.6,279.1 1383.1,284.7 1393.5,290.2 1403.9,295.9 1414.3,301.7 1424.7,307.6 1435.1,314.3 1445.5,321.0 1456.0,327.8 1466.4,334.6 1476.8,341.4 1487.2,348.1 1497.6,354.7 1508.0,361.2 1518.4,367.4 1528.9,373.5 1539.3,379.5 1549.7,385.5 1560.1,391.5 1570.5,397.5 1580.9,403.7 1591.3,410.1 1601.8,416.7 1612.2,423.5 1622.6,430.6 1633.0,437.8 1643.4,445.1 1653.8,452.5 1664.2,458.7 1674.7,465.0 1685.1,471.5 1695.5,478.1 1705.9,484.9 1716.3,491.8 1726.7,498.9 1737.1,506.1 1747.6,513.4 1758.0,520.7 1768.4,528.1 1778.8,535.6 1789.2,543.0 1799.6,550.4 1810.0,557.8 1820.5,565.0 1830.9,572.2 1841.3,579.3 1851.7,586.2 1862.1,592.8 1872.5,599.2 1882.9,605.2 1893.4,610.8 1903.8,616.0 1914.2,620.7 1924.6,624.9 1935.0,628.7 1945.4,632.1 1955.8,635.2 1966.3,637.8 1976.7,640.2 1987.1,642.2 1997.5,644.0 2007.9,645.6 2018.3,647.0 2028.7,648.1 2039.2,649.1"/>
<polyline stroke="#6a6a6a" stroke-dashoffset="0.2" points="1206.0,100.7 1216.4,132.6 1226.8,151.8 1237.3,173.2 1247.7,181.8 1258.1,192.2 1268.5,201.2 1278.9,210.4 1289.3,218.8 1299.7,226.9 1310.2,234.6 1320.6,242.0 1331.0,248.0 1341.4,253.7 1351.8,259.1 1362.2,264.3 1372.6,269.3 1383.1,274.2 1393.5,279.0 1403.9,283.7 1414.3,288.2 1424.7,292.5 1435.1,296.6 1445.5,300.7 1456.0,304.6 1466.4,310.3 1476.8,316.2 1487.2,321.9 1497.6,327.4 1508.0,332.8 1518.4,337.8 1528.9,342.6 1539.3,347.1 1549.7,351.6 1560.1,356.0 1570.5,360.4 1580.9,364.8 1591.3,369.4 1601.8,374.2 1612.2,379.2 1622.6,384.3 1633.0,389.5 1643.4,394.7 1653.8,400.0 1664.2,404.9 1674.7,409.8 1685.1,415.0 1695.5,420.5 1705.9,426.2 1716.3,432.2 1726.7,438.5 1737.1,445.1 1747.6,451.8 1758.0,458.8 1768.4,465.9 1778.8,473.3 1789.2,480.8 1799.6,488.5 1810.0,496.4 1820.5,504.4 1830.9,512.7 1841.3,521.3 1851.7,530.2 1862.1,539.2 1872.5,548.4 1882.9,557.5 1893.4,566.6 1903.8,576.4 1914.2,586.0 1924.6,595.2 1935.0,604.1 1945.4,612.7 1955.8,620.9 1966.3,628.5 1976.7,635.4 1987.1,641.9 1997.5,647.8 2007.9,653.2 2018.3,658.1 2028.7,662.6 2039.2,666.6"/>
<polyline stroke="#6f6f6f" stroke-dashoffset="2.2" points="1206.0,101.2 1216.4,134.5 1226.8,153.8 1237.3,170.4 1247.7,193.2 1258.1,211.3 1268.5,219.0 1278.9,229.2 1289.3,240.7 1299.7,251.0 1310.2,262.3 1320.6,273.9 1331.0,285.5 1341.4,296.7 1351.8,307.1 1362.2,316.7 1372.6,325.4 1383.1,333.7 1393.5,342.1 1403.9,350.7 1414.3,359.6 1424.7,368.7 1435.1,378.2 1445.5,387.6 1456.0,397.0 1466.4,406.2 1476.8,415.1 1487.2,423.9 1497.6,432.2 1508.0,440.2 1518.4,447.8 1528.9,455.0 1539.3,462.0 1549.7,468.8 1560.1,475.4 1570.5,481.9 1580.9,488.3 1591.3,494.7 1601.8,501.1 1612.2,507.6 1622.6,514.2 1633.0,520.8 1643.4,527.4 1653.8,534.1 1664.2,540.3 1674.7,546.6 1685.1,552.8 1695.5,559.1 1705.9,565.5 1716.3,571.8 1726.7,578.2 1737.1,584.7 1747.6,591.2 1758.0,597.8 1768.4,604.4 1778.8,611.0 1789.2,617.6 1799.6,624.1 1810.0,630.5 1820.5,636.8 1830.9,642.8 1841.3,648.7 1851.7,654.2 1862.1,659.4 1872.5,664.4 1882.9,669.0 1893.4,673.2 1903.8,677.2 1914.2,680.7 1924.6,684.0 1935.0,686.9 1945.4,689.4 1955.8,691.7 1966.3,693.6 1976.7,695.3 1987.1,696.8 1997.5,698.0 2007.9,699.1 2018.3,700.0 2028.7,700.8 2039.2,701.5"/>
<polyline stroke="#707070" stroke-dashoffset="5.7" points="1206.0,112.2 1216.4,141.0 1226.8,164.8 1237.3,188.8 1247.7,203.7 1258.1,219.7 1268.5,229.0 1278.9,240.2 1289.3,250.3 1299.7,261.1 1310.2,271.9 1320.6,283.1 1331.0,294.1 1341.4,304.5 1351.8,314.0 1362.2,322.5 1372.6,330.9 1383.1,338.9 1393.5,346.7 1403.9,354.6 1414.3,362.7 1424.7,370.9 1435.1,379.5 1445.5,388.1 1456.0,396.7 1466.4,405.3 1476.8,413.7 1487.2,422.0 1497.6,430.1 1508.0,437.8 1518.4,445.3 1528.9,452.6 1539.3,459.7 1549.7,466.7 1560.1,473.7 1570.5,480.6 1580.9,487.5 1591.3,494.5 1601.8,501.6 1612.2,508.8 1622.6,516.1 1633.0,523.4 1643.4,530.9 1653.8,538.4 1664.2,545.5 1674.7,552.5 1685.1,559.6 1695.5,566.7 1705.9,573.8 1716.3,580.8 1726.7,587.9 1737.1,594.9 1747.6,602.0 1758.0,609.2 1768.4,616.3 1778.8,623.4 1789.2,630.6 1799.6,637.7 1810.0,644.7 1820.5,651.8 1830.9,658.7 1841.3,665.5 1851.7,672.1 1862.1,678.6 1872.5,684.9 1882.9,691.0 1893.4,697.0 1903.8,702.8 1914.2,708.4 1924.6,713.8 1935.0,718.9 1945.4,723.7 1955.8,728.1 1966.3,732.1 1976.7,735.9 1987.1,739.2 1997.5,742.3 2007.9,745.0 2018.3,747.5 2028.7,749.7 2039.2,751.6"/>
<polyline stroke="#737373" points="1206.0,108.9 1216.4,136.7 1226.8,154.8 1237.3,169.2 1247.7,181.6 1258.1,193.1 1268.5,203.6 1278.9,213.3 1289.3,221.9 1299.7,229.6 1310.2,236.6 1320.6,243.0 1331.0,249.1 1341.4,254.9 1351.8,260.3 1362.2,265.4 1372.6,270.3 1383.1,275.1 1393.5,279.7 1403.9,284.3 1414.3,288.6 1424.7,292.8 1435.1,296.7 1445.5,300.4 1456.0,304.1 1466.4,307.7 1476.8,311.3 1487.2,315.0 1497.6,318.8 1508.0,322.8 1518.4,326.8 1528.9,330.9 1539.3,335.0 1549.7,339.1 1560.1,343.3 1570.5,347.6 1580.9,351.9 1591.3,356.4 1601.8,360.9 1612.2,365.6 1622.6,370.3 1633.0,375.1 1643.4,379.9 1653.8,384.9 1664.2,389.9 1674.7,395.2 1685.1,400.6 1695.5,406.1 1705.9,411.9 1716.3,418.0 1726.7,424.3 1737.1,430.8 1747.6,437.5 1758.0,444.6 1768.4,451.9 1778.8,459.5 1789.2,467.3 1799.6,475.5 1810.0,484.0 1820.5,492.8 1830.9,502.7 1841.3,513.7 1851.7,525.1 1862.1,536.2 1872.5,546.3 1882.9,556.0 1893.4,565.7 1903.8,574.8 1914.2,582.3 1924.6,587.5 1935.0,591.0 1945.4,594.0 1955.8,596.5 1966.3,598.4 1976.7,599.8 1987.1,600.9 1997.5,601.9 2007.9,602.8 2018.3,603.5 2028.7,603.9 2039.2,604.1"/>
<polyline stroke="#747474" stroke-dashoffset="13.9" points="1206.0,115.9 1216.4,148.8 1226.8,170.6 1237.3,188.6 1247.7,201.3 1258.1,211.0 1268.5,217.4 1278.9,223.0 1289.3,227.3 1299.7,233.3 1310.2,240.1 1320.6,247.4 1331.0,254.7 1341.4,261.5 1351.8,267.5 1362.2,272.6 1372.6,277.8 1383.1,282.7 1393.5,287.4 1403.9,292.2 1414.3,297.2 1424.7,302.3 1435.1,308.6 1445.5,315.0 1456.0,321.6 1466.4,328.3 1476.8,335.0 1487.2,341.8 1497.6,348.4 1508.0,354.9 1518.4,361.3 1528.9,367.7 1539.3,373.9 1549.7,380.2 1560.1,386.6 1570.5,393.0 1580.9,399.6 1591.3,406.4 1601.8,413.5 1612.2,420.8 1622.6,428.4 1633.0,436.1 1643.4,443.9 1653.8,451.9 1664.2,458.6 1674.7,465.4 1685.1,472.4 1695.5,479.6 1705.9,486.8 1716.3,494.3 1726.7,501.9 1737.1,509.6 1747.6,517.4 1758.0,525.3 1768.4,533.2 1778.8,541.2 1789.2,549.1 1799.6,557.1 1810.0,564.9 1820.5,572.7 1830.9,580.4 1841.3,588.1 1851.7,595.5 1862.1,602.8 1872.5,609.8 1882.9,616.4 1893.4,622.6 1903.8,628.3 1914.2,633.6 1924.6,638.3 1935.0,642.6 1945.4,646.5 1955.8,649.9 1966.3,653.0 1976.7,655.7 1987.1,658.0 1997.5,660.1 2007.9,661.9 2018.3,663.4 2028.7,664.8 2039.2,665.9"/>
<polyline stroke="#747474" stroke-dashoffset="1.1" points="1206.0,100.2 1216.4,128.6 1226.8,153.7 1237.3,169.9 1247.7,187.5 1258.1,200.2 1268.5,204.4 1278.9,214.6 1289.3,218.9 1299.7,227.7 1310.2,236.4 1320.6,245.5 1331.0,254.7 1341.4,263.6 1351.8,272.0 1362.2,279.6 1372.6,286.1 1383.1,292.5 1393.5,298.9 1403.9,305.7 1414.3,312.7 1424.7,320.0 1435.1,328.4 1445.5,336.9 1456.0,345.5 1466.4,354.0 1476.8,362.4 1487.2,370.7 1497.6,378.7 1508.0,386.6 1518.4,394.2 1528.9,401.5 1539.3,408.7 1549.7,415.8 1560.1,422.8 1570.5,429.7 1580.9,436.7 1591.3,443.7 1601.8,450.9 1612.2,458.2 1622.6,465.6 1633.0,473.1 1643.4,480.6 1653.8,488.2 1664.2,494.5 1674.7,500.8 1685.1,507.2 1695.5,513.7 1705.9,520.2 1716.3,526.8 1726.7,533.5 1737.1,540.3 1747.6,547.1 1758.0,554.0 1768.4,560.9 1778.8,567.9 1789.2,574.8 1799.6,581.8 1810.0,588.7 1820.5,595.6 1830.9,602.4 1841.3,609.2 1851.7,615.9 1862.1,622.4 1872.5,628.8 1882.9,634.9 1893.4,640.8 1903.8,646.4 1914.2,651.6 1924.6,656.5 1935.0,661.0 1945.4,665.2 1955.8,669.1 1966.3,672.6 1976.7,675.8 1987.1,678.7 1997.5,681.3 2007.9,683.6 2018.3,685.6 2028.7,687.4 2039.2,689.0"/>
<polyline stroke="#818181" stroke-dashoffset="5.4" points="1206.0,106.9 1216.4,130.2 1226.8,156.7 1237.3,173.4 1247.7,191.5 1258.1,202.0 1268.5,209.6 1278.9,216.7 1289.3,221.2 1299.7,228.2 1310.2,235.8 1320.6,243.9 1331.0,252.1 1341.4,260.0 1351.8,267.4 1362.2,274.2 1372.6,280.4 1383.1,286.6 1393.5,293.0 1403.9,299.8 1414.3,307.1 1424.7,314.9 1435.1,324.1 1445.5,333.4 1456.0,342.9 1466.4,352.3 1476.8,361.7 1487.2,370.9 1497.6,379.9 1508.0,388.7 1518.4,397.1 1528.9,405.2 1539.3,413.0 1549.7,420.6 1560.1,428.0 1570.5,435.3 1580.9,442.4 1591.3,449.4 1601.8,456.4 1612.2,463.5 1622.6,470.4 1633.0,477.3 1643.4,484.0 1653.8,490.6 1664.2,495.9 1674.7,501.1 1685.1,506.2 1695.5,511.3 1705.9,516.5 1716.3,521.6 1726.7,526.8 1737.1,532.0 1747.6,537.3 1758.0,542.7 1768.4,548.1 1778.8,553.6 1789.2,559.2 1799.6,564.9 1810.0,570.6 1820.5,576.4 1830.9,582.2 1841.3,588.1 1851.7,594.0 1862.1,599.8 1872.5,605.5 1882.9,611.1 1893.4,616.4 1903.8,621.5 1914.2,626.2 1924.6,630.6 1935.0,634.6 1945.4,638.3 1955.8,641.6 1966.3,644.5 1976.7,647.0 1987.1,649.2 1997.5,651.1 2007.9,652.8 2018.3,654.2 2028.7,655.3 2039.2,656.3"/>
<polyline stroke="#828282" stroke-dashoffset="5.6" points="1206.0,101.4 1216.4,134.3 1226.8,151.0 1237.3,176.5 1247.7,198.8 1258.1,211.6 1268.5,223.7 1278.9,235.1 1289.3,246.7 1299.7,258.1 1310.2,270.5 1320.6,282.6 1331.0,294.4 1341.4,305.5 1351.8,315.7 1362.2,324.9 1372.6,333.0 1383.1,340.7 1393.5,348.2 1403.9,355.8 1414.3,363.7 1424.7,371.7 1435.1,380.4 1445.5,389.2 1456.0,398.1 1466.4,406.8 1476.8,415.5 1487.2,424.1 1497.6,432.4 1508.0,440.4 1518.4,448.1 1528.9,455.7 1539.3,463.1 1549.7,470.5 1560.1,477.7 1570.5,484.9 1580.9,492.1 1591.3,499.4 1601.8,506.7 1612.2,514.1 1622.6,521.7 1633.0,529.2 1643.4,536.9 1653.8,544.6 1664.2,552.0 1674.7,559.4 1685.1,566.8 1695.5,574.2 1705.9,581.5 1716.3,588.7 1726.7,595.9 1737.1,603.1 1747.6,610.3 1758.0,617.4 1768.4,624.6 1778.8,631.6 1789.2,638.7 1799.6,645.6 1810.0,652.4 1820.5,659.1 1830.9,665.7 1841.3,671.9 1851.7,678.0 1862.1,683.7 1872.5,689.3 1882.9,694.6 1893.4,699.6 1903.8,704.4 1914.2,708.8 1924.6,713.0 1935.0,716.9 1945.4,720.4 1955.8,723.5 1966.3,726.3 1976.7,728.8 1987.1,731.0 1997.5,732.9 2007.9,734.6 2018.3,736.1 2028.7,737.3 2039.2,738.4"/>
<polyline stroke="#868686" stroke-dashoffset="13.8" points="1206.0,100.4 1216.4,135.4 1226.8,151.9 1237.3,171.4 1247.7,186.8 1258.1,199.9 1268.5,205.9 1278.9,212.7 1289.3,220.0 1299.7,228.2 1310.2,236.2 1320.6,243.8 1331.0,250.5 1341.4,258.9 1351.8,266.6 1362.2,273.6 1372.6,279.7 1383.1,285.6 1393.5,291.5 1403.9,297.6 1414.3,304.1 1424.7,310.8 1435.1,318.6 1445.5,326.4 1456.0,334.3 1466.4,342.3 1476.8,350.2 1487.2,358.0 1497.6,365.7 1508.0,373.1 1518.4,380.4 1528.9,387.4 1539.3,394.3 1549.7,401.1 1560.1,407.8 1570.5,414.5 1580.9,421.3 1591.3,428.1 1601.8,435.0 1612.2,442.2 1622.6,449.4 1633.0,456.6 1643.4,463.8 1653.8,471.1 1664.2,477.1 1674.7,483.1 1685.1,489.1 1695.5,495.2 1705.9,501.3 1716.3,507.5 1726.7,513.8 1737.1,520.1 1747.6,526.5 1758.0,532.9 1768.4,539.4 1778.8,545.8 1789.2,552.3 1799.6,558.7 1810.0,565.1 1820.5,571.5 1830.9,577.8 1841.3,584.1 1851.7,590.3 1862.1,596.4 1872.5,602.2 1882.9,607.9 1893.4,613.2 1903.8,618.2 1914.2,622.9 1924.6,627.2 1935.0,631.1 1945.4,634.7 1955.8,638.0 1966.3,640.9 1976.7,643.5 1987.1,645.8 1997.5,647.8 2007.9,649.6 2018.3,651.1 2028.7,652.4 2039.2,653.6"/>
<polyline stroke="#868686" stroke-dashoffset="14.5" points="1206.0,100.3 1216.4,126.0 1226.8,148.3 1237.3,169.3 1247.7,183.6 1258.1,192.3 1268.5,200.7 1278.9,209.7 1289.3,218.0 1299.7,225.8 1310.2,233.4 1320.6,240.6 1331.0,246.6 1341.4,252.3 1351.8,257.7 1362.2,262.9 1372.6,267.9 1383.1,273.4 1393.5,279.7 1403.9,286.4 1414.3,293.5 1424.7,301.0 1435.1,309.1 1445.5,317.3 1456.0,325.5 1466.4,333.6 1476.8,341.7 1487.2,349.7 1497.6,357.4 1508.0,364.9 1518.4,372.1 1528.9,379.0 1539.3,385.6 1549.7,392.2 1560.1,398.5 1570.5,404.9 1580.9,411.1 1591.3,417.4 1601.8,423.8 1612.2,430.3 1622.6,436.9 1633.0,443.4 1643.4,449.8 1653.8,456.3 1664.2,461.5 1674.7,466.6 1685.1,471.8 1695.5,477.1 1705.9,482.5 1716.3,488.0 1726.7,493.6 1737.1,499.3 1747.6,505.2 1758.0,511.1 1768.4,517.1 1778.8,523.2 1789.2,529.5 1799.6,535.8 1810.0,542.2 1820.5,548.8 1830.9,555.5 1841.3,562.5 1851.7,569.6 1862.1,576.9 1872.5,584.3 1882.9,591.8 1893.4,599.2 1903.8,606.6 1914.2,613.9 1924.6,621.0 1935.0,628.0 1945.4,635.0 1955.8,641.8 1966.3,648.5 1976.7,655.0 1987.1,661.3 1997.5,667.3 2007.9,673.0 2018.3,678.5 2028.7,683.5 2039.2,688.2"/>
<polyline stroke="#888888" stroke-dashoffset="8.8" points="1206.0,119.5 1216.4,152.3 1226.8,173.7 1237.3,190.0 1247.7,205.0 1258.1,209.2 1268.5,214.5 1278.9,219.1 1289.3,221.6 1299.7,228.2 1310.2,236.2 1320.6,243.8 1331.0,249.8 1341.4,255.4 1351.8,260.9 1362.2,266.1 1372.6,271.1 1383.1,276.0 1393.5,280.7 1403.9,285.4 1414.3,290.0 1424.7,294.3 1435.1,298.4 1445.5,302.4 1456.0,306.4 1466.4,312.3 1476.8,318.5 1487.2,324.6 1497.6,330.7 1508.0,336.8 1518.4,342.7 1528.9,348.5 1539.3,354.2 1549.7,360.0 1560.1,365.8 1570.5,371.8 1580.9,377.9 1591.3,384.3 1601.8,390.9 1612.2,397.8 1622.6,405.0 1633.0,412.3 1643.4,419.7 1653.8,427.3 1664.2,433.8 1674.7,440.4 1685.1,447.2 1695.5,454.2 1705.9,461.5 1716.3,468.9 1726.7,476.5 1737.1,484.2 1747.6,492.1 1758.0,500.0 1768.4,508.1 1778.8,516.2 1789.2,524.3 1799.6,532.5 1810.0,540.7 1820.5,548.8 1830.9,557.0 1841.3,565.3 1851.7,573.7 1862.1,582.0 1872.5,590.1 1882.9,598.1 1893.4,605.8 1903.8,613.3 1914.2,620.3 1924.6,626.9 1935.0,633.2 1945.4,639.1 1955.8,644.8 1966.3,650.0 1976.7,655.0 1987.1,659.6 1997.5,663.9 2007.9,667.8 2018.3,671.4 2028.7,674.7 2039.2,677.7"/>
<polyline stroke="#898989" stroke-dashoffset="14.1" points="1206.0,113.0 1216.4,134.2 1226.8,164.0 1237.3,183.3 1247.7,200.4 1258.1,213.1 1268.5,225.0 1278.9,233.3 1289.3,244.2 1299.7,254.1 1310.2,264.7 1320.6,275.7 1331.0,286.6 1341.4,297.0 1351.8,306.6 1362.2,315.3 1372.6,323.7 1383.1,331.7 1393.5,339.6 1403.9,347.7 1414.3,356.0 1424.7,364.5 1435.1,373.3 1445.5,382.1 1456.0,390.8 1466.4,399.5 1476.8,408.0 1487.2,416.3 1497.6,424.3 1508.0,432.0 1518.4,439.4 1528.9,446.5 1539.3,453.5 1549.7,460.2 1560.1,466.9 1570.5,473.5 1580.9,480.0 1591.3,486.6 1601.8,493.2 1612.2,500.0 1622.6,506.7 1633.0,513.6 1643.4,520.4 1653.8,527.3 1664.2,533.5 1674.7,539.8 1685.1,546.0 1695.5,552.2 1705.9,558.3 1716.3,564.4 1726.7,570.4 1737.1,576.4 1747.6,582.4 1758.0,588.3 1768.4,594.1 1778.8,599.8 1789.2,605.4 1799.6,610.8 1810.0,616.0 1820.5,621.0 1830.9,625.7 1841.3,630.1 1851.7,634.1 1862.1,637.9 1872.5,641.4 1882.9,644.5 1893.4,647.4 1903.8,649.9 1914.2,652.2 1924.6,654.3 1935.0,656.0 1945.4,657.6 1955.8,658.9 1966.3,660.0 1976.7,661.0 1987.1,661.8 1997.5,662.5 2007.9,663.1 2018.3,663.6 2028.7,664.0 2039.2,664.4"/>
<polyline stroke="#8a8a8a" stroke-dashoffset="2.9" points="1206.0,99.9 1216.4,131.1 1226.8,153.9 1237.3,174.8 1247.7,197.5 1258.1,208.9 1268.5,219.7 1278.9,233.0 1289.3,244.7 1299.7,257.0 1310.2,268.8 1320.6,281.2 1331.0,293.5 1341.4,305.2 1351.8,316.0 1362.2,325.9 1372.6,334.5 1383.1,342.8 1393.5,351.0 1403.9,359.3 1414.3,367.9 1424.7,376.7 1435.1,385.8 1445.5,395.0 1456.0,404.1 1466.4,413.2 1476.8,422.1 1487.2,430.9 1497.6,439.3 1508.0,447.5 1518.4,455.3 1528.9,462.9 1539.3,470.4 1549.7,477.6 1560.1,484.8 1570.5,491.8 1580.9,498.9 1591.3,505.9 1601.8,512.9 1612.2,520.0 1622.6,527.2 1633.0,534.3 1643.4,541.6 1653.8,548.8 1664.2,555.6 1674.7,562.5 1685.1,569.3 1695.5,576.0 1705.9,582.7 1716.3,589.3 1726.7,595.8 1737.1,602.4 1747.6,608.9 1758.0,615.4 1768.4,621.9 1778.8,628.4 1789.2,634.8 1799.6,641.2 1810.0,647.6 1820.5,653.8 1830.9,660.0 1841.3,665.9 1851.7,671.7 1862.1,677.4 1872.5,682.8 1882.9,688.1 1893.4,693.2 1903.8,698.1 1914.2,702.8 1924.6,707.3 1935.0,711.5 1945.4,715.3 1955.8,718.8 1966.3,722.0 1976.7,724.9 1987.1,727.5 1997.5,729.7 2007.9,731.7 2018.3,733.5 2028.7,735.0 2039.2,736.4"/>
<polyline stroke="#8e8e8e" stroke-dashoffset="15.4" points="1206.0,113.7 1216.4,143.6 1226.8,168.5 1237.3,186.1 1247.7,202.3 1258.1,216.8 1268.5,226.2 1278.9,233.2 1289.3,241.8 1299.7,250.7 1310.2,260.1 1320.6,269.9 1331.0,279.7 1341.4,289.2 1351.8,298.3 1362.2,306.7 1372.6,315.4 1383.1,324.1 1393.5,333.1 1403.9,342.7 1414.3,352.8 1424.7,363.4 1435.1,374.2 1445.5,384.9 1456.0,395.5 1466.4,405.9 1476.8,416.0 1487.2,425.6 1497.6,434.6 1508.0,443.0 1518.4,450.8 1528.9,458.0 1539.3,464.5 1549.7,470.6 1560.1,476.2 1570.5,481.3 1580.9,486.2 1591.3,490.7 1601.8,495.0 1612.2,499.1 1622.6,503.2 1633.0,507.2 1643.4,511.2 1653.8,515.2 1664.2,518.4 1674.7,521.8 1685.1,525.3 1695.5,529.1 1705.9,533.1 1716.3,537.5 1726.7,542.2 1737.1,547.3 1747.6,553.0 1758.0,559.0 1768.4,565.6 1778.8,572.6 1789.2,580.0 1799.6,587.8 1810.0,595.9 1820.5,604.3 1830.9,612.7 1841.3,621.2 1851.7,629.5 1862.1,637.6 1872.5,645.3 1882.9,652.6 1893.4,659.2 1903.8,665.3 1914.2,670.6 1924.6,675.2 1935.0,679.1 1945.4,682.3 1955.8,685.0 1966.3,687.2 1976.7,688.9 1987.1,690.3 1997.5,691.5 2007.9,692.4 2018.3,693.1 2028.7,693.7 2039.2,694.2"/>
<polyline stroke="#909090" stroke-dashoffset="7.6" points="1206.0,119.0 1216.4,146.2 1226.8,164.6 1237.3,186.4 1247.7,201.8 1258.1,210.5 1268.5,214.5 1278.9,222.4 1289.3,226.7 1299.7,233.3 1310.2,240.2 1320.6,247.8 1331.0,255.5 1341.4,263.0 1351.8,269.8 1362.2,275.9 1372.6,282.1 1383.1,288.1 1393.5,294.1 1403.9,300.4 1414.3,307.0 1424.7,313.7 1435.1,321.4 1445.5,329.2 1456.0,337.0 1466.4,344.9 1476.8,352.7 1487.2,360.4 1497.6,367.9 1508.0,375.2 1518.4,382.3 1528.9,389.2 1539.3,396.0 1549.7,402.7 1560.1,409.3 1570.5,415.9 1580.9,422.6 1591.3,429.3 1601.8,436.2 1612.2,443.3 1622.6,450.5 1633.0,457.7 1643.4,465.0 1653.8,472.3 1664.2,478.3 1674.7,484.4 1685.1,490.6 1695.5,496.8 1705.9,503.1 1716.3,509.6 1726.7,516.1 1737.1,522.7 1747.6,529.5 1758.0,536.3 1768.4,543.2 1778.8,550.2 1789.2,557.3 1799.6,564.4 1810.0,571.6 1820.5,578.9 1830.9,586.2 1841.3,593.7 1851.7,601.2 1862.1,608.8 1872.5,616.3 1882.9,623.8 1893.4,631.3 1903.8,638.6 1914.2,645.7 1924.6,652.6 1935.0,659.3 1945.4,665.7 1955.8,671.9 1966.3,677.9 1976.7,683.5 1987.1,688.8 1997.5,693.8 2007.9,698.4 2018.3,702.7 2028.7,706.6 2039.2,710.2"/>
<polyline stroke="#919191" stroke-dashoffset="8.2" points="1206.0,102.9 1216.4,130.9 1226.8,153.3 1237.3,176.1 1247.7,191.8 1258.1,204.1 1268.5,214.6 1278.9,224.2 1289.3,231.1 1299.7,240.8 1310.2,251.1 1320.6,261.6 1331.0,272.0 1341.4,282.2 1351.8,291.7 1362.2,300.5 1372.6,308.4 1383.1,316.1 1393.5,323.8 1403.9,331.9 1414.3,340.3 1424.7,349.0 1435.1,358.2 1445.5,367.4 1456.0,376.7 1466.4,385.8 1476.8,394.9 1487.2,403.8 1497.6,412.4 1508.0,420.7 1518.4,428.7 1528.9,436.4 1539.3,444.0 1549.7,451.3 1560.1,458.5 1570.5,465.6 1580.9,472.6 1591.3,479.6 1601.8,486.6 1612.2,493.7 1622.6,500.8 1633.0,507.9 1643.4,514.9 1653.8,521.9 1664.2,527.9 1674.7,533.8 1685.1,539.7 1695.5,545.5 1705.9,551.3 1716.3,557.0 1726.7,562.6 1737.1,568.3 1747.6,573.9 1758.0,579.5 1768.4,585.0 1778.8,590.5 1789.2,596.0 1799.6,601.4 1810.0,606.7 1820.5,612.0 1830.9,617.1 1841.3,622.1 1851.7,627.0 1862.1,631.7 1872.5,636.2 1882.9,640.5 1893.4,644.7 1903.8,648.5 1914.2,652.2 1924.6,655.6 1935.0,658.7 1945.4,661.6 1955.8,664.1 1966.3,666.4 1976.7,668.5 1987.1,670.3 1997.5,671.9 2007.9,673.3 2018.3,674.6 2028.7,675.6 2039.2,676.6"/>
<polyline stroke="#929292" stroke-dashoffset="9.1" points="1206.0,94.5 1216.4,126.2 1226.8,148.5 1237.3,169.9 1247.7,189.0 1258.1,204.4 1268.5,216.4 1278.9,227.4 1289.3,237.2 1299.7,249.8 1310.2,261.7 1320.6,274.1 1331.0,286.4 1341.4,298.3 1351.8,309.5 1362.2,319.8 1372.6,328.7 1383.1,337.3 1393.5,345.7 1403.9,354.4 1414.3,363.2 1424.7,372.1 1435.1,381.0 1445.5,390.0 1456.0,398.8 1466.4,407.4 1476.8,415.7 1487.2,423.8 1497.6,431.6 1508.0,438.9 1518.4,446.0 1528.9,452.7 1539.3,459.3 1549.7,465.7 1560.1,472.0 1570.5,478.3 1580.9,484.6 1591.3,491.0 1601.8,497.5 1612.2,504.2 1622.6,511.0 1633.0,518.0 1643.4,525.0 1653.8,532.2 1664.2,539.0 1674.7,545.8 1685.1,552.7 1695.5,559.6 1705.9,566.4 1716.3,573.2 1726.7,579.9 1737.1,586.6 1747.6,593.1 1758.0,599.5 1768.4,605.7 1778.8,611.6 1789.2,617.3 1799.6,622.6 1810.0,627.5 1820.5,632.1 1830.9,636.2 1841.3,639.9 1851.7,643.2 1862.1,646.1 1872.5,648.7 1882.9,651.0 1893.4,653.0 1903.8,654.7 1914.2,656.2 1924.6,657.5 1935.0,658.7 1945.4,659.7 1955.8,660.5 1966.3,661.2 1976.7,661.8 1987.1,662.4 1997.5,662.8 2007.9,663.2 2018.3,663.6 2028.7,663.9 2039.2,664.1"/>
<polyline stroke="#949494" stroke-dashoffset="13.5" points="1206.0,113.3 1216.4,152.0 1226.8,161.8 1237.3,183.8 1247.7,204.1 1258.1,218.5 1268.5,229.3 1278.9,238.2 1289.3,248.7 1299.7,259.3 1310.2,270.4 1320.6,281.7 1331.0,293.0 1341.4,303.9 1351.8,314.0 1362.2,323.1 1372.6,332.2 1383.1,340.8 1393.5,349.4 1403.9,358.0 1414.3,366.9 1424.7,375.9 1435.1,385.0 1445.5,394.0 1456.0,402.8 1466.4,411.5 1476.8,420.0 1487.2,428.2 1497.6,436.0 1508.0,443.5 1518.4,450.7 1528.9,457.6 1539.3,464.3 1549.7,470.8 1560.1,477.3 1570.5,483.8 1580.9,490.2 1591.3,496.8 1601.8,503.4 1612.2,510.2 1622.6,517.3 1633.0,524.4 1643.4,531.7 1653.8,539.2 1664.2,546.3 1674.7,553.6 1685.1,560.9 1695.5,568.3 1705.9,575.8 1716.3,583.3 1726.7,590.8 1737.1,598.4 1747.6,606.0 1758.0,613.7 1768.4,621.3 1778.8,629.0 1789.2,636.5 1799.6,643.9 1810.0,651.2 1820.5,658.3 1830.9,665.1 1841.3,671.6 1851.7,677.8 1862.1,683.6 1872.5,689.1 1882.9,694.3 1893.4,699.1 1903.8,703.6 1914.2,707.8 1924.6,711.6 1935.0,715.2 1945.4,718.3 1955.8,721.1 1966.3,723.7 1976.7,725.9 1987.1,727.9 1997.5,729.7 2007.9,731.3 2018.3,732.7 2028.7,734.0 2039.2,735.1"/>
<polyline stroke="#979797" stroke-dashoffset="3.9" points="1206.0,99.3 1216.4,137.2 1226.8,154.1 1237.3,174.9 1247.7,198.0 1258.1,209.7 1268.5,225.1 1278.9,235.3 1289.3,249.2 1299.7,260.0 1310.2,272.7 1320.6,285.5 1331.0,298.2 1341.4,310.3 1351.8,321.6 1362.2,331.9 1372.6,341.3 1383.1,350.3 1393.5,359.2 1403.9,368.2 1414.3,377.5 1424.7,386.9 1435.1,396.0 1445.5,405.2 1456.0,414.3 1466.4,423.2 1476.8,431.9 1487.2,440.4 1497.6,448.5 1508.0,456.3 1518.4,463.7 1528.9,470.8 1539.3,477.6 1549.7,484.3 1560.1,490.7 1570.5,497.1 1580.9,503.3 1591.3,509.4 1601.8,515.6 1612.2,521.7 1622.6,527.8 1633.0,533.8 1643.4,539.8 1653.8,545.7 1664.2,551.3 1674.7,556.8 1685.1,562.2 1695.5,567.4 1705.9,572.4 1716.3,577.3 1726.7,582.0 1737.1,586.6 1747.6,591.0 1758.0,595.3 1768.4,599.5 1778.8,603.5 1789.2,607.3 1799.6,610.9 1810.0,614.3 1820.5,617.4 1830.9,620.4 1841.3,623.1 1851.7,625.5 1862.1,627.8 1872.5,629.8 1882.9,631.6 1893.4,633.3 1903.8,634.7 1914.2,636.1 1924.6,637.2 1935.0,638.3 1945.4,639.1 1955.8,639.9 1966.3,640.5 1976.7,641.1 1987.1,641.5 1997.5,641.9 2007.9,642.2 2018.3,642.5 2028.7,642.7 2039.2,642.9"/>
<polyline stroke="#9e9e9e" stroke-dashoffset="6.4" points="1206.0,92.8 1216.4,120.6 1226.8,146.0 1237.3,168.5 1247.7,187.9 1258.1,205.0 1268.5,218.2 1278.9,231.2 1289.3,245.5 1299.7,258.0 1310.2,271.9 1320.6,285.7 1331.0,299.2 1341.4,312.0 1351.8,324.0 1362.2,334.9 1372.6,343.9 1383.1,352.5 1393.5,360.9 1403.9,369.3 1414.3,378.0 1424.7,386.8 1435.1,395.5 1445.5,404.3 1456.0,413.1 1466.4,421.7 1476.8,430.2 1487.2,438.4 1497.6,446.4 1508.0,454.0 1518.4,461.3 1528.9,468.3 1539.3,475.2 1549.7,481.9 1560.1,488.5 1570.5,495.0 1580.9,501.4 1591.3,507.9 1601.8,514.5 1612.2,521.1 1622.6,527.8 1633.0,534.6 1643.4,541.4 1653.8,548.3 1664.2,555.1 1674.7,561.9 1685.1,568.7 1695.5,575.5 1705.9,582.3 1716.3,589.0 1726.7,595.7 1737.1,602.4 1747.6,609.2 1758.0,616.0 1768.4,622.9 1778.8,629.7 1789.2,636.5 1799.6,643.3 1810.0,650.1 1820.5,656.8 1830.9,663.3 1841.3,669.6 1851.7,675.7 1862.1,681.6 1872.5,687.3 1882.9,692.7 1893.4,697.9 1903.8,702.8 1914.2,707.5 1924.6,711.8 1935.0,715.8 1945.4,719.4 1955.8,722.6 1966.3,725.5 1976.7,728.0 1987.1,730.2 1997.5,732.0 2007.9,733.7 2018.3,735.1 2028.7,736.3 2039.2,737.3"/>
<polyline stroke="#ababab" stroke-dashoffset="4.1" points="1206.0,100.7 1216.4,134.0 1226.8,152.4 1237.3,172.7 1247.7,190.8 1258.1,202.1 1268.5,208.5 1278.9,217.4 1289.3,224.3 1299.7,232.4 1310.2,241.5 1320.6,250.8 1331.0,259.9 1341.4,268.7 1351.8,276.7 1362.2,283.8 1372.6,289.9 1383.1,295.7 1393.5,301.5 1403.9,307.4 1414.3,313.7 1424.7,320.1 1435.1,327.8 1445.5,335.6 1456.0,343.6 1466.4,351.7 1476.8,359.9 1487.2,368.0 1497.6,376.0 1508.0,383.9 1518.4,391.6 1528.9,399.2 1539.3,406.6 1549.7,414.1 1560.1,421.5 1570.5,428.9 1580.9,436.4 1591.3,444.0 1601.8,451.7 1612.2,459.5 1622.6,467.4 1633.0,475.3 1643.4,483.1 1653.8,491.0 1664.2,497.6 1674.7,504.1 1685.1,510.5 1695.5,517.0 1705.9,523.4 1716.3,529.8 1726.7,536.1 1737.1,542.4 1747.6,548.7 1758.0,554.9 1768.4,561.1 1778.8,567.3 1789.2,573.4 1799.6,579.5 1810.0,585.5 1820.5,591.4 1830.9,597.3 1841.3,603.1 1851.7,608.8 1862.1,614.5 1872.5,619.9 1882.9,625.2 1893.4,630.2 1903.8,635.0 1914.2,639.6 1924.6,643.8 1935.0,647.7 1945.4,651.3 1955.8,654.6 1966.3,657.6 1976.7,660.3 1987.1,662.7 1997.5,664.8 2007.9,666.6 2018.3,668.3 2028.7,669.6 2039.2,670.8"/>
<polyline stroke="#acacac" stroke-dashoffset="2.1" points="1206.0,97.8 1216.4,126.5 1226.8,150.3 1237.3,172.3 1247.7,187.7 1258.1,199.3 1268.5,205.2 1278.9,211.4 1289.3,220.0 1299.7,228.2 1310.2,236.2 1320.6,243.9 1331.0,249.8 1341.4,256.2 1351.8,263.5 1362.2,270.1 1372.6,275.7 1383.1,281.3 1393.5,287.0 1403.9,293.1 1414.3,299.7 1424.7,306.6 1435.1,315.4 1445.5,324.3 1456.0,333.4 1466.4,342.5 1476.8,351.6 1487.2,360.7 1497.6,369.6 1508.0,378.3 1518.4,386.8 1528.9,395.1 1539.3,403.3 1549.7,411.3 1560.1,419.2 1570.5,427.1 1580.9,435.1 1591.3,443.0 1601.8,451.0 1612.2,459.1 1622.6,467.2 1633.0,475.3 1643.4,483.3 1653.8,491.3 1664.2,497.9 1674.7,504.5 1685.1,511.0 1695.5,517.4 1705.9,523.8 1716.3,530.1 1726.7,536.4 1737.1,542.7 1747.6,548.9 1758.0,555.0 1768.4,561.0 1778.8,566.9 1789.2,572.7 1799.6,578.5 1810.0,584.0 1820.5,589.5 1830.9,594.8 1841.3,600.0 1851.7,605.1 1862.1,609.9 1872.5,614.6 1882.9,619.0 1893.4,623.2 1903.8,627.1 1914.2,630.7 1924.6,634.0 1935.0,637.1 1945.4,639.9 1955.8,642.5 1966.3,644.8 1976.7,646.9 1987.1,648.8 1997.5,650.5 2007.9,652.0 2018.3,653.3 2028.7,654.5 2039.2,655.5"/>
<polyline stroke="#adadad" stroke-dashoffset="10.5" points="1206.0,92.8 1216.4,120.8 1226.8,146.0 1237.3,162.4 1247.7,187.6 1258.1,200.1 1268.5,213.8 1278.9,226.4 1289.3,236.8 1299.7,249.1 1310.2,261.7 1320.6,274.3 1331.0,286.7 1341.4,298.5 1351.8,309.5 1362.2,319.5 1372.6,327.7 1383.1,335.5 1393.5,343.1 1403.9,350.9 1414.3,359.0 1424.7,367.1 1435.1,375.8 1445.5,384.6 1456.0,393.3 1466.4,402.0 1476.8,410.7 1487.2,419.1 1497.6,427.4 1508.0,435.3 1518.4,443.0 1528.9,450.5 1539.3,457.8 1549.7,465.1 1560.1,472.2 1570.5,479.3 1580.9,486.4 1591.3,493.6 1601.8,500.8 1612.2,508.1 1622.6,515.5 1633.0,523.0 1643.4,530.5 1653.8,538.0 1664.2,545.0 1674.7,552.0 1685.1,559.0 1695.5,565.9 1705.9,572.8 1716.3,579.6 1726.7,586.3 1737.1,593.1 1747.6,599.8 1758.0,606.5 1768.4,613.2 1778.8,619.8 1789.2,626.4 1799.6,632.9 1810.0,639.3 1820.5,645.6 1830.9,651.7 1841.3,657.6 1851.7,663.3 1862.1,668.9 1872.5,674.2 1882.9,679.3 1893.4,684.1 1903.8,688.8 1914.2,693.2 1924.6,697.3 1935.0,701.2 1945.4,704.7 1955.8,707.9 1966.3,710.8 1976.7,713.4 1987.1,715.7 1997.5,717.8 2007.9,719.6 2018.3,721.2 2028.7,722.6 2039.2,723.8"/>
<polyline stroke="#bababa" stroke-dashoffset="0.8" points="1206.0,105.0 1216.4,135.8 1226.8,156.4 1237.3,173.3 1247.7,191.5 1258.1,198.6 1268.5,201.3 1278.9,210.4 1289.3,218.7 1299.7,226.7 1310.2,234.5 1320.6,241.9 1331.0,247.8 1341.4,253.5 1351.8,258.9 1362.2,264.1 1372.6,269.1 1383.1,274.0 1393.5,278.8 1403.9,283.5 1414.3,288.0 1424.7,292.3 1435.1,296.4 1445.5,300.5 1456.0,306.2 1466.4,313.6 1476.8,320.9 1487.2,328.2 1497.6,335.3 1508.0,342.2 1518.4,348.9 1528.9,355.4 1539.3,361.6 1549.7,367.8 1560.1,373.8 1570.5,379.8 1580.9,385.9 1591.3,392.0 1601.8,398.2 1612.2,404.5 1622.6,410.9 1633.0,417.3 1643.4,423.6 1653.8,430.0 1664.2,435.3 1674.7,440.6 1685.1,446.0 1695.5,451.4 1705.9,457.0 1716.3,462.7 1726.7,468.5 1737.1,474.3 1747.6,480.2 1758.0,486.2 1768.4,492.1 1778.8,498.1 1789.2,504.1 1799.6,510.0 1810.0,516.0 1820.5,521.9 1830.9,527.8 1841.3,533.8 1851.7,539.8 1862.1,545.6 1872.5,551.3 1882.9,556.8 1893.4,562.0 1903.8,566.8 1914.2,571.2 1924.6,575.3 1935.0,578.9 1945.4,582.3 1955.8,585.4 1966.3,588.2 1976.7,590.7 1987.1,592.9 1997.5,594.9 2007.9,596.6 2018.3,598.1 2028.7,599.4 2039.2,600.5"/>
<polyline stroke="#bababa" stroke-dashoffset="15.2" points="1206.0,116.9 1216.4,153.3 1226.8,168.1 1237.3,190.4 1247.7,208.9 1258.1,217.2 1268.5,230.4 1278.9,237.2 1289.3,246.7 1299.7,255.1 1310.2,265.0 1320.6,275.3 1331.0,285.5 1341.4,295.3 1351.8,304.2 1362.2,312.2 1372.6,320.4 1383.1,328.1 1393.5,335.7 1403.9,343.3 1414.3,351.0 1424.7,358.6 1435.1,366.4 1445.5,374.2 1456.0,381.9 1466.4,389.5 1476.8,397.0 1487.2,404.3 1497.6,411.4 1508.0,418.2 1518.4,424.7 1528.9,431.1 1539.3,437.4 1549.7,443.6 1560.1,449.8 1570.5,456.1 1580.9,462.5 1591.3,469.0 1601.8,475.8 1612.2,482.7 1622.6,489.9 1633.0,497.3 1643.4,504.9 1653.8,512.6 1664.2,519.7 1674.7,526.8 1685.1,534.1 1695.5,541.5 1705.9,548.9 1716.3,556.5 1726.7,564.1 1737.1,571.8 1747.6,579.6 1758.0,587.5 1768.4,595.3 1778.8,603.2 1789.2,611.0 1799.6,618.8 1810.0,626.5 1820.5,634.0 1830.9,641.4 1841.3,648.6 1851.7,655.5 1862.1,662.2 1872.5,668.7 1882.9,674.8 1893.4,680.6 1903.8,686.2 1914.2,691.4 1924.6,696.2 1935.0,700.7 1945.4,704.8 1955.8,708.6 1966.3,712.0 1976.7,715.1 1987.1,717.9 1997.5,720.4 2007.9,722.7 2018.3,724.7 2028.7,726.5 2039.2,728.2"/>
<polyline stroke="#bcbcbc" stroke-dashoffset="9.8" points="1206.0,94.9 1216.4,120.6 1226.8,147.1 1237.3,162.6 1247.7,183.6 1258.1,196.9 1268.5,203.1 1278.9,211.0 1289.3,217.7 1299.7,226.0 1310.2,235.8 1320.6,245.8 1331.0,255.8 1341.4,265.6 1351.8,274.7 1362.2,283.1 1372.6,290.0 1383.1,296.7 1393.5,303.4 1403.9,310.3 1414.3,317.6 1424.7,325.0 1435.1,333.1 1445.5,341.2 1456.0,349.3 1466.4,357.4 1476.8,365.5 1487.2,373.3 1497.6,381.0 1508.0,388.4 1518.4,395.6 1528.9,402.5 1539.3,409.2 1549.7,415.8 1560.1,422.3 1570.5,428.8 1580.9,435.3 1591.3,441.8 1601.8,448.4 1612.2,455.1 1622.6,461.9 1633.0,468.8 1643.4,475.7 1653.8,482.6 1664.2,488.2 1674.7,493.9 1685.1,499.6 1695.5,505.3 1705.9,511.2 1716.3,517.2 1726.7,523.2 1737.1,529.4 1747.6,535.7 1758.0,542.1 1768.4,548.6 1778.8,555.2 1789.2,561.9 1799.6,568.8 1810.0,575.7 1820.5,582.8 1830.9,590.0 1841.3,597.3 1851.7,604.8 1862.1,612.4 1872.5,620.0 1882.9,627.7 1893.4,635.4 1903.8,643.1 1914.2,650.6 1924.6,658.1 1935.0,665.5 1945.4,672.7 1955.8,679.8 1966.3,686.6 1976.7,693.2 1987.1,699.6 1997.5,705.6 2007.9,711.3 2018.3,716.6 2028.7,721.5 2039.2,726.0"/>
<polyline stroke="#bcbcbc" stroke-dashoffset="14.4" points="1206.0,113.0 1216.4,145.3 1226.8,172.2 1237.3,187.7 1247.7,203.1 1258.1,215.9 1268.5,224.6 1278.9,235.6 1289.3,243.2 1299.7,251.5 1310.2,261.5 1320.6,271.3 1331.0,280.9 1341.4,290.0 1351.8,298.2 1362.2,305.4 1372.6,312.6 1383.1,319.3 1393.5,325.8 1403.9,332.4 1414.3,339.1 1424.7,345.8 1435.1,353.2 1445.5,360.6 1456.0,368.0 1466.4,375.5 1476.8,382.9 1487.2,390.2 1497.6,397.4 1508.0,404.3 1518.4,411.0 1528.9,417.6 1539.3,424.1 1549.7,430.6 1560.1,437.0 1570.5,443.5 1580.9,450.0 1591.3,456.7 1601.8,463.6 1612.2,470.6 1622.6,477.9 1633.0,485.2 1643.4,492.7 1653.8,500.3 1664.2,507.0 1674.7,513.7 1685.1,520.6 1695.5,527.5 1705.9,534.5 1716.3,541.5 1726.7,548.5 1737.1,555.7 1747.6,562.9 1758.0,570.1 1768.4,577.3 1778.8,584.6 1789.2,591.8 1799.6,598.9 1810.0,605.9 1820.5,612.8 1830.9,619.5 1841.3,626.0 1851.7,632.2 1862.1,638.1 1872.5,643.7 1882.9,649.0 1893.4,653.8 1903.8,658.3 1914.2,662.4 1924.6,666.0 1935.0,669.3 1945.4,672.2 1955.8,674.7 1966.3,676.8 1976.7,678.7 1987.1,680.3 1997.5,681.6 2007.9,682.8 2018.3,683.8 2028.7,684.6 2039.2,685.3"/>
<polyline stroke="#bdbdbd" stroke-dashoffset="14.7" points="1206.0,114.4 1216.4,149.1 1226.8,168.7 1237.3,194.0 1247.7,209.0 1258.1,218.5 1268.5,225.5 1278.9,234.5 1289.3,240.5 1299.7,248.3 1310.2,257.0 1320.6,265.9 1331.0,274.7 1341.4,283.0 1351.8,290.7 1362.2,297.4 1372.6,304.6 1383.1,311.6 1393.5,318.4 1403.9,325.5 1414.3,332.9 1424.7,340.4 1435.1,348.7 1445.5,357.2 1456.0,365.6 1466.4,374.1 1476.8,382.5 1487.2,390.7 1497.6,398.8 1508.0,406.6 1518.4,414.2 1528.9,421.5 1539.3,428.7 1549.7,435.8 1560.1,442.9 1570.5,449.9 1580.9,456.9 1591.3,464.0 1601.8,471.1 1612.2,478.4 1622.6,485.8 1633.0,493.2 1643.4,500.7 1653.8,508.2 1664.2,514.7 1674.7,521.2 1685.1,527.6 1695.5,534.2 1705.9,540.7 1716.3,547.2 1726.7,553.7 1737.1,560.3 1747.6,566.9 1758.0,573.5 1768.4,580.2 1778.8,586.8 1789.2,593.5 1799.6,600.1 1810.0,606.7 1820.5,613.2 1830.9,619.6 1841.3,626.0 1851.7,632.2 1862.1,638.3 1872.5,644.2 1882.9,649.8 1893.4,655.3 1903.8,660.5 1914.2,665.4 1924.6,669.9 1935.0,674.2 1945.4,678.1 1955.8,681.7 1966.3,684.9 1976.7,687.8 1987.1,690.3 1997.5,692.6 2007.9,694.6 2018.3,696.4 2028.7,697.9 2039.2,699.2"/>
<polyline stroke="#bdbdbd" stroke-dashoffset="3.5" points="1206.0,96.0 1216.4,126.6 1226.8,142.3 1237.3,164.2 1247.7,180.5 1258.1,193.3 1268.5,201.9 1278.9,211.3 1289.3,219.9 1299.7,228.2 1310.2,236.1 1320.6,243.8 1331.0,251.6 1341.4,261.3 1351.8,270.5 1362.2,279.1 1372.6,286.3 1383.1,293.4 1393.5,300.7 1403.9,308.3 1414.3,316.2 1424.7,324.4 1435.1,333.2 1445.5,341.9 1456.0,350.6 1466.4,359.2 1476.8,367.5 1487.2,375.6 1497.6,383.4 1508.0,390.8 1518.4,397.9 1528.9,404.6 1539.3,411.0 1549.7,417.2 1560.1,423.2 1570.5,429.2 1580.9,435.0 1591.3,440.9 1601.8,446.9 1612.2,453.0 1622.6,459.3 1633.0,465.5 1643.4,471.9 1653.8,478.3 1664.2,483.6 1674.7,488.9 1685.1,494.4 1695.5,500.1 1705.9,506.0 1716.3,512.1 1726.7,518.4 1737.1,525.0 1747.6,531.8 1758.0,538.8 1768.4,546.0 1778.8,553.5 1789.2,561.1 1799.6,568.9 1810.0,576.8 1820.5,584.9 1830.9,593.2 1841.3,601.5 1851.7,609.9 1862.1,618.3 1872.5,626.7 1882.9,635.0 1893.4,643.1 1903.8,650.9 1914.2,658.4 1924.6,665.6 1935.0,672.4 1945.4,678.8 1955.8,684.8 1966.3,690.3 1976.7,695.4 1987.1,700.0 1997.5,704.2 2007.9,708.0 2018.3,711.4 2028.7,714.4 2039.2,717.0"/>
<polyline stroke="#c8c8c8" stroke-dashoffset="10.5" points="1206.0,103.8 1216.4,133.7 1226.8,156.1 1237.3,178.9 1247.7,198.0 1258.1,209.1 1268.5,222.6 1278.9,234.3 1289.3,244.2 1299.7,255.3 1310.2,266.7 1320.6,278.0 1331.0,289.1 1341.4,299.6 1351.8,309.2 1362.2,317.8 1372.6,325.6 1383.1,333.0 1393.5,340.2 1403.9,347.6 1414.3,355.3 1424.7,363.2 1435.1,372.0 1445.5,380.9 1456.0,389.8 1466.4,398.8 1476.8,407.8 1487.2,416.6 1497.6,425.3 1508.0,433.7 1518.4,441.9 1528.9,449.9 1539.3,457.7 1549.7,465.5 1560.1,473.1 1570.5,480.7 1580.9,488.2 1591.3,495.7 1601.8,503.1 1612.2,510.5 1622.6,517.9 1633.0,525.2 1643.4,532.3 1653.8,539.2 1664.2,545.5 1674.7,551.6 1685.1,557.4 1695.5,562.9 1705.9,568.2 1716.3,573.2 1726.7,577.9 1737.1,582.3 1747.6,586.6 1758.0,590.5 1768.4,594.3 1778.8,597.8 1789.2,601.1 1799.6,604.1 1810.0,607.0 1820.5,609.6 1830.9,612.0 1841.3,614.2 1851.7,616.2 1862.1,618.1 1872.5,619.7 1882.9,621.3 1893.4,622.7 1903.8,623.9 1914.2,625.1 1924.6,626.1 1935.0,627.1 1945.4,627.9 1955.8,628.6 1966.3,629.2 1976.7,629.7 1987.1,630.2 1997.5,630.6 2007.9,630.9 2018.3,631.2 2028.7,631.4 2039.2,631.6"/>
<polyline stroke="#c9c9c9" stroke-dashoffset="12.7" points="1206.0,111.5 1216.4,140.5 1226.8,161.2 1237.3,183.1 1247.7,197.6 1258.1,207.9 1268.5,217.7 1278.9,223.9 1289.3,231.1 1299.7,239.2 1310.2,247.3 1320.6,256.3 1331.0,265.3 1341.4,273.9 1351.8,281.9 1362.2,289.2 1372.6,296.3 1383.1,303.1 1393.5,310.0 1403.9,317.3 1414.3,324.8 1424.7,332.7 1435.1,341.4 1445.5,350.3 1456.0,359.2 1466.4,368.1 1476.8,376.9 1487.2,385.5 1497.6,394.0 1508.0,402.1 1518.4,410.0 1528.9,417.6 1539.3,425.1 1549.7,432.4 1560.1,439.5 1570.5,446.6 1580.9,453.7 1591.3,460.7 1601.8,467.8 1612.2,475.0 1622.6,482.1 1633.0,489.3 1643.4,496.4 1653.8,503.5 1664.2,509.4 1674.7,515.3 1685.1,521.1 1695.5,526.9 1705.9,532.6 1716.3,538.3 1726.7,544.0 1737.1,549.7 1747.6,555.4 1758.0,561.1 1768.4,566.7 1778.8,572.3 1789.2,577.8 1799.6,583.3 1810.0,588.7 1820.5,594.0 1830.9,599.2 1841.3,604.3 1851.7,609.2 1862.1,613.9 1872.5,618.4 1882.9,622.7 1893.4,626.8 1903.8,630.5 1914.2,634.0 1924.6,637.2 1935.0,640.1 1945.4,642.7 1955.8,645.0 1966.3,647.0 1976.7,648.8 1987.1,650.4 1997.5,651.8 2007.9,652.9 2018.3,654.0 2028.7,654.8 2039.2,655.6"/>
<polyline stroke="#cfcfcf" stroke-dashoffset="8.5" points="1206.0,94.9 1216.4,121.1 1226.8,143.4 1237.3,164.6 1247.7,184.5 1258.1,194.6 1268.5,205.0 1278.9,211.6 1289.3,220.7 1299.7,228.5 1310.2,237.4 1320.6,246.4 1331.0,255.4 1341.4,264.0 1351.8,272.0 1362.2,279.2 1372.6,285.0 1383.1,290.9 1393.5,297.0 1403.9,303.8 1414.3,311.3 1424.7,319.5 1435.1,329.8 1445.5,340.4 1456.0,351.2 1466.4,362.2 1476.8,373.2 1487.2,384.1 1497.6,394.8 1508.0,405.1 1518.4,415.1 1528.9,424.7 1539.3,433.9 1549.7,442.7 1560.1,451.2 1570.5,459.3 1580.9,467.0 1591.3,474.4 1601.8,481.5 1612.2,488.3 1622.6,494.8 1633.0,501.0 1643.4,506.9 1653.8,512.5 1664.2,516.7 1674.7,520.6 1685.1,524.4 1695.5,528.1 1705.9,531.7 1716.3,535.4 1726.7,539.1 1737.1,542.9 1747.6,547.0 1758.0,551.3 1768.4,555.9 1778.8,560.8 1789.2,566.0 1799.6,571.6 1810.0,577.6 1820.5,583.9 1830.9,590.5 1841.3,597.5 1851.7,604.6 1862.1,612.0 1872.5,619.4 1882.9,626.8 1893.4,634.0 1903.8,640.9 1914.2,647.4 1924.6,653.4 1935.0,658.9 1945.4,663.7 1955.8,667.8 1966.3,671.4 1976.7,674.4 1987.1,676.9 1997.5,678.9 2007.9,680.5 2018.3,681.8 2028.7,682.9 2039.2,683.8"/>
<polyline stroke="#d0d0d0" stroke-dashoffset="6.3" points="1206.0,111.0 1216.4,136.9 1226.8,163.0 1237.3,179.0 1247.7,190.6 1258.1,199.2 1268.5,205.8 1278.9,211.7 1289.3,220.4 1299.7,228.7 1310.2,236.8 1320.6,244.6 1331.0,250.5 1341.4,256.2 1351.8,261.6 1362.2,266.8 1372.6,271.8 1383.1,276.7 1393.5,281.5 1403.9,286.2 1414.3,290.7 1424.7,295.0 1435.1,299.2 1445.5,303.2 1456.0,307.1 1466.4,313.8 1476.8,321.3 1487.2,328.7 1497.6,336.0 1508.0,343.1 1518.4,350.1 1528.9,356.9 1539.3,363.5 1549.7,370.1 1560.1,376.6 1570.5,383.1 1580.9,389.7 1591.3,396.4 1601.8,403.2 1612.2,410.3 1622.6,417.4 1633.0,424.5 1643.4,431.6 1653.8,438.8 1664.2,444.7 1674.7,450.7 1685.1,456.8 1695.5,462.9 1705.9,469.2 1716.3,475.5 1726.7,482.0 1737.1,488.5 1747.6,495.1 1758.0,501.7 1768.4,508.3 1778.8,515.0 1789.2,521.7 1799.6,528.4 1810.0,535.1 1820.5,541.8 1830.9,548.5 1841.3,555.4 1851.7,562.3 1862.1,569.2 1872.5,576.0 1882.9,582.6 1893.4,589.1 1903.8,595.3 1914.2,601.2 1924.6,606.7 1935.0,611.9 1945.4,616.9 1955.8,621.6 1966.3,626.0 1976.7,630.1 1987.1,633.9 1997.5,637.4 2007.9,640.6 2018.3,643.5 2028.7,646.1 2039.2,648.5"/>
<polyline stroke="#d4d4d4" stroke-dashoffset="11.7" points="1206.0,95.7 1216.4,126.7 1226.8,149.1 1237.3,166.7 1247.7,186.8 1258.1,200.2 1268.5,211.3 1278.9,221.9 1289.3,233.3 1299.7,243.0 1310.2,254.7 1320.6,266.4 1331.0,277.9 1341.4,289.0 1351.8,299.4 1362.2,308.8 1372.6,316.7 1383.1,324.2 1393.5,331.7 1403.9,339.5 1414.3,347.5 1424.7,355.7 1435.1,364.6 1445.5,373.5 1456.0,382.5 1466.4,391.4 1476.8,400.3 1487.2,408.9 1497.6,417.3 1508.0,425.5 1518.4,433.3 1528.9,440.9 1539.3,448.4 1549.7,455.7 1560.1,462.9 1570.5,470.0 1580.9,477.1 1591.3,484.3 1601.8,491.4 1612.2,498.7 1622.6,506.1 1633.0,513.4 1643.4,520.8 1653.8,528.2 1664.2,534.9 1674.7,541.5 1685.1,548.1 1695.5,554.7 1705.9,561.2 1716.3,567.8 1726.7,574.3 1737.1,580.9 1747.6,587.5 1758.0,594.1 1768.4,600.8 1778.8,607.5 1789.2,614.2 1799.6,620.9 1810.0,627.6 1820.5,634.4 1830.9,641.0 1841.3,647.7 1851.7,654.2 1862.1,660.7 1872.5,667.1 1882.9,673.4 1893.4,679.6 1903.8,685.7 1914.2,691.6 1924.6,697.3 1935.0,702.8 1945.4,708.0 1955.8,712.9 1966.3,717.4 1976.7,721.6 1987.1,725.5 1997.5,729.0 2007.9,732.2 2018.3,735.1 2028.7,737.6 2039.2,739.9"/>
<polyline stroke="#d4d4d4" stroke-dashoffset="14.3" points="1206.0,109.7 1216.4,140.2 1226.8,159.7 1237.3,178.4 1247.7,195.8 1258.1,204.1 1268.5,208.1 1278.9,211.3 1289.3,216.4 1299.7,223.9 1310.2,231.2 1320.6,238.1 1331.0,244.1 1341.4,249.8 1351.8,255.2 1362.2,260.4 1372.6,265.4 1383.1,270.3 1393.5,275.1 1403.9,279.8 1414.3,284.3 1424.7,288.6 1435.1,292.8 1445.5,299.0 1456.0,306.4 1466.4,313.8 1476.8,321.2 1487.2,328.6 1497.6,335.9 1508.0,343.1 1518.4,350.1 1528.9,356.9 1539.3,363.6 1549.7,370.3 1560.1,376.9 1570.5,383.6 1580.9,390.4 1591.3,397.3 1601.8,404.3 1612.2,411.5 1622.6,418.9 1633.0,426.3 1643.4,433.7 1653.8,441.2 1664.2,447.4 1674.7,453.8 1685.1,460.2 1695.5,466.7 1705.9,473.3 1716.3,480.0 1726.7,486.8 1737.1,493.7 1747.6,500.7 1758.0,507.7 1768.4,514.7 1778.8,521.7 1789.2,528.8 1799.6,535.8 1810.0,542.8 1820.5,549.8 1830.9,556.9 1841.3,564.0 1851.7,571.1 1862.1,578.2 1872.5,585.2 1882.9,592.0 1893.4,598.5 1903.8,604.8 1914.2,610.8 1924.6,616.3 1935.0,621.5 1945.4,626.5 1955.8,631.2 1966.3,635.5 1976.7,639.6 1987.1,643.4 1997.5,646.8 2007.9,650.0 2018.3,652.9 2028.7,655.5 2039.2,657.8"/>
<polyline stroke="#d9d9d9" stroke-dashoffset="4.6" points="1206.0,122.3 1216.4,146.7 1226.8,164.9 1237.3,188.5 1247.7,200.4 1258.1,205.4 1268.5,212.2 1278.9,213.9 1289.3,217.8 1299.7,225.6 1310.2,233.1 1320.6,240.3 1331.0,246.3 1341.4,252.0 1351.8,257.4 1362.2,262.6 1372.6,267.6 1383.1,272.5 1393.5,277.3 1403.9,282.0 1414.3,286.5 1424.7,290.8 1435.1,295.0 1445.5,299.0 1456.0,302.9 1466.4,306.8 1476.8,310.6 1487.2,316.2 1497.6,322.9 1508.0,329.5 1518.4,335.8 1528.9,341.9 1539.3,347.8 1549.7,353.6 1560.1,359.2 1570.5,364.9 1580.9,370.5 1591.3,376.2 1601.8,382.0 1612.2,387.9 1622.6,393.9 1633.0,399.9 1643.4,405.8 1653.8,411.7 1664.2,416.9 1674.7,422.1 1685.1,427.4 1695.5,432.9 1705.9,438.5 1716.3,444.3 1726.7,450.3 1737.1,456.4 1747.6,462.6 1758.0,469.0 1768.4,475.4 1778.8,482.0 1789.2,488.7 1799.6,495.5 1810.0,502.4 1820.5,509.4 1830.9,516.6 1841.3,524.2 1851.7,531.9 1862.1,539.9 1872.5,547.9 1882.9,555.8 1893.4,563.7 1903.8,571.8 1914.2,580.8 1924.6,589.3 1935.0,597.3 1945.4,604.9 1955.8,612.0 1966.3,618.4 1976.7,624.2 1987.1,629.3 1997.5,634.0 2007.9,638.1 2018.3,641.7 2028.7,644.9 2039.2,647.7"/>
<polyline stroke="#e2e2e2" stroke-dashoffset="4.3" points="1206.0,99.2 1216.4,132.2 1226.8,151.6 1237.3,177.4 1247.7,192.9 1258.1,209.4 1268.5,218.4 1278.9,227.1 1289.3,238.3 1299.7,248.7 1310.2,259.6 1320.6,271.2 1331.0,282.8 1341.4,293.9 1351.8,304.4 1362.2,314.0 1372.6,322.6 1383.1,330.9 1393.5,339.3 1403.9,347.8 1414.3,356.7 1424.7,365.8 1435.1,375.2 1445.5,384.6 1456.0,393.9 1466.4,403.2 1476.8,412.3 1487.2,421.1 1497.6,429.7 1508.0,437.9 1518.4,445.7 1528.9,453.3 1539.3,460.6 1549.7,467.8 1560.1,474.8 1570.5,481.6 1580.9,488.4 1591.3,495.2 1601.8,502.0 1612.2,508.8 1622.6,515.6 1633.0,522.4 1643.4,529.3 1653.8,536.1 1664.2,542.2 1674.7,548.2 1685.1,554.3 1695.5,560.2 1705.9,566.1 1716.3,572.0 1726.7,577.8 1737.1,583.7 1747.6,589.5 1758.0,595.3 1768.4,601.2 1778.8,607.0 1789.2,612.8 1799.6,618.6 1810.0,624.3 1820.5,629.9 1830.9,635.4 1841.3,640.8 1851.7,646.1 1862.1,651.2 1872.5,656.1 1882.9,660.8 1893.4,665.3 1903.8,669.5 1914.2,673.6 1924.6,677.4 1935.0,680.9 1945.4,684.1 1955.8,686.9 1966.3,689.5 1976.7,691.8 1987.1,693.8 1997.5,695.5 2007.9,697.1 2018.3,698.4 2028.7,699.5 2039.2,700.5"/>
<polyline stroke="#e3e3e3" stroke-dashoffset="10.5" points="1206.0,117.1 1216.4,142.3 1226.8,166.4 1237.3,184.5 1247.7,198.9 1258.1,205.2 1268.5,212.1 1278.9,217.5 1289.3,219.9 1299.7,226.2 1310.2,233.8 1320.6,241.1 1331.0,247.1 1341.4,253.5 1351.8,260.0 1362.2,265.8 1372.6,271.6 1383.1,277.2 1393.5,282.9 1403.9,289.0 1414.3,295.3 1424.7,301.9 1435.1,309.4 1445.5,317.0 1456.0,324.7 1466.4,332.4 1476.8,340.1 1487.2,347.7 1497.6,355.2 1508.0,362.5 1518.4,369.6 1528.9,376.5 1539.3,383.3 1549.7,390.0 1560.1,396.7 1570.5,403.3 1580.9,410.0 1591.3,416.9 1601.8,423.8 1612.2,431.0 1622.6,438.3 1633.0,445.6 1643.4,452.9 1653.8,460.3 1664.2,466.3 1674.7,472.4 1685.1,478.6 1695.5,484.8 1705.9,491.1 1716.3,497.6 1726.7,504.1 1737.1,510.7 1747.6,517.3 1758.0,524.0 1768.4,530.8 1778.8,537.6 1789.2,544.4 1799.6,551.2 1810.0,558.0 1820.5,564.9 1830.9,571.7 1841.3,578.7 1851.7,585.7 1862.1,592.7 1872.5,599.7 1882.9,606.5 1893.4,613.2 1903.8,619.7 1914.2,625.9 1924.6,631.8 1935.0,637.5 1945.4,643.0 1955.8,648.2 1966.3,653.2 1976.7,657.9 1987.1,662.3 1997.5,666.4 2007.9,670.3 2018.3,673.9 2028.7,677.1 2039.2,680.1"/>
<polyline stroke="#ececec" stroke-dashoffset="5.5" points="1206.0,95.7 1216.4,124.2 1226.8,146.0 1237.3,171.3 1247.7,188.7 1258.1,202.0 1268.5,212.6 1278.9,221.9 1289.3,230.9 1299.7,239.7 1310.2,249.9 1320.6,260.1 1331.0,270.2 1341.4,279.7 1351.8,288.4 1362.2,296.2 1372.6,302.6 1383.1,308.8 1393.5,314.9 1403.9,321.3 1414.3,328.1 1424.7,335.1 1435.1,343.9 1445.5,352.9 1456.0,362.1 1466.4,371.3 1476.8,380.6 1487.2,389.8 1497.6,398.9 1508.0,407.7 1518.4,416.4 1528.9,424.9 1539.3,433.3 1549.7,441.6 1560.1,449.9 1570.5,458.0 1580.9,466.2 1591.3,474.4 1601.8,482.6 1612.2,490.9 1622.6,499.2 1633.0,507.5 1643.4,515.7 1653.8,523.9 1664.2,531.1 1674.7,538.2 1685.1,545.2 1695.5,552.2 1705.9,559.0 1716.3,565.8 1726.7,572.5 1737.1,579.2 1747.6,585.8 1758.0,592.4 1768.4,599.0 1778.8,605.5 1789.2,612.1 1799.6,618.6 1810.0,625.1 1820.5,631.6 1830.9,638.1 1841.3,644.5 1851.7,650.9 1862.1,657.2 1872.5,663.5 1882.9,669.6 1893.4,675.7 1903.8,681.7 1914.2,687.6 1924.6,693.3 1935.0,698.8 1945.4,704.0 1955.8,708.9 1966.3,713.5 1976.7,717.8 1987.1,721.8 1997.5,725.4 2007.9,728.7 2018.3,731.7 2028.7,734.4 2039.2,736.7"/>
<polyline stroke="#ededed" stroke-dashoffset="3.4" points="1206.0,96.0 1216.4,126.3 1226.8,146.9 1237.3,168.1 1247.7,185.2 1258.1,196.2 1268.5,209.1 1278.9,216.1 1289.3,225.4 1299.7,234.6 1310.2,245.0 1320.6,255.7 1331.0,266.6 1341.4,277.2 1351.8,287.3 1362.2,296.7 1372.6,304.8 1383.1,312.7 1393.5,320.8 1403.9,329.2 1414.3,338.0 1424.7,347.2 1435.1,356.7 1445.5,366.2 1456.0,375.8 1466.4,385.1 1476.8,394.3 1487.2,403.3 1497.6,411.9 1508.0,420.2 1518.4,428.0 1528.9,435.6 1539.3,442.8 1549.7,449.7 1560.1,456.5 1570.5,463.1 1580.9,469.5 1591.3,475.9 1601.8,482.3 1612.2,488.7 1622.6,495.1 1633.0,501.4 1643.4,507.7 1653.8,513.9 1664.2,519.1 1674.7,524.3 1685.1,529.4 1695.5,534.6 1705.9,539.7 1716.3,544.9 1726.7,550.2 1737.1,555.6 1747.6,561.0 1758.0,566.5 1768.4,572.2 1778.8,577.9 1789.2,583.8 1799.6,589.7 1810.0,595.6 1820.5,601.7 1830.9,607.7 1841.3,613.8 1851.7,619.8 1862.1,625.8 1872.5,631.6 1882.9,637.4 1893.4,642.9 1903.8,648.1 1914.2,653.1 1924.6,657.8 1935.0,662.1 1945.4,666.0 1955.8,669.5 1966.3,672.7 1976.7,675.4 1987.1,677.8 1997.5,679.9 2007.9,681.7 2018.3,683.3 2028.7,684.6 2039.2,685.7"/>
<polyline stroke="#f1f1f1" stroke-dashoffset="8.0" points="1206.0,103.9 1216.4,132.3 1226.8,155.1 1237.3,178.1 1247.7,197.4 1258.1,209.5 1268.5,223.1 1278.9,233.2 1289.3,243.4 1299.7,255.7 1310.2,266.8 1320.6,278.3 1331.0,289.5 1341.4,300.3 1351.8,310.2 1362.2,319.2 1372.6,327.2 1383.1,334.9 1393.5,342.5 1403.9,350.5 1414.3,358.9 1424.7,367.5 1435.1,377.3 1445.5,387.3 1456.0,397.2 1466.4,407.2 1476.8,417.0 1487.2,426.7 1497.6,436.1 1508.0,445.3 1518.4,454.2 1528.9,462.8 1539.3,471.2 1549.7,479.5 1560.1,487.7 1570.5,495.7 1580.9,503.7 1591.3,511.6 1601.8,519.5 1612.2,527.4 1622.6,535.3 1633.0,543.1 1643.4,550.8 1653.8,558.5 1664.2,565.7 1674.7,572.8 1685.1,579.8 1695.5,586.5 1705.9,592.9 1716.3,599.1 1726.7,605.1 1737.1,610.8 1747.6,616.4 1758.0,621.7 1768.4,626.8 1778.8,631.7 1789.2,636.3 1799.6,640.6 1810.0,644.7 1820.5,648.5 1830.9,652.0 1841.3,655.2 1851.7,658.2 1862.1,660.8 1872.5,663.3 1882.9,665.6 1893.4,667.6 1903.8,669.5 1914.2,671.2 1924.6,672.8 1935.0,674.2 1945.4,675.4 1955.8,676.5 1966.3,677.5 1976.7,678.3 1987.1,679.0 1997.5,679.7 2007.9,680.3 2018.3,680.8 2028.7,681.2 2039.2,681.6"/>
<polyline stroke="#f1f1f1" stroke-dashoffset="6.9" points="1206.0,116.7 1216.4,143.2 1226.8,167.4 1237.3,187.5 1247.7,203.7 1258.1,213.3 1268.5,222.2 1278.9,229.5 1289.3,237.7 1299.7,244.1 1310.2,252.9 1320.6,261.8 1331.0,270.5 1341.4,278.8 1351.8,286.3 1362.2,292.8 1372.6,299.4 1383.1,305.6 1393.5,311.8 1403.9,318.1 1414.3,324.7 1424.7,331.4 1435.1,339.4 1445.5,347.5 1456.0,355.6 1466.4,363.8 1476.8,372.0 1487.2,380.1 1497.6,388.0 1508.0,395.7 1518.4,403.3 1528.9,410.6 1539.3,417.9 1549.7,425.1 1560.1,432.3 1570.5,439.4 1580.9,446.7 1591.3,454.0 1601.8,461.5 1612.2,469.1 1622.6,476.8 1633.0,484.6 1643.4,492.5 1653.8,500.4 1664.2,507.3 1674.7,514.1 1685.1,521.0 1695.5,527.9 1705.9,534.8 1716.3,541.7 1726.7,548.6 1737.1,555.6 1747.6,562.5 1758.0,569.5 1768.4,576.4 1778.8,583.2 1789.2,590.0 1799.6,596.7 1810.0,603.3 1820.5,609.7 1830.9,616.0 1841.3,622.1 1851.7,627.9 1862.1,633.6 1872.5,638.9 1882.9,643.9 1893.4,648.6 1903.8,653.0 1914.2,657.0 1924.6,660.7 1935.0,664.0 1945.4,667.0 1955.8,669.6 1966.3,671.9 1976.7,674.0 1987.1,675.8 1997.5,677.4 2007.9,678.7 2018.3,679.9 2028.7,680.9 2039.2,681.8"/>
<polyline stroke="#f3f3f3" stroke-dashoffset="10.0" points="1206.0,102.1 1216.4,132.5 1226.8,151.8 1237.3,174.7 1247.7,191.9 1258.1,205.1 1268.5,210.7 1278.9,220.9 1289.3,228.8 1299.7,238.1 1310.2,248.5 1320.6,259.0 1331.0,269.4 1341.4,279.5 1351.8,288.9 1362.2,297.4 1372.6,305.0 1383.1,312.2 1393.5,319.3 1403.9,326.5 1414.3,334.0 1424.7,341.5 1435.1,349.4 1445.5,357.3 1456.0,365.3 1466.4,373.1 1476.8,380.8 1487.2,388.4 1497.6,395.8 1508.0,402.9 1518.4,409.7 1528.9,416.4 1539.3,422.9 1549.7,429.4 1560.1,435.8 1570.5,442.2 1580.9,448.7 1591.3,455.3 1601.8,462.0 1612.2,469.0 1622.6,476.1 1633.0,483.3 1643.4,490.7 1653.8,498.1 1664.2,504.5 1674.7,511.0 1685.1,517.5 1695.5,524.1 1705.9,530.8 1716.3,537.5 1726.7,544.2 1737.1,551.0 1747.6,557.8 1758.0,564.6 1768.4,571.4 1778.8,578.1 1789.2,584.7 1799.6,591.3 1810.0,597.6 1820.5,603.9 1830.9,609.9 1841.3,615.6 1851.7,621.2 1862.1,626.4 1872.5,631.4 1882.9,636.0 1893.4,640.2 1903.8,644.2 1914.2,647.8 1924.6,651.0 1935.0,653.9 1945.4,656.6 1955.8,658.9 1966.3,660.9 1976.7,662.7 1987.1,664.3 1997.5,665.7 2007.9,666.9 2018.3,668.0 2028.7,668.9 2039.2,669.7"/>
</g>
<path class="tk" d="M150.45 880.05V865.25M150.45 24.35V39.15M254.63 880.05V865.25M254.63 24.35V39.15M358.81 880.05V865.25M358.81 24.35V39.15M462.99 880.05V865.25M462.99 24.35V39.15M567.17 880.05V865.25M567.17 24.35V39.15M671.35 880.05V865.25M671.35 24.35V39.15M775.52 880.05V865.25M775.52 24.35V39.15M879.70 880.05V865.25M879.70 24.35V39.15M983.88 880.05V865.25M983.88 24.35V39.15M150.45 24.35H165.25M994.30 24.35H979.50M150.45 99.11H157.85M994.30 99.11H986.90M150.45 66.91H157.85M994.30 66.91H986.90M150.45 48.08H157.85M994.30 48.08H986.90M150.45 34.72H157.85M994.30 34.72H986.90M150.45 131.31H165.25M994.30 131.31H979.50M150.45 206.08H157.85M994.30 206.08H986.90M150.45 173.88H157.85M994.30 173.88H986.90M150.45 155.04H157.85M994.30 155.04H986.90M150.45 141.68H157.85M994.30 141.68H986.90M150.45 238.27H165.25M994.30 238.27H979.50M150.45 313.04H157.85M994.30 313.04H986.90M150.45 280.84H157.85M994.30 280.84H986.90M150.45 262.00H157.85M994.30 262.00H986.90M150.45 248.64H157.85M994.30 248.64H986.90M150.45 345.24H165.25M994.30 345.24H979.50M150.45 420.00H157.85M994.30 420.00H986.90M150.45 387.80H157.85M994.30 387.80H986.90M150.45 368.97H157.85M994.30 368.97H986.90M150.45 355.60H157.85M994.30 355.60H986.90M150.45 452.20H165.25M994.30 452.20H979.50M150.45 526.96H157.85M994.30 526.96H986.90M150.45 494.76H157.85M994.30 494.76H986.90M150.45 475.93H157.85M994.30 475.93H986.90M150.45 462.57H157.85M994.30 462.57H986.90M150.45 559.16H165.25M994.30 559.16H979.50M150.45 633.93H157.85M994.30 633.93H986.90M150.45 601.73H157.85M994.30 601.73H986.90M150.45 582.89H157.85M994.30 582.89H986.90M150.45 569.53H157.85M994.30 569.53H986.90M150.45 666.12H165.25M994.30 666.12H979.50M150.45 740.89H157.85M994.30 740.89H986.90M150.45 708.69H157.85M994.30 708.69H986.90M150.45 689.85H157.85M994.30 689.85H986.90M150.45 676.49H157.85M994.30 676.49H986.90M150.45 773.09H165.25M994.30 773.09H979.50M150.45 847.85H157.85M994.30 847.85H986.90M150.45 815.65H157.85M994.30 815.65H986.90M150.45 796.82H157.85M994.30 796.82H986.90M150.45 783.45H157.85M994.30 783.45H986.90M150.45 880.05H165.25M994.30 880.05H979.50"/>
<rect class="sp" x="150.45" y="24.35" width="843.85" height="855.70"/>
<text class="t" text-anchor="middle" x="150.45" y="922.85">0</text>
<text class="t" text-anchor="middle" x="254.63" y="922.85">10</text>
<text class="t" text-anchor="middle" x="358.81" y="922.85">20</text>
<text class="t" text-anchor="middle" x="462.99" y="922.85">30</text>
<text class="t" text-anchor="middle" x="567.17" y="922.85">40</text>
<text class="t" text-anchor="middle" x="671.35" y="922.85">50</text>
<text class="t" text-anchor="middle" x="775.52" y="922.85">60</text>
<text class="t" text-anchor="middle" x="879.70" y="922.85">70</text>
<text class="t" text-anchor="middle" x="983.88" y="922.85">80</text>
<text class="t" text-anchor="end" x="130.85" y="36.75">10<tspan class="s" dy="-17.40" dx="1.20">0</tspan></text>
<text class="t" text-anchor="end" x="129.55" y="143.71">10<tspan class="s" dy="-17.40" dx="1.80">-1</tspan></text>
<text class="t" text-anchor="end" x="129.55" y="250.67">10<tspan class="s" dy="-17.40" dx="1.80">-2</tspan></text>
<text class="t" text-anchor="end" x="129.55" y="357.64">10<tspan class="s" dy="-17.40" dx="1.80">-3</tspan></text>
<text class="t" text-anchor="end" x="129.55" y="464.60">10<tspan class="s" dy="-17.40" dx="1.80">-4</tspan></text>
<text class="t" text-anchor="end" x="129.55" y="571.56">10<tspan class="s" dy="-17.40" dx="1.80">-5</tspan></text>
<text class="t" text-anchor="end" x="129.55" y="678.52">10<tspan class="s" dy="-17.40" dx="1.80">-6</tspan></text>
<text class="t" text-anchor="end" x="129.55" y="785.49">10<tspan class="s" dy="-17.40" dx="1.80">-7</tspan></text>
<text class="t" text-anchor="end" x="129.55" y="892.45">10<tspan class="s" dy="-17.40" dx="1.80">-8</tspan></text>
<text class="t" text-anchor="middle" x="572.27" y="977.00">Number of Components</text>
<text class="t" text-anchor="middle" transform="translate(27.95 452.70) rotate(-90)">Fractional Residual Variance</text>
<path class="tk" d="M1195.60 880.05V865.25M1195.60 24.35V39.15M1299.74 880.05V865.25M1299.74 24.35V39.15M1403.88 880.05V865.25M1403.88 24.35V39.15M1508.03 880.05V865.25M1508.03 24.35V39.15M1612.17 880.05V865.25M1612.17 24.35V39.15M1716.31 880.05V865.25M1716.31 24.35V39.15M1820.45 880.05V865.25M1820.45 24.35V39.15M1924.59 880.05V865.25M1924.59 24.35V39.15M2028.74 880.05V865.25M2028.74 24.35V39.15M1195.60 24.35H1210.40M2039.15 24.35H2024.35M1195.60 99.11H1203.00M2039.15 99.11H2031.75M1195.60 66.91H1203.00M2039.15 66.91H2031.75M1195.60 48.08H1203.00M2039.15 48.08H2031.75M1195.60 34.72H1203.00M2039.15 34.72H2031.75M1195.60 131.31H1210.40M2039.15 131.31H2024.35M1195.60 206.08H1203.00M2039.15 206.08H2031.75M1195.60 173.88H1203.00M2039.15 173.88H2031.75M1195.60 155.04H1203.00M2039.15 155.04H2031.75M1195.60 141.68H1203.00M2039.15 141.68H2031.75M1195.60 238.27H1210.40M2039.15 238.27H2024.35M1195.60 313.04H1203.00M2039.15 313.04H2031.75M1195.60 280.84H1203.00M2039.15 280.84H2031.75M1195.60 262.00H1203.00M2039.15 262.00H2031.75M1195.60 248.64H1203.00M2039.15 248.64H2031.75M1195.60 345.24H1210.40M2039.15 345.24H2024.35M1195.60 420.00H1203.00M2039.15 420.00H2031.75M1195.60 387.80H1203.00M2039.15 387.80H2031.75M1195.60 368.97H1203.00M2039.15 368.97H2031.75M1195.60 355.60H1203.00M2039.15 355.60H2031.75M1195.60 452.20H1210.40M2039.15 452.20H2024.35M1195.60 526.96H1203.00M2039.15 526.96H2031.75M1195.60 494.76H1203.00M2039.15 494.76H2031.75M1195.60 475.93H1203.00M2039.15 475.93H2031.75M1195.60 462.57H1203.00M2039.15 462.57H2031.75M1195.60 559.16H1210.40M2039.15 559.16H2024.35M1195.60 633.93H1203.00M2039.15 633.93H2031.75M1195.60 601.73H1203.00M2039.15 601.73H2031.75M1195.60 582.89H1203.00M2039.15 582.89H2031.75M1195.60 569.53H1203.00M2039.15 569.53H2031.75M1195.60 666.12H1210.40M2039.15 666.12H2024.35M1195.60 740.89H1203.00M2039.15 740.89H2031.75M1195.60 708.69H1203.00M2039.15 708.69H2031.75M1195.60 689.85H1203.00M2039.15 689.85H2031.75M1195.60 676.49H1203.00M2039.15 676.49H2031.75M1195.60 773.09H1210.40M2039.15 773.09H2024.35M1195.60 847.85H1203.00M2039.15 847.85H2031.75M1195.60 815.65H1203.00M2039.15 815.65H2031.75M1195.60 796.82H1203.00M2039.15 796.82H2031.75M1195.60 783.45H1203.00M2039.15 783.45H2031.75M1195.60 880.05H1210.40M2039.15 880.05H2024.35"/>
<rect class="sp" x="1195.60" y="24.35" width="843.55" height="855.70"/>
<text class="t" text-anchor="middle" x="1195.60" y="922.85">0</text>
<text class="t" text-anchor="middle" x="1299.74" y="922.85">10</text>
<text class="t" text-anchor="middle" x="1403.88" y="922.85">20</text>
<text class="t" text-anchor="middle" x="1508.03" y="922.85">30</text>
<text class="t" text-anchor="middle" x="1612.17" y="922.85">40</text>
<text class="t" text-anchor="middle" x="1716.31" y="922.85">50</text>
<text class="t" text-anchor="middle" x="1820.45" y="922.85">60</text>
<text class="t" text-anchor="middle" x="1924.59" y="922.85">70</text>
<text class="t" text-anchor="middle" x="2028.74" y="922.85">80</text>
<text class="t" text-anchor="end" x="1176.00" y="36.75">10<tspan class="s" dy="-17.40" dx="1.20">0</tspan></text>
<text class="t" text-anchor="end" x="1174.70" y="143.71">10<tspan class="s" dy="-17.40" dx="1.80">-1</tspan></text>
<text class="t" text-anchor="end" x="1174.70" y="250.67">10<tspan class="s" dy="-17.40" dx="1.80">-2</tspan></text>
<text class="t" text-anchor="end" x="1174.70" y="357.64">10<tspan class="s" dy="-17.40" dx="1.80">-3</tspan></text>
<text class="t" text-anchor="end" x="1174.70" y="464.60">10<tspan class="s" dy="-17.40" dx="1.80">-4</tspan></text>
<text class="t" text-anchor="end" x="1174.70" y="571.56">10<tspan class="s" dy="-17.40" dx="1.80">-5</tspan></text>
<text class="t" text-anchor="end" x="1174.70" y="678.52">10<tspan class="s" dy="-17.40" dx="1.80">-6</tspan></text>
<text class="t" text-anchor="end" x="1174.70" y="785.49">10<tspan class="s" dy="-17.40" dx="1.80">-7</tspan></text>
<text class="t" text-anchor="end" x="1174.70" y="892.45">10<tspan class="s" dy="-17.40" dx="1.80">-8</tspan></text>
<text class="t" text-anchor="middle" x="1617.28" y="977.00">Number of Components</text>
<text class="t" text-anchor="middle" transform="translate(1073.10 452.70) rotate(-90)">Fractional Residual Variance</text>
<text class="l" x="172.40" y="849.10">(a)</text>
<text class="l" x="1217.60" y="849.10">(b)</text>
<rect x="559.90" y="46.60" width="412.10" height="143.10" fill="#fff" stroke="#000" stroke-width="3.7"/>
<line x1="590.80" x2="653.00" y1="82.30" y2="82.30" stroke="#808080" stroke-width="3.7" stroke-linecap="square"/>
<text class="l" x="702.00" y="97.30">KLIP</text>
<line x1="590.80" x2="653.00" y1="147.40" y2="147.40" stroke="#0000ff" stroke-width="3.7" stroke-linecap="square"/>
<text class="l" x="702.00" y="162.80">KLIP theory</text>
<rect x="1760.30" y="46.50" width="257.00" height="78.20" fill="#fff" stroke="#000" stroke-width="3.7"/>
<line x1="1791.40" x2="1854.40" y1="82.30" y2="82.30" stroke="#808080" stroke-width="3.7" stroke-dasharray="22.2 22.2"/>
<text class="l" x="1902.70" y="98.00">NMF</text>
</svg></body></html>
